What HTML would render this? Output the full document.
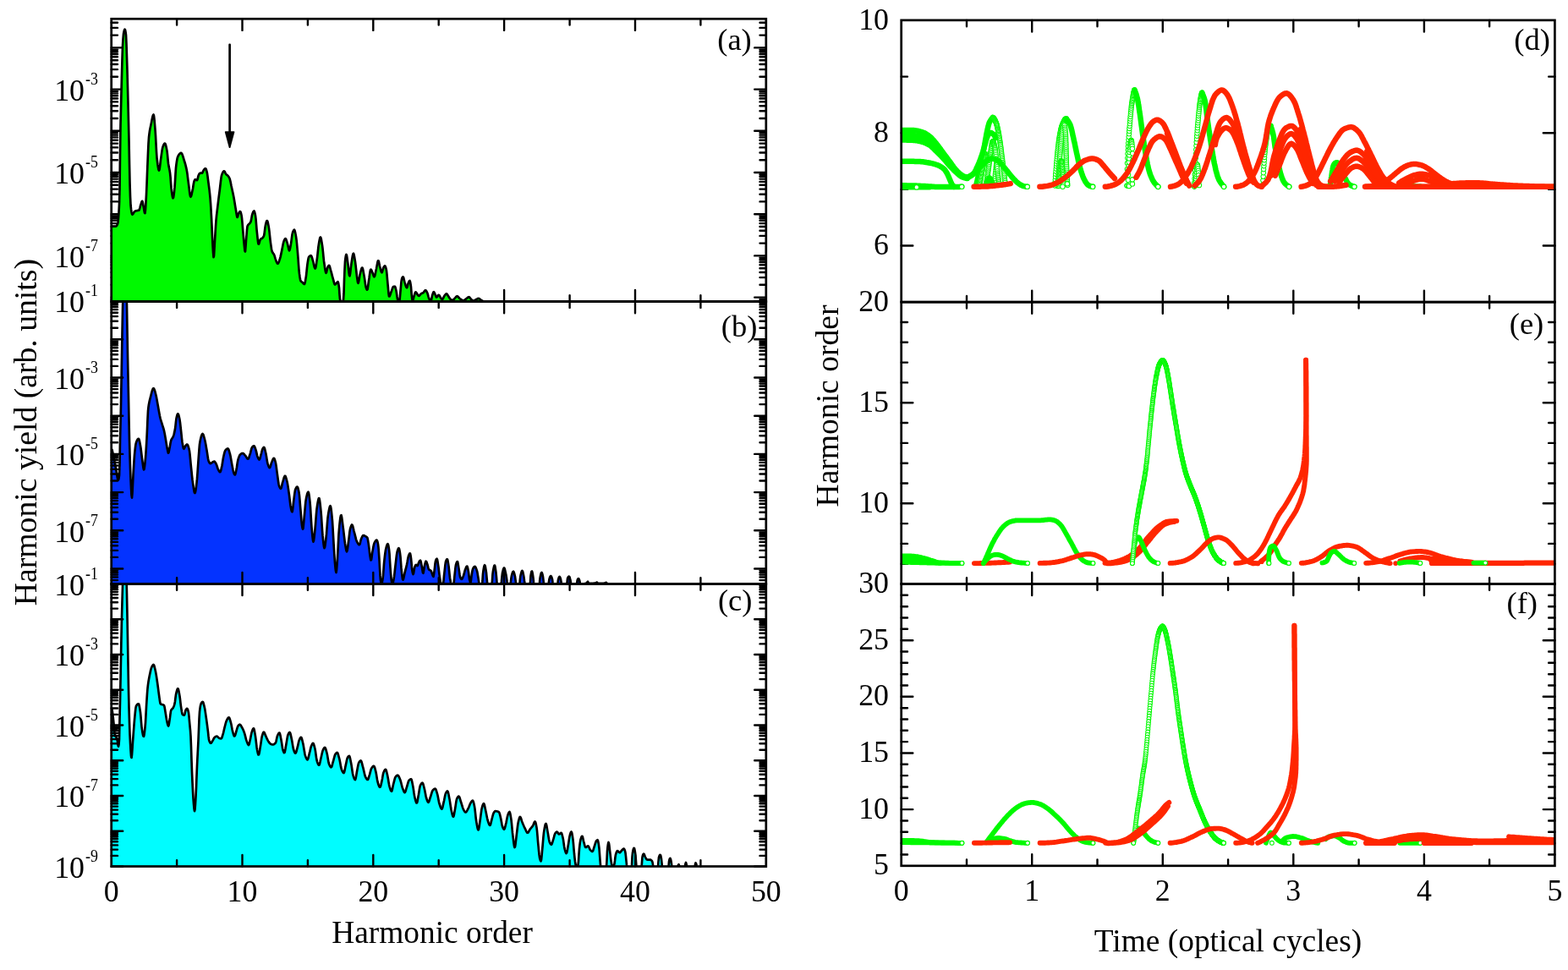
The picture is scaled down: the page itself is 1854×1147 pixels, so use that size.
<!DOCTYPE html>
<html><head><meta charset="utf-8"><title>Harmonic spectra and time-frequency analysis</title>
<style>
html,body{margin:0;padding:0;background:#fff;}
body{width:1854px;height:1147px;overflow:hidden;}
svg{display:block;}
svg text{font-family:"Liberation Serif",serif;fill:#000;}
</style></head>
<body>
<svg width="1854" height="1147" viewBox="0 0 1854 1147">
<rect width="1854" height="1147" fill="#fff"/>
<defs>
<clipPath id="cl0"><rect x="131.7" y="22.3" width="774.1" height="334.2"/></clipPath>
<clipPath id="cr0"><rect x="1065.7" y="23.9" width="772.7" height="333.2"/></clipPath>
<clipPath id="cl1"><rect x="131.7" y="356.6" width="774.1" height="333.9"/></clipPath>
<clipPath id="cr1"><rect x="1065.7" y="357.2" width="772.7" height="333.3"/></clipPath>
<clipPath id="cl2"><rect x="131.7" y="690.5" width="774.1" height="334"/></clipPath>
<clipPath id="cr2"><rect x="1065.7" y="690.5" width="772.7" height="333.3"/></clipPath>
</defs>
<path d="M286.5,22.3V35.9M441.3,22.3V35.9M596.1,22.3V35.9M751,22.3V35.9M209.1,22.3V29.6M363.9,22.3V29.6M518.7,22.3V29.6M673.6,22.3V29.6M828.4,22.3V29.6" stroke="#000" stroke-width="2.4" fill="none" stroke-linecap="round"/>
<path d="M286.5,342.9V356.6M441.3,342.9V356.6M596.1,342.9V356.6M751,342.9V356.6M209.1,349.2V356.6M363.9,349.2V356.6M518.7,349.2V356.6M673.6,349.2V356.6M828.4,349.2V356.6" stroke="#000" stroke-width="2.4" fill="none" stroke-linecap="round"/>
<path d="M131.7,351.6H145.2M131.7,302.4H145.2M131.7,253.2H145.2M131.7,204H145.2M131.7,154.8H145.2M131.7,105.6H145.2M131.7,56.4H145.2" stroke="#000" stroke-width="2.4" fill="none" stroke-linecap="round"/>
<path d="M131.7,353.9H139M131.7,336.8H139M131.7,328.1H139M131.7,322H139M131.7,317.2H139M131.7,313.3H139M131.7,310H139M131.7,307.2H139M131.7,304.7H139M131.7,287.6H139M131.7,278.9H139M131.7,272.8H139M131.7,268H139M131.7,264.1H139M131.7,260.8H139M131.7,258H139M131.7,255.5H139M131.7,238.4H139M131.7,229.7H139M131.7,223.6H139M131.7,218.8H139M131.7,214.9H139M131.7,211.6H139M131.7,208.8H139M131.7,206.3H139M131.7,189.2H139M131.7,180.5H139M131.7,174.4H139M131.7,169.6H139M131.7,165.7H139M131.7,162.4H139M131.7,159.6H139M131.7,157.1H139M131.7,140H139M131.7,131.3H139M131.7,125.2H139M131.7,120.4H139M131.7,116.5H139M131.7,113.2H139M131.7,110.4H139M131.7,107.9H139M131.7,90.8H139M131.7,82.1H139M131.7,76H139M131.7,71.2H139M131.7,67.3H139M131.7,64H139M131.7,61.2H139M131.7,58.7H139M131.7,41.6H139M131.7,32.9H139M131.7,26.8H139" stroke="#000" stroke-width="2.4" fill="none" stroke-linecap="round"/>
<path d="M892.2,351.6H905.8M892.2,302.4H905.8M892.2,253.2H905.8M892.2,204H905.8M892.2,154.8H905.8M892.2,105.6H905.8M892.2,56.4H905.8" stroke="#000" stroke-width="2.4" fill="none" stroke-linecap="round"/>
<path d="M898.5,353.9H905.8M898.5,336.8H905.8M898.5,328.1H905.8M898.5,322H905.8M898.5,317.2H905.8M898.5,313.3H905.8M898.5,310H905.8M898.5,307.2H905.8M898.5,304.7H905.8M898.5,287.6H905.8M898.5,278.9H905.8M898.5,272.8H905.8M898.5,268H905.8M898.5,264.1H905.8M898.5,260.8H905.8M898.5,258H905.8M898.5,255.5H905.8M898.5,238.4H905.8M898.5,229.7H905.8M898.5,223.6H905.8M898.5,218.8H905.8M898.5,214.9H905.8M898.5,211.6H905.8M898.5,208.8H905.8M898.5,206.3H905.8M898.5,189.2H905.8M898.5,180.5H905.8M898.5,174.4H905.8M898.5,169.6H905.8M898.5,165.7H905.8M898.5,162.4H905.8M898.5,159.6H905.8M898.5,157.1H905.8M898.5,140H905.8M898.5,131.3H905.8M898.5,125.2H905.8M898.5,120.4H905.8M898.5,116.5H905.8M898.5,113.2H905.8M898.5,110.4H905.8M898.5,107.9H905.8M898.5,90.8H905.8M898.5,82.1H905.8M898.5,76H905.8M898.5,71.2H905.8M898.5,67.3H905.8M898.5,64H905.8M898.5,61.2H905.8M898.5,58.7H905.8M898.5,41.6H905.8M898.5,32.9H905.8M898.5,26.8H905.8" stroke="#000" stroke-width="2.4" fill="none" stroke-linecap="round"/>
<g clip-path="url(#cl0)">
<path d="M131.7,359.6L131.7,267.4L132.5,267.4 133,267.5 133.5,267.6 134,267.6 134.5,267.7 135,267.7 135.5,267.7 136,267.7 136.5,267.7 137,267.7 137.5,267.4 138,266.8 138.5,266 139,265 139.5,263 140,257.9 140.5,250.8 141,241.3 141.5,224 142,182.4 142.5,147.9 143,128.5 143.5,108.7 144,88.8 144.5,69.9 145,54.6 145.5,46.1 146,40.3 146.5,37.5 147,35.6 147.5,34.7 148,35.4 148.5,37.7 149,41.4 149.5,52.3 150,67.9 150.5,84.4 151,103.7 151.5,123.9 152,144.5 152.5,166.6 153,193 153.5,216.1 154,232 154.5,242.5 155,247.2 155.5,250.7 156,253 156.5,253.6 157,253.3 157.5,252.6 158,251.7 158.5,250.9 159,250.2 159.5,249.9 160,249.6 160.5,249.5 161,249.3 161.5,249.2 162,249.1 162.5,249 163,248.9 163.5,248.8 164,248.7 164.5,248.5 165,247.3 165.5,245.5 166,243.5 166.5,241.9 167,240.3 167.5,238.7 168,237.8 168.5,238.3 169,240.6 169.5,243.5 170,246.2 170.5,249.3 171,251.8 171.5,252.1 172,247.5 172.5,239.4 173,230.3 173.5,219.1 174,205.5 174.5,193.2 175,181.1 175.5,170.1 176,162.5 176.5,158.2 177,154.8 177.5,152 178,149.7 178.5,147.4 179,144.9 179.5,142.2 180,139.7 180.5,137.6 181,136.1 181.5,135.5 182,137 182.5,141.2 183,147.1 183.5,153.3 184,160.7 184.5,170.3 185,179.8 185.5,186.8 186,191.1 186.5,195 187,198.3 187.5,200.6 188,201.6 188.5,200.6 189,197.5 189.5,193.3 190,189.1 190.5,185.7 191,182.1 191.5,178.6 192,175.7 192.5,173.8 193,172.4 193.5,171.2 194,170.3 194.5,169.7 195,169.5 195.5,170.1 196,171.6 196.5,173.6 197,176 197.5,178.7 198,183.2 198.5,188.5 199,193.2 199.5,196.4 200,198.8 200.5,201.2 201,204.2 201.5,208.9 202,215.8 202.5,222.4 203,226.6 203.5,230.1 204,232.9 204.5,234.3 205,233.7 205.5,230.8 206,226.5 206.5,221.7 207,214.7 207.5,205.8 208,198.3 208.5,194.1 209,190.7 209.5,187.9 210,185.9 210.5,184.7 211,183.8 211.5,183 212,182.3 212.5,181.7 213,181.3 213.5,181 214,180.8 214.5,181 215,181.6 215.5,182.6 216,184 216.5,185.5 217,187.2 217.5,188.9 218,190.5 218.5,192 219,193.7 219.5,195.6 220,197.6 220.5,199.9 221,202.4 221.5,205.8 222,209.8 222.5,213.9 223,217.6 223.5,221.6 224,225.8 224.5,229.5 225,232 225.5,232.7 226,231.8 226.5,230.1 227,227.8 227.5,225.5 228,223 228.5,219.8 229,216.8 229.5,214.5 230,213.3 230.5,212.4 231,212.3 231.5,212.5 232,212.8 232.5,213.1 233,213.1 233.5,212.1 234,210.1 234.5,208 235,206.7 235.5,205.8 236,205.1 236.5,204.7 237,204.6 237.5,204.7 238,204.7 238.5,204.8 239,204.7 239.5,204 240,202.9 240.5,201.7 241,200.9 241.5,200.3 242,199.8 242.5,199.4 243,199.3 243.5,199.8 244,201.1 244.5,202.9 245,205.1 245.5,208.6 246,212.6 246.5,216.5 247,220.2 247.5,224.1 248,228.5 248.5,233.6 249,240.1 249.5,248.1 250,257.1 250.5,267.6 251,280 251.5,289.8 252,298.5 252.5,304.2 253,302.5 253.5,293.7 254,284.8 254.5,276.3 255,267.8 255.5,260.7 256,255.4 256.5,251.1 257,247 257.5,242.8 258,238.7 258.5,234.6 259,230.7 259.5,226.8 260,222.9 260.5,218.5 261,214.2 261.5,210.3 262,207.6 262.5,206.1 263,204.9 263.5,203.8 264,203 264.5,202.5 265,202.3 265.5,202.6 266,203.5 266.5,204.6 267,205.6 267.5,206.2 268,206.6 268.5,207 269,207.4 269.5,207.9 270,208.5 270.5,209.2 271,210.1 271.5,211.1 272,212.7 272.5,214.8 273,217.2 273.5,219.8 274,222.1 274.5,224.3 275,226.6 275.5,228.9 276,231.3 276.5,233.8 277,236.7 277.5,239.7 278,242.9 278.5,246 279,248.8 279.5,252 280,255.1 280.5,256.9 281,256.5 281.5,254.7 282,252.8 282.5,251.7 283,250.8 283.5,250.2 284,250 284.5,250.6 285,252.3 285.5,254.5 286,257.8 286.5,263.3 287,269.7 287.5,275.6 288,281.6 288.5,287.1 289,292.1 289.5,296.8 290,297.5 290.5,291.4 291,283.9 291.5,277.9 292,271.9 292.5,267.7 293,266.5 293.5,265.8 294,265.4 294.5,264.9 295,264.4 295.5,263.7 296,263.1 296.5,262.1 297,260.2 297.5,257.2 298,254.4 298.5,252.8 299,251.5 299.5,250.4 300,249.7 300.5,249.5 301,250.5 301.5,252.5 302,255 302.5,258.9 303,265.1 303.5,271.3 304,276.2 304.5,281.2 305,285.7 305.5,288.4 306,288.6 306.5,287.3 307,285.5 307.5,283.8 308,282.9 308.5,282.5 309,282.3 309.5,282.1 310,281.7 310.5,281.3 311,280.7 311.5,280 312,279 312.5,276.9 313,272.8 313.5,268.7 314,266.1 314.5,263.9 315,262.1 315.5,261 316,261 316.5,262.2 317,264.4 317.5,267.1 318,269.9 318.5,273.9 319,278.6 319.5,283.3 320,287.3 320.5,290.9 321,294.2 321.5,296.7 322,298 322.5,298.9 323,299.6 323.5,300.2 324,301 324.5,302.2 325,303.8 325.5,305.6 326,307.2 326.5,308.4 327,309.7 327.5,310.8 328,311.6 328.5,311.7 329,311.2 329.5,310.2 330,308.9 330.5,307.4 331,305.9 331.5,304.1 332,301.9 332.5,299.6 333,297.2 333.5,294.9 334,292.3 334.5,289.7 335,287.3 335.5,285.6 336,284.3 336.5,283.3 337,282.5 337.5,282.1 338,282.5 338.5,283.6 339,285.1 339.5,286.9 340,288.6 340.5,290.6 341,293 341.5,295.2 342,296.3 342.5,295.7 343,293.7 343.5,291 344,288.3 344.5,284.9 345,280.9 345.5,277.3 346,275.2 346.5,273.8 347,272.7 347.5,272 348,271.7 348.5,272.6 349,274.5 349.5,277 350,279.8 350.5,283.2 351,287.9 351.5,293.5 352,299.2 352.5,305.6 353,312.9 353.5,319.5 354,323.9 354.5,327.5 355,330.3 355.5,332.1 356,332.8 356.5,333.2 357,333.5 357.5,333.9 358,334.4 358.5,335 359,335.5 359.5,335.9 360,335.9 360.5,334.6 361,332.2 361.5,329.2 362,326.1 362.5,321.5 363,316.4 363.5,312.2 364,308.9 364.5,306.1 365,304.2 365.5,303.5 366,303 366.5,302.6 367,302.3 367.5,302.2 368,302.4 368.5,303.5 369,305 369.5,306.7 370,308.2 370.5,310.3 371,312.6 371.5,314.8 372,316.5 372.5,317.5 373,317.2 373.5,315.2 374,312.1 374.5,308.6 375,305.1 375.5,300.6 376,295.8 376.5,291.4 377,288.2 377.5,285.3 378,282.7 378.5,280.9 379,280.5 379.5,281.6 380,283.9 380.5,286.9 381,290 381.5,293.8 382,298.7 382.5,304 383,308.7 383.5,312.3 384,315.9 384.5,319.1 385,321.6 385.5,322.8 386,322 386.5,319.6 387,317.2 387.5,315.9 388,315 388.5,314.3 389,313.9 389.5,314.3 390,315.7 390.5,317.5 391,319.4 391.5,321.1 392,322.9 392.5,324.9 393,326.8 393.5,328.6 394,330.3 394.5,332.3 395,334.2 395.5,335.7 396,336.5 396.5,336.4 397,335.8 397.5,335.2 398,334.6 398.5,334 399,333.4 399.5,333.2 400,334.3 400.5,336.9 401,340.7 401.5,348.6 402,354.1 402.5,355.5 403,356.6 403.5,357.2 404,357.4 404.5,357.3 405,356.8 405.5,355.9 406,354.6 406.5,347.7 407,331 407.5,318.9 408,309.2 408.5,304.9 409,302 409.5,300.9 410,302.1 410.5,305.4 411,309.2 411.5,312.8 412,317.5 412.5,322.2 413,325.6 413.5,326.3 414,324 414.5,319.7 415,315.1 415.5,311.5 416,308.3 416.5,305 417,302.1 417.5,300.2 418,299.7 418.5,300.9 419,303.4 419.5,306.4 420,309.5 420.5,313.4 421,318 421.5,322.7 422,326.8 422.5,330.4 423,333.7 423.5,334.8 424,333.5 424.5,331 425,327.9 425.5,325.1 426,323 426.5,321 427,319.1 427.5,317.5 428,316.6 428.5,316.6 429,318 429.5,320.4 430,323.2 430.5,325.9 431,328.9 431.5,332.5 432,336 432.5,339 433,340.8 433.5,341.9 434,342.6 434.5,342.2 435,339.6 435.5,335.8 436,331.9 436.5,328.8 437,325.1 437.5,321.7 438,319.3 438.5,318.6 439,319.2 439.5,320.2 440,321.4 440.5,322.5 441,323.9 441.5,325.4 442,326.7 442.5,327.3 443,326.7 443.5,324.9 444,322.5 444.5,320 445,317.8 445.5,315 446,312.2 446.5,309.8 447,308.3 447.5,308.3 448,309.8 448.5,312.2 449,314.6 449.5,316.5 450,318.5 450.5,320.4 451,321.8 451.5,322.3 452,321.3 452.5,319.5 453,317.6 453.5,316.3 454,315.5 454.5,314.8 455,314.4 455.5,314.7 456,315.9 456.5,317.7 457,320.1 457.5,324.7 458,330.6 458.5,336 459,341.6 459.5,347.2 460,350.5 460.5,350.5 461,349.6 461.5,348.2 462,346.7 462.5,345.2 463,344 463.5,342.5 464,341.1 464.5,339.8 465,339.1 465.5,338.9 466,338.8 466.5,338.7 467,338.8 467.5,339.9 468,341.8 468.5,344 469,347 469.5,350.7 470,353.6 470.5,354.6 471,355.3 471.5,355.8 472,356.1 472.5,355 473,350.1 473.5,344.3 474,338.8 474.5,333.1 475,330.2 475.5,328.7 476,327.7 476.5,327.3 477,327.9 477.5,329.7 478,331.9 478.5,333.8 479,335.4 479.5,337.1 480,338.7 480.5,339.8 481,340.3 481.5,339.6 482,337.6 482.5,335.5 483,334.2 483.5,333.1 484,332.2 484.5,332 485,333.3 485.5,335.9 486,339.5 486.5,346.1 487,351.3 487.5,354.8 488,356.1 488.5,354.8 489,352.5 489.5,350.5 490,348.8 490.5,347.1 491,345.8 491.5,345.4 492,345.7 492.5,346.4 493,347.3 493.5,348.1 494,348.7 494.5,349.4 495,349.8 495.5,349.9 496,349.5 496.5,348.9 497,348.2 497.5,347.6 498,347.3 498.5,347 499,346.8 499.5,346.6 500,346.4 500.5,346.1 501,345.5 501.5,344.8 502,344.1 502.5,343.5 503,343.2 503.5,343.3 504,343.9 504.5,344.8 505,345.8 505.5,347 506,348.6 506.5,350.6 507,352.4 507.5,353.5 508,354.3 508.5,355.1 509,355.6 509.5,355.8 510,354.7 510.5,352.2 511,349.7 511.5,348.1 512,346.6 512.5,345.5 513,345.2 513.5,345.9 514,347 514.5,348.1 515,349.3 515.5,350.6 516,351.5 516.5,351.5 517,350.9 517.5,350.1 518,349.3 518.5,348.8 519,348.8 519.5,349.4 520,350.2 520.5,351.2 521,352.1 521.5,352.7 522,353.4 522.5,353.9 523,354.1 523.5,353.6 524,352.7 524.5,351.6 525,350.6 525.5,349.8 526,349.1 526.5,348.5 527,347.9 527.5,347.5 528,347.4 528.5,347.7 529,348.3 529.5,349.2 530,350.1 530.5,350.8 531,351.6 531.5,352.4 532,353.1 532.5,353.7 533,354.1 533.5,354.4 534,354.6 534.5,354.8 535,354.9 535.5,354.9 536,354.7 536.5,354.2 537,353.6 537.5,352.9 538,352.4 538.5,351.9 539,351.3 539.5,350.8 540,350.4 540.5,350.2 541,350.4 541.5,350.8 542,351.3 542.5,351.9 543,352.5 543.5,353 544,353.4 544.5,353.7 545,354 545.5,354.3 546,354.6 546.5,354.9 547,355.1 547.5,355.2 548,355.3 548.5,355.2 549,355 549.5,354.7 550,354.3 550.5,353.9 551,353.5 551.5,353.2 552,352.8 552.5,352.3 553,351.9 553.5,351.5 554,351.3 554.5,351.2 555,351.5 555.5,352 556,352.6 556.5,353.3 557,353.9 557.5,354.3 558,354.8 558.5,355.2 559,355.5 559.5,355.7 560,355.7 560.5,355.6 561,355.4 561.5,355 562,354.7 562.5,354.4 563,354.1 563.5,353.9 564,353.6 564.5,353.3 565,353.1 565.5,353 566,352.9 566.5,353.1 567,353.4 567.5,353.8 568,354.2 568.5,354.6 569,355 569.5,355.2 570,355.5 570.5,355.7 571,355.9L571,359.6Z" fill="#00F900" stroke="none"/>
<path d="M131.7,267.4L132.5,267.4 133,267.5 133.5,267.6 134,267.6 134.5,267.7 135,267.7 135.5,267.7 136,267.7 136.5,267.7 137,267.7 137.5,267.4 138,266.8 138.5,266 139,265 139.5,263 140,257.9 140.5,250.8 141,241.3 141.5,224 142,182.4 142.5,147.9 143,128.5 143.5,108.7 144,88.8 144.5,69.9 145,54.6 145.5,46.1 146,40.3 146.5,37.5 147,35.6 147.5,34.7 148,35.4 148.5,37.7 149,41.4 149.5,52.3 150,67.9 150.5,84.4 151,103.7 151.5,123.9 152,144.5 152.5,166.6 153,193 153.5,216.1 154,232 154.5,242.5 155,247.2 155.5,250.7 156,253 156.5,253.6 157,253.3 157.5,252.6 158,251.7 158.5,250.9 159,250.2 159.5,249.9 160,249.6 160.5,249.5 161,249.3 161.5,249.2 162,249.1 162.5,249 163,248.9 163.5,248.8 164,248.7 164.5,248.5 165,247.3 165.5,245.5 166,243.5 166.5,241.9 167,240.3 167.5,238.7 168,237.8 168.5,238.3 169,240.6 169.5,243.5 170,246.2 170.5,249.3 171,251.8 171.5,252.1 172,247.5 172.5,239.4 173,230.3 173.5,219.1 174,205.5 174.5,193.2 175,181.1 175.5,170.1 176,162.5 176.5,158.2 177,154.8 177.5,152 178,149.7 178.5,147.4 179,144.9 179.5,142.2 180,139.7 180.5,137.6 181,136.1 181.5,135.5 182,137 182.5,141.2 183,147.1 183.5,153.3 184,160.7 184.5,170.3 185,179.8 185.5,186.8 186,191.1 186.5,195 187,198.3 187.5,200.6 188,201.6 188.5,200.6 189,197.5 189.5,193.3 190,189.1 190.5,185.7 191,182.1 191.5,178.6 192,175.7 192.5,173.8 193,172.4 193.5,171.2 194,170.3 194.5,169.7 195,169.5 195.5,170.1 196,171.6 196.5,173.6 197,176 197.5,178.7 198,183.2 198.5,188.5 199,193.2 199.5,196.4 200,198.8 200.5,201.2 201,204.2 201.5,208.9 202,215.8 202.5,222.4 203,226.6 203.5,230.1 204,232.9 204.5,234.3 205,233.7 205.5,230.8 206,226.5 206.5,221.7 207,214.7 207.5,205.8 208,198.3 208.5,194.1 209,190.7 209.5,187.9 210,185.9 210.5,184.7 211,183.8 211.5,183 212,182.3 212.5,181.7 213,181.3 213.5,181 214,180.8 214.5,181 215,181.6 215.5,182.6 216,184 216.5,185.5 217,187.2 217.5,188.9 218,190.5 218.5,192 219,193.7 219.5,195.6 220,197.6 220.5,199.9 221,202.4 221.5,205.8 222,209.8 222.5,213.9 223,217.6 223.5,221.6 224,225.8 224.5,229.5 225,232 225.5,232.7 226,231.8 226.5,230.1 227,227.8 227.5,225.5 228,223 228.5,219.8 229,216.8 229.5,214.5 230,213.3 230.5,212.4 231,212.3 231.5,212.5 232,212.8 232.5,213.1 233,213.1 233.5,212.1 234,210.1 234.5,208 235,206.7 235.5,205.8 236,205.1 236.5,204.7 237,204.6 237.5,204.7 238,204.7 238.5,204.8 239,204.7 239.5,204 240,202.9 240.5,201.7 241,200.9 241.5,200.3 242,199.8 242.5,199.4 243,199.3 243.5,199.8 244,201.1 244.5,202.9 245,205.1 245.5,208.6 246,212.6 246.5,216.5 247,220.2 247.5,224.1 248,228.5 248.5,233.6 249,240.1 249.5,248.1 250,257.1 250.5,267.6 251,280 251.5,289.8 252,298.5 252.5,304.2 253,302.5 253.5,293.7 254,284.8 254.5,276.3 255,267.8 255.5,260.7 256,255.4 256.5,251.1 257,247 257.5,242.8 258,238.7 258.5,234.6 259,230.7 259.5,226.8 260,222.9 260.5,218.5 261,214.2 261.5,210.3 262,207.6 262.5,206.1 263,204.9 263.5,203.8 264,203 264.5,202.5 265,202.3 265.5,202.6 266,203.5 266.5,204.6 267,205.6 267.5,206.2 268,206.6 268.5,207 269,207.4 269.5,207.9 270,208.5 270.5,209.2 271,210.1 271.5,211.1 272,212.7 272.5,214.8 273,217.2 273.5,219.8 274,222.1 274.5,224.3 275,226.6 275.5,228.9 276,231.3 276.5,233.8 277,236.7 277.5,239.7 278,242.9 278.5,246 279,248.8 279.5,252 280,255.1 280.5,256.9 281,256.5 281.5,254.7 282,252.8 282.5,251.7 283,250.8 283.5,250.2 284,250 284.5,250.6 285,252.3 285.5,254.5 286,257.8 286.5,263.3 287,269.7 287.5,275.6 288,281.6 288.5,287.1 289,292.1 289.5,296.8 290,297.5 290.5,291.4 291,283.9 291.5,277.9 292,271.9 292.5,267.7 293,266.5 293.5,265.8 294,265.4 294.5,264.9 295,264.4 295.5,263.7 296,263.1 296.5,262.1 297,260.2 297.5,257.2 298,254.4 298.5,252.8 299,251.5 299.5,250.4 300,249.7 300.5,249.5 301,250.5 301.5,252.5 302,255 302.5,258.9 303,265.1 303.5,271.3 304,276.2 304.5,281.2 305,285.7 305.5,288.4 306,288.6 306.5,287.3 307,285.5 307.5,283.8 308,282.9 308.5,282.5 309,282.3 309.5,282.1 310,281.7 310.5,281.3 311,280.7 311.5,280 312,279 312.5,276.9 313,272.8 313.5,268.7 314,266.1 314.5,263.9 315,262.1 315.5,261 316,261 316.5,262.2 317,264.4 317.5,267.1 318,269.9 318.5,273.9 319,278.6 319.5,283.3 320,287.3 320.5,290.9 321,294.2 321.5,296.7 322,298 322.5,298.9 323,299.6 323.5,300.2 324,301 324.5,302.2 325,303.8 325.5,305.6 326,307.2 326.5,308.4 327,309.7 327.5,310.8 328,311.6 328.5,311.7 329,311.2 329.5,310.2 330,308.9 330.5,307.4 331,305.9 331.5,304.1 332,301.9 332.5,299.6 333,297.2 333.5,294.9 334,292.3 334.5,289.7 335,287.3 335.5,285.6 336,284.3 336.5,283.3 337,282.5 337.5,282.1 338,282.5 338.5,283.6 339,285.1 339.5,286.9 340,288.6 340.5,290.6 341,293 341.5,295.2 342,296.3 342.5,295.7 343,293.7 343.5,291 344,288.3 344.5,284.9 345,280.9 345.5,277.3 346,275.2 346.5,273.8 347,272.7 347.5,272 348,271.7 348.5,272.6 349,274.5 349.5,277 350,279.8 350.5,283.2 351,287.9 351.5,293.5 352,299.2 352.5,305.6 353,312.9 353.5,319.5 354,323.9 354.5,327.5 355,330.3 355.5,332.1 356,332.8 356.5,333.2 357,333.5 357.5,333.9 358,334.4 358.5,335 359,335.5 359.5,335.9 360,335.9 360.5,334.6 361,332.2 361.5,329.2 362,326.1 362.5,321.5 363,316.4 363.5,312.2 364,308.9 364.5,306.1 365,304.2 365.5,303.5 366,303 366.5,302.6 367,302.3 367.5,302.2 368,302.4 368.5,303.5 369,305 369.5,306.7 370,308.2 370.5,310.3 371,312.6 371.5,314.8 372,316.5 372.5,317.5 373,317.2 373.5,315.2 374,312.1 374.5,308.6 375,305.1 375.5,300.6 376,295.8 376.5,291.4 377,288.2 377.5,285.3 378,282.7 378.5,280.9 379,280.5 379.5,281.6 380,283.9 380.5,286.9 381,290 381.5,293.8 382,298.7 382.5,304 383,308.7 383.5,312.3 384,315.9 384.5,319.1 385,321.6 385.5,322.8 386,322 386.5,319.6 387,317.2 387.5,315.9 388,315 388.5,314.3 389,313.9 389.5,314.3 390,315.7 390.5,317.5 391,319.4 391.5,321.1 392,322.9 392.5,324.9 393,326.8 393.5,328.6 394,330.3 394.5,332.3 395,334.2 395.5,335.7 396,336.5 396.5,336.4 397,335.8 397.5,335.2 398,334.6 398.5,334 399,333.4 399.5,333.2 400,334.3 400.5,336.9 401,340.7 401.5,348.6 402,354.1 402.5,355.5 403,356.6 403.5,357.2 404,357.4 404.5,357.3 405,356.8 405.5,355.9 406,354.6 406.5,347.7 407,331 407.5,318.9 408,309.2 408.5,304.9 409,302 409.5,300.9 410,302.1 410.5,305.4 411,309.2 411.5,312.8 412,317.5 412.5,322.2 413,325.6 413.5,326.3 414,324 414.5,319.7 415,315.1 415.5,311.5 416,308.3 416.5,305 417,302.1 417.5,300.2 418,299.7 418.5,300.9 419,303.4 419.5,306.4 420,309.5 420.5,313.4 421,318 421.5,322.7 422,326.8 422.5,330.4 423,333.7 423.5,334.8 424,333.5 424.5,331 425,327.9 425.5,325.1 426,323 426.5,321 427,319.1 427.5,317.5 428,316.6 428.5,316.6 429,318 429.5,320.4 430,323.2 430.5,325.9 431,328.9 431.5,332.5 432,336 432.5,339 433,340.8 433.5,341.9 434,342.6 434.5,342.2 435,339.6 435.5,335.8 436,331.9 436.5,328.8 437,325.1 437.5,321.7 438,319.3 438.5,318.6 439,319.2 439.5,320.2 440,321.4 440.5,322.5 441,323.9 441.5,325.4 442,326.7 442.5,327.3 443,326.7 443.5,324.9 444,322.5 444.5,320 445,317.8 445.5,315 446,312.2 446.5,309.8 447,308.3 447.5,308.3 448,309.8 448.5,312.2 449,314.6 449.5,316.5 450,318.5 450.5,320.4 451,321.8 451.5,322.3 452,321.3 452.5,319.5 453,317.6 453.5,316.3 454,315.5 454.5,314.8 455,314.4 455.5,314.7 456,315.9 456.5,317.7 457,320.1 457.5,324.7 458,330.6 458.5,336 459,341.6 459.5,347.2 460,350.5 460.5,350.5 461,349.6 461.5,348.2 462,346.7 462.5,345.2 463,344 463.5,342.5 464,341.1 464.5,339.8 465,339.1 465.5,338.9 466,338.8 466.5,338.7 467,338.8 467.5,339.9 468,341.8 468.5,344 469,347 469.5,350.7 470,353.6 470.5,354.6 471,355.3 471.5,355.8 472,356.1 472.5,355 473,350.1 473.5,344.3 474,338.8 474.5,333.1 475,330.2 475.5,328.7 476,327.7 476.5,327.3 477,327.9 477.5,329.7 478,331.9 478.5,333.8 479,335.4 479.5,337.1 480,338.7 480.5,339.8 481,340.3 481.5,339.6 482,337.6 482.5,335.5 483,334.2 483.5,333.1 484,332.2 484.5,332 485,333.3 485.5,335.9 486,339.5 486.5,346.1 487,351.3 487.5,354.8 488,356.1 488.5,354.8 489,352.5 489.5,350.5 490,348.8 490.5,347.1 491,345.8 491.5,345.4 492,345.7 492.5,346.4 493,347.3 493.5,348.1 494,348.7 494.5,349.4 495,349.8 495.5,349.9 496,349.5 496.5,348.9 497,348.2 497.5,347.6 498,347.3 498.5,347 499,346.8 499.5,346.6 500,346.4 500.5,346.1 501,345.5 501.5,344.8 502,344.1 502.5,343.5 503,343.2 503.5,343.3 504,343.9 504.5,344.8 505,345.8 505.5,347 506,348.6 506.5,350.6 507,352.4 507.5,353.5 508,354.3 508.5,355.1 509,355.6 509.5,355.8 510,354.7 510.5,352.2 511,349.7 511.5,348.1 512,346.6 512.5,345.5 513,345.2 513.5,345.9 514,347 514.5,348.1 515,349.3 515.5,350.6 516,351.5 516.5,351.5 517,350.9 517.5,350.1 518,349.3 518.5,348.8 519,348.8 519.5,349.4 520,350.2 520.5,351.2 521,352.1 521.5,352.7 522,353.4 522.5,353.9 523,354.1 523.5,353.6 524,352.7 524.5,351.6 525,350.6 525.5,349.8 526,349.1 526.5,348.5 527,347.9 527.5,347.5 528,347.4 528.5,347.7 529,348.3 529.5,349.2 530,350.1 530.5,350.8 531,351.6 531.5,352.4 532,353.1 532.5,353.7 533,354.1 533.5,354.4 534,354.6 534.5,354.8 535,354.9 535.5,354.9 536,354.7 536.5,354.2 537,353.6 537.5,352.9 538,352.4 538.5,351.9 539,351.3 539.5,350.8 540,350.4 540.5,350.2 541,350.4 541.5,350.8 542,351.3 542.5,351.9 543,352.5 543.5,353 544,353.4 544.5,353.7 545,354 545.5,354.3 546,354.6 546.5,354.9 547,355.1 547.5,355.2 548,355.3 548.5,355.2 549,355 549.5,354.7 550,354.3 550.5,353.9 551,353.5 551.5,353.2 552,352.8 552.5,352.3 553,351.9 553.5,351.5 554,351.3 554.5,351.2 555,351.5 555.5,352 556,352.6 556.5,353.3 557,353.9 557.5,354.3 558,354.8 558.5,355.2 559,355.5 559.5,355.7 560,355.7 560.5,355.6 561,355.4 561.5,355 562,354.7 562.5,354.4 563,354.1 563.5,353.9 564,353.6 564.5,353.3 565,353.1 565.5,353 566,352.9 566.5,353.1 567,353.4 567.5,353.8 568,354.2 568.5,354.6 569,355 569.5,355.2 570,355.5 570.5,355.7 571,355.9" fill="none" stroke="#000" stroke-width="2.7" stroke-linejoin="round" stroke-linecap="round"/>
</g>
<g clip-path="url(#cl1)">
<path d="M131.7,693.5L131.7,531.8L132.5,531.8 133,534 133.5,536.2 134,538.6 134.5,541 135,543.4 135.5,546 136,548.7 136.5,551.4 137,554.1 137.5,556.8 138,559.7 138.5,563 139,565.9 139.5,567.6 140,567.5 140.5,565.6 141,562.1 141.5,548.8 142,521.2 142.5,501.3 143,478.7 143.5,453 144,423.3 144.5,393.9 145,367.8 145.5,344.6 146,326 146.5,318.7 147,313.7 147.5,311.5 148,312.8 148.5,317.2 149,323.8 149.5,338.4 150,362.1 150.5,392 151,421.6 151.5,446.8 152,471.4 152.5,497.7 153,520.5 153.5,537.6 154,553.4 154.5,566.6 155,576.9 155.5,585.6 156,588.6 156.5,583.1 157,572.7 157.5,562.1 158,553.7 158.5,545.4 159,538.2 159.5,533.1 160,528.7 160.5,525.3 161,523.3 161.5,521.9 162,520.8 162.5,519.8 163,519.2 163.5,518.8 164,518.8 164.5,519.9 165,521.9 165.5,524.3 166,526.9 166.5,530 167,534.1 167.5,538.4 168,542.4 168.5,546 169,550 169.5,553.4 170,555.4 170.5,554.8 171,551.5 171.5,546.8 172,541.8 172.5,535.2 173,527.2 173.5,518.5 174,507.9 174.5,495.7 175,486 175.5,481.3 176,478 176.5,475.4 177,473.2 177.5,471.3 178,469.3 178.5,467.3 179,465.3 179.5,463.4 180,461.7 180.5,460.4 181,459.5 181.5,459.1 182,459.5 182.5,460.5 183,461.9 183.5,463.7 184,465.7 184.5,467.6 185,469.9 185.5,472.5 186,475.4 186.5,478.3 187,481.1 187.5,483.9 188,486.8 188.5,489.5 189,492.1 189.5,494.3 190,496.2 190.5,497.8 191,499.4 191.5,501 192,502.6 192.5,504.2 193,505.7 193.5,507.4 194,509.3 194.5,511.7 195,514.3 195.5,517.2 196,520.1 196.5,523.1 197,526.3 197.5,529.4 198,531.8 198.5,534.3 199,535.7 199.5,535.1 200,532.6 200.5,529.7 201,527.2 201.5,524.3 202,521.8 202.5,520.2 203,519.2 203.5,518.4 204,517.6 204.5,516.8 205,515.7 205.5,514.1 206,512.2 206.5,509.9 207,507.3 207.5,503.4 208,498.7 208.5,494.8 209,492.6 209.5,490.7 210,489.5 210.5,489.3 211,490.2 211.5,491.9 212,494 212.5,496.4 213,500 213.5,504.4 214,508.9 214.5,513.6 215,518.6 215.5,522.9 216,525.8 216.5,528.5 217,530.3 217.5,530.7 218,530 218.5,528.9 219,527.8 219.5,527 220,526.4 220.5,525.8 221,525.5 221.5,525.5 222,526.2 222.5,527.4 223,529 223.5,530.9 224,533.2 224.5,537.2 225,542.4 225.5,547.8 226,552.8 226.5,557.7 227,562.6 227.5,567.2 228,570.9 228.5,574.4 229,577.8 229.5,580.6 230,582.6 230.5,583.1 231,581.8 231.5,579 232,575.2 232.5,571.1 233,566.2 233.5,559.5 234,552 234.5,544.8 235,538.1 235.5,531.1 236,525.4 236.5,522.2 237,519.8 237.5,517.7 238,515.8 238.5,514.4 239,513.5 239.5,513 240,513.3 240.5,514.2 241,515.8 241.5,517.6 242,519.5 242.5,521.5 243,524 243.5,526.7 244,529.7 244.5,532.6 245,535.6 245.5,539.1 246,542.3 246.5,544.7 247,545.9 247.5,546.9 248,547.6 248.5,548.1 249,548.1 249.5,547.9 250,547.6 250.5,547.1 251,546.7 251.5,546.4 252,546.1 252.5,545.9 253,545.7 253.5,545.7 254,546 254.5,546.7 255,547.5 255.5,548.4 256,549.5 256.5,550.9 257,552.5 257.5,554 258,555.1 258.5,556.1 259,557 259.5,557.7 260,558.2 260.5,558 261,556.8 261.5,554.9 262,552.8 262.5,550.5 263,547.6 263.5,544.3 264,541.3 264.5,539 265,536.8 265.5,534.9 266,533.4 266.5,532.5 267,531.9 267.5,531.4 268,531 268.5,530.7 269,530.5 269.5,530.4 270,530.9 270.5,532 271,533.5 271.5,535.3 272,537 272.5,539.2 273,541.9 273.5,544.9 274,547.8 274.5,550.5 275,553.1 275.5,555.7 276,557.9 276.5,559.5 277,560.6 277.5,561.4 278,561.4 278.5,559.9 279,557.5 279.5,555 280,552.2 280.5,548.8 281,545.7 281.5,543.4 282,541.8 282.5,540.4 283,539.2 283.5,538.2 284,537.6 284.5,537.1 285,536.7 285.5,536.4 286,536.1 286.5,536 287,536 287.5,536.1 288,536.5 288.5,537 289,537.5 289.5,538.1 290,538.6 290.5,539.3 291,540.1 291.5,540.9 292,541.7 292.5,542.3 293,542.6 293.5,542.5 294,541.7 294.5,540.4 295,538.9 295.5,537.4 296,535.8 296.5,533.8 297,531.8 297.5,530.1 298,529.1 298.5,528.4 299,527.9 299.5,527.5 300,527.3 300.5,527.4 301,528.1 301.5,529.3 302,530.6 302.5,532.1 303,533.9 303.5,536.1 304,538.3 304.5,539.9 305,541.1 305.5,542.2 306,543.1 306.5,543.5 307,543 307.5,541.7 308,539.8 308.5,537.9 309,536.1 309.5,534 310,532.1 310.5,530.8 311,529.9 311.5,529.3 312,528.9 312.5,529.3 313,530.6 313.5,532.6 314,534.7 314.5,536.9 315,539.8 315.5,542.9 316,545.8 316.5,548.1 317,549.6 317.5,551.1 318,552.3 318.5,553.1 319,553.1 319.5,552.2 320,550.6 320.5,548.8 321,547.2 321.5,546 322,544.7 322.5,543.5 323,542.5 323.5,541.9 324,541.9 324.5,542.6 325,543.9 325.5,545.6 326,547.5 326.5,550.5 327,554.2 327.5,558.2 328,561.8 328.5,565.4 329,569.1 329.5,572.3 330,574.4 330.5,575.7 331,576.7 331.5,577.5 332,577.8 332.5,577.1 333,575.3 333.5,573.1 334,570.9 334.5,569.3 335,567.6 335.5,565.8 336,564.3 336.5,563.2 337,562.7 337.5,563.1 338,564.3 338.5,565.9 339,567.8 339.5,569.7 340,572.3 340.5,575.3 341,578.6 341.5,582.1 342,585.6 342.5,589.8 343,594.2 343.5,598 344,600.8 344.5,603.1 345,604.9 345.5,605.4 346,603.1 346.5,598.8 347,594.1 347.5,590.2 348,586.2 348.5,582.4 349,579.5 349.5,578.1 350,577.1 350.5,576.3 351,575.8 351.5,575.6 352,576.3 352.5,577.8 353,579.8 353.5,582.2 354,586.2 354.5,591.9 355,598.3 355.5,604.2 356,610.3 356.5,616.6 357,621.3 357.5,624 358,625.7 358.5,624.6 359,619.8 359.5,613.8 360,608.5 360.5,602.9 361,597.2 361.5,592.4 362,589.4 362.5,587 363,584.9 363.5,583.2 364,582.1 364.5,581.6 365,582.7 365.5,585.5 366,589.4 366.5,593.6 367,599.7 367.5,608 368,616.7 368.5,623.7 369,629.3 369.5,634.7 370,638.8 370.5,640.6 371,639.1 371.5,635.4 372,630.6 372.5,625.9 373,620.2 373.5,613.6 374,607.2 374.5,602 375,598.5 375.5,595.3 376,592.5 376.5,590.3 377,589.1 377.5,589.4 378,591.7 378.5,595.5 379,600 379.5,604.8 380,611.2 380.5,619 381,626.8 381.5,633.2 382,638 382.5,642.7 383,646.3 383.5,648.1 384,647.2 384.5,644.4 385,640.5 385.5,636.3 386,631.4 386.5,624.9 387,618.2 387.5,612.5 388,608.9 388.5,605.8 389,603 389.5,600.7 390,599 390.5,598.2 391,599 391.5,601.7 392,605.9 392.5,610.9 393,616.2 393.5,624 394,633.2 394.5,642.4 395,650.4 395.5,658.4 396,665.6 396.5,671 397,675.1 397.5,677 398,674.1 398.5,667.6 399,660.4 399.5,651.6 400,641.1 400.5,631.5 401,625.3 401.5,620.1 402,615.5 402.5,611.8 403,609.6 403.5,609.2 404,611 404.5,614.4 405,618.5 405.5,622.5 406,626.3 406.5,630.5 407,634.9 407.5,639.1 408,642.8 408.5,645.8 409,648.8 409.5,651.2 410,652.3 410.5,651.2 411,648.3 411.5,644.5 412,640.8 412.5,637 413,632.6 413.5,628.5 414,625.7 414.5,623.9 415,622.4 415.5,621.2 416,620.5 416.5,620.7 417,621.8 417.5,623.7 418,625.9 418.5,628 419,629.8 419.5,631.7 420,633.7 420.5,635.7 421,637.6 421.5,639.2 422,640.4 422.5,641.4 423,642.3 423.5,643.1 424,643.7 424.5,644.1 425,644.2 425.5,643.3 426,641.4 426.5,639.2 427,637.5 427.5,636.3 428,635.2 428.5,634.2 429,633.4 429.5,633 430,633.1 430.5,633.2 431,633.5 431.5,633.8 432,634.1 432.5,634.4 433,634.7 433.5,635 434,635.3 434.5,636.2 435,638.5 435.5,641.6 436,644.8 436.5,648.8 437,653.3 437.5,657 438,660.1 438.5,662.4 439,662.1 439.5,659 440,654.9 440.5,651.7 441,648.9 441.5,646.3 442,644 442.5,642.4 443,641.4 443.5,640.4 444,639.6 444.5,639 445,638.7 445.5,638.6 446,639.4 446.5,641.1 447,643.5 447.5,647.5 448,654.3 448.5,661.8 449,671.5 449.5,680.9 450,686.1 450.5,689.6 451,690.8 451.5,689.8 452,687.6 452.5,684.7 453,680.6 453.5,673.9 454,667.1 454.5,662 455,657.5 455.5,653.5 456,650.3 456.5,648.1 457,646.2 457.5,644.6 458,643.5 458.5,643.1 459,644.1 459.5,646.4 460,649.6 460.5,654.6 461,663.1 461.5,671 462,677.6 462.5,683.6 463,687.5 463.5,689.8 464,690.8 464.5,689.9 465,687.7 465.5,685 466,682 466.5,677.9 467,673.3 467.5,668.8 468,664.6 468.5,660.2 469,656.1 469.5,653 470,651.2 470.5,649.7 471,648.5 471.5,648.1 472,648.9 472.5,651.2 473,654.3 473.5,658.4 474,665.1 474.5,671.9 475,676.8 475.5,681.4 476,684.8 476.5,685.7 477,684.6 477.5,682.5 478,679.9 478.5,677.6 479,675.7 479.5,673.7 480,671.8 480.5,669.8 481,667.6 481.5,665.1 482,662.2 482.5,659.5 483,657.5 483.5,656.2 484,655.1 484.5,654.4 485,654.6 485.5,656.8 486,660.1 486.5,665.1 487,671.8 487.5,675.4 488,677.8 488.5,679 489,678 489.5,674.9 490,671.8 490.5,670.1 491,669 491.5,668.1 492,667.8 492.5,668.1 493,668.7 493.5,669 494,668.6 494.5,667.1 495,665.5 495.5,664.5 496,663.6 496.5,662.9 497,662.7 497.5,663.7 498,665.9 498.5,668.4 499,671.1 499.5,674.5 500,677.3 500.5,677.7 501,675.3 501.5,671.8 502,669 502.5,666.8 503,664.9 503.5,663.7 504,663.9 504.5,664.9 505,666.4 505.5,667.8 506,669.8 506.5,671.9 507,673.2 507.5,673.7 508,673.9 508.5,674.2 509,674.4 509.5,674.9 510,675.7 510.5,677.1 511,678.6 511.5,680 512,681.4 512.5,681.8 513,679.4 513.5,675.6 514,671.5 514.5,666.4 515,663.6 515.5,662.1 516,661.1 516.5,660.7 517,661.6 517.5,664.2 518,667.6 518.5,671 519,675.2 519.5,679.6 520,683 520.5,686.1 521,688.9 521.5,690.5 522,690.8 522.5,690.8 523,690.8 523.5,690.8 524,690.2 524.5,686.6 525,681.4 525.5,676.7 526,672.1 526.5,667.5 527,664.3 527.5,662.9 528,661.9 528.5,661.2 529,661.4 529.5,663.2 530,666.2 530.5,669.4 531,673.8 531.5,679 532,683.4 532.5,686.2 533,688.8 533.5,690.5 534,690.8 534.5,690.8 535,690.8 535.5,690.8 536,690.8 536.5,690.3 537,686 537.5,680.3 538,675.9 538.5,671.3 539,667.9 539.5,666.3 540,665 540.5,664.2 541,664.2 541.5,666.1 542,669.3 542.5,672.4 543,675.6 543.5,679.2 544,681.9 544.5,683.2 545,684.2 545.5,684.8 546,684.9 546.5,684.3 547,683.3 547.5,682.1 548,680.8 548.5,679.3 549,677.4 549.5,675.4 550,673.7 550.5,672.4 551,671.2 551.5,670.2 552,669.6 552.5,669.8 553,671.4 553.5,673.8 554,676.4 554.5,680.5 555,684.6 555.5,686.9 556,688.6 556.5,688.9 557,685.5 557.5,681.1 558,678 558.5,675.1 559,673 559.5,671.9 560,671 560.5,670.4 561,670 561.5,669.9 562,670.2 562.5,671.1 563,672.2 563.5,673.6 564,675.1 564.5,677.4 565,680.5 565.5,683.5 566,686.9 566.5,690.2 567,690.8 567.5,690.8 568,690.8 568.5,690.8 569,690.8 569.5,690.8 570,690.8 570.5,687 571,678.6 571.5,674.7 572,671.6 572.5,669.3 573,668.2 573.5,668.8 574,670.9 574.5,673.9 575,677.2 575.5,682.8 576,688.4 576.5,690.8 577,690.8 577.5,690.8 578,690.8 578.5,690.8 579,690.8 579.5,690.8 580,690.8 580.5,690.8 581,690.8 581.5,690.8 582,686.3 582.5,678.9 583,675.3 583.5,672.5 584,670.2 584.5,668.8 585,668.6 585.5,670.4 586,673.6 586.5,677.3 587,682.7 587.5,688.9 588,690.8 588.5,690.8 589,690.8 589.5,690.8 590,690.8 590.5,690.8 591,690.8 591.5,690.8 592,690.8 592.5,690.6 593,687.2 593.5,681.8 594,677.6 594.5,675.5 595,673.5 595.5,672.1 596,671.5 596.5,672 597,673.6 597.5,675.7 598,678 598.5,680.4 599,683.7 599.5,687.3 600,689.9 600.5,690.8 601,690.8 601.5,690.8 602,690.8 602.5,690.8 603,690.8 603.5,690.3 604,687.2 604.5,683.2 605,680.5 605.5,678.7 606,677.1 606.5,676.1 607,675.7 607.5,676.4 608,677.8 608.5,679.7 609,681.8 609.5,685.6 610,689.3 610.5,690.8 611,690.8 611.5,690.8 612,690.8 612.5,690.8 613,690.8 613.5,690.8 614,690.8 614.5,689.3 615,684.5 615.5,680.6 616,678.5 616.5,676.7 617,675.3 617.5,674.9 618,675.7 618.5,677.7 619,680 619.5,682.8 620,686.7 620.5,690 621,690.8 621.5,690.8 622,690.8 622.5,690.8 623,690.8 623.5,690.8 624,690.8 624.5,690.8 625,690.8 625.5,690.8 626,690.8 626.5,690.8 627,688.1 627.5,680.9 628,678 628.5,675.9 629,675.5 629.5,677.1 630,680 630.5,683.4 631,688.7 631.5,690.8 632,690.8 632.5,690.8 633,690.8 633.5,690.8 634,690.8 634.5,690.8 635,690.8 635.5,690.8 636,690.8 636.5,690.8 637,690.8 637.5,690.8 638,688.7 638.5,684 639,681.2 639.5,679 640,677.4 640.5,676.9 641,677.8 641.5,679.6 642,682 642.5,686.2 643,690.6 643.5,690.8 644,690.8 644.5,690.8 645,690.8 645.5,690.8 646,690.8 646.5,690.8 647,690.8 647.5,690.8 648,690.8 648.5,690.7 649,688.1 649.5,684.6 650,683.1 650.5,681.9 651,681.2 651.5,681.2 652,682 652.5,683.3 653,685 653.5,688.5 654,690.8 654.5,690.8 655,690.8 655.5,690.8 656,690.8 656.5,690.8 657,690.8 657.5,690.8 658,690.8 658.5,690.8 659,690.8 659.5,688.8 660,685.6 660.5,683.9 661,682.5 661.5,681.9 662,682.3 662.5,683.4 663,684.9 663.5,688.1 664,690.8 664.5,690.8 665,690.8 665.5,690.8 666,690.8 666.5,690.8 667,690.8 667.5,690.8 668,690.8 668.5,690.8 669,690.8 669.5,690.8 670,690.8 670.5,689.1 671,684.3 671.5,683 672,682.1 672.5,681.6 673,681.7 673.5,682.7 674,684.3 674.5,686.3 675,690 675.5,690.8 676,690.8 676.5,690.8 677,690.8 677.5,690.8 678,690.8 678.5,690.8 679,690.8 679.5,690.8 680,690.8 680.5,690.8 681,690.8 681.5,690.8 682,690.7 682.5,687.2 683,685.2 683.5,684.4 684,684.1 684.5,684.7 685,685.8 685.5,687.7 686,690.6 686.5,690.8 687,690.8 687.5,690.7 688,690.7 688.5,690.7 689,690.6 689.5,690.5 690,690.4 690.5,690.3 691,690.2 691.5,690.1 692,690 692.5,689.8 693,689.7 693.5,689.5 694,689.1 694.5,688.2 695,687.8 695.5,688.7 696,689.8 696.5,689.9 697,689.9 697.5,689.9 698,689.9 698.5,689.9 699,689.9 699.5,689.9 700,689.9 700.5,689.8 701,689.8 701.5,689.8 702,689.7 702.5,689.7 703,689.6 703.5,689.6 704,689.5 704.5,689.4 705,689.1 705.5,688.5 706,688.7 706.5,689.6 707,689.9 707.5,689.9 708,689.9 708.5,689.9 709,689.9 709.5,689.9 710,689.9 710.5,689.9 711,689.9 711.5,689.9 712,689.8 712.5,689.8 713,689.8 713.5,689.8 714,689.7 714.5,689.7 715,689.6 715.5,689.6 716,689.2 716.5,688.8 717,689 717.5,689.6L717.5,693.5Z" fill="#0433FF" stroke="none"/>
<path d="M131.7,531.8L132.5,531.8 133,534 133.5,536.2 134,538.6 134.5,541 135,543.4 135.5,546 136,548.7 136.5,551.4 137,554.1 137.5,556.8 138,559.7 138.5,563 139,565.9 139.5,567.6 140,567.5 140.5,565.6 141,562.1 141.5,548.8 142,521.2 142.5,501.3 143,478.7 143.5,453 144,423.3 144.5,393.9 145,367.8 145.5,344.6 146,326 146.5,318.7 147,313.7 147.5,311.5 148,312.8 148.5,317.2 149,323.8 149.5,338.4 150,362.1 150.5,392 151,421.6 151.5,446.8 152,471.4 152.5,497.7 153,520.5 153.5,537.6 154,553.4 154.5,566.6 155,576.9 155.5,585.6 156,588.6 156.5,583.1 157,572.7 157.5,562.1 158,553.7 158.5,545.4 159,538.2 159.5,533.1 160,528.7 160.5,525.3 161,523.3 161.5,521.9 162,520.8 162.5,519.8 163,519.2 163.5,518.8 164,518.8 164.5,519.9 165,521.9 165.5,524.3 166,526.9 166.5,530 167,534.1 167.5,538.4 168,542.4 168.5,546 169,550 169.5,553.4 170,555.4 170.5,554.8 171,551.5 171.5,546.8 172,541.8 172.5,535.2 173,527.2 173.5,518.5 174,507.9 174.5,495.7 175,486 175.5,481.3 176,478 176.5,475.4 177,473.2 177.5,471.3 178,469.3 178.5,467.3 179,465.3 179.5,463.4 180,461.7 180.5,460.4 181,459.5 181.5,459.1 182,459.5 182.5,460.5 183,461.9 183.5,463.7 184,465.7 184.5,467.6 185,469.9 185.5,472.5 186,475.4 186.5,478.3 187,481.1 187.5,483.9 188,486.8 188.5,489.5 189,492.1 189.5,494.3 190,496.2 190.5,497.8 191,499.4 191.5,501 192,502.6 192.5,504.2 193,505.7 193.5,507.4 194,509.3 194.5,511.7 195,514.3 195.5,517.2 196,520.1 196.5,523.1 197,526.3 197.5,529.4 198,531.8 198.5,534.3 199,535.7 199.5,535.1 200,532.6 200.5,529.7 201,527.2 201.5,524.3 202,521.8 202.5,520.2 203,519.2 203.5,518.4 204,517.6 204.5,516.8 205,515.7 205.5,514.1 206,512.2 206.5,509.9 207,507.3 207.5,503.4 208,498.7 208.5,494.8 209,492.6 209.5,490.7 210,489.5 210.5,489.3 211,490.2 211.5,491.9 212,494 212.5,496.4 213,500 213.5,504.4 214,508.9 214.5,513.6 215,518.6 215.5,522.9 216,525.8 216.5,528.5 217,530.3 217.5,530.7 218,530 218.5,528.9 219,527.8 219.5,527 220,526.4 220.5,525.8 221,525.5 221.5,525.5 222,526.2 222.5,527.4 223,529 223.5,530.9 224,533.2 224.5,537.2 225,542.4 225.5,547.8 226,552.8 226.5,557.7 227,562.6 227.5,567.2 228,570.9 228.5,574.4 229,577.8 229.5,580.6 230,582.6 230.5,583.1 231,581.8 231.5,579 232,575.2 232.5,571.1 233,566.2 233.5,559.5 234,552 234.5,544.8 235,538.1 235.5,531.1 236,525.4 236.5,522.2 237,519.8 237.5,517.7 238,515.8 238.5,514.4 239,513.5 239.5,513 240,513.3 240.5,514.2 241,515.8 241.5,517.6 242,519.5 242.5,521.5 243,524 243.5,526.7 244,529.7 244.5,532.6 245,535.6 245.5,539.1 246,542.3 246.5,544.7 247,545.9 247.5,546.9 248,547.6 248.5,548.1 249,548.1 249.5,547.9 250,547.6 250.5,547.1 251,546.7 251.5,546.4 252,546.1 252.5,545.9 253,545.7 253.5,545.7 254,546 254.5,546.7 255,547.5 255.5,548.4 256,549.5 256.5,550.9 257,552.5 257.5,554 258,555.1 258.5,556.1 259,557 259.5,557.7 260,558.2 260.5,558 261,556.8 261.5,554.9 262,552.8 262.5,550.5 263,547.6 263.5,544.3 264,541.3 264.5,539 265,536.8 265.5,534.9 266,533.4 266.5,532.5 267,531.9 267.5,531.4 268,531 268.5,530.7 269,530.5 269.5,530.4 270,530.9 270.5,532 271,533.5 271.5,535.3 272,537 272.5,539.2 273,541.9 273.5,544.9 274,547.8 274.5,550.5 275,553.1 275.5,555.7 276,557.9 276.5,559.5 277,560.6 277.5,561.4 278,561.4 278.5,559.9 279,557.5 279.5,555 280,552.2 280.5,548.8 281,545.7 281.5,543.4 282,541.8 282.5,540.4 283,539.2 283.5,538.2 284,537.6 284.5,537.1 285,536.7 285.5,536.4 286,536.1 286.5,536 287,536 287.5,536.1 288,536.5 288.5,537 289,537.5 289.5,538.1 290,538.6 290.5,539.3 291,540.1 291.5,540.9 292,541.7 292.5,542.3 293,542.6 293.5,542.5 294,541.7 294.5,540.4 295,538.9 295.5,537.4 296,535.8 296.5,533.8 297,531.8 297.5,530.1 298,529.1 298.5,528.4 299,527.9 299.5,527.5 300,527.3 300.5,527.4 301,528.1 301.5,529.3 302,530.6 302.5,532.1 303,533.9 303.5,536.1 304,538.3 304.5,539.9 305,541.1 305.5,542.2 306,543.1 306.5,543.5 307,543 307.5,541.7 308,539.8 308.5,537.9 309,536.1 309.5,534 310,532.1 310.5,530.8 311,529.9 311.5,529.3 312,528.9 312.5,529.3 313,530.6 313.5,532.6 314,534.7 314.5,536.9 315,539.8 315.5,542.9 316,545.8 316.5,548.1 317,549.6 317.5,551.1 318,552.3 318.5,553.1 319,553.1 319.5,552.2 320,550.6 320.5,548.8 321,547.2 321.5,546 322,544.7 322.5,543.5 323,542.5 323.5,541.9 324,541.9 324.5,542.6 325,543.9 325.5,545.6 326,547.5 326.5,550.5 327,554.2 327.5,558.2 328,561.8 328.5,565.4 329,569.1 329.5,572.3 330,574.4 330.5,575.7 331,576.7 331.5,577.5 332,577.8 332.5,577.1 333,575.3 333.5,573.1 334,570.9 334.5,569.3 335,567.6 335.5,565.8 336,564.3 336.5,563.2 337,562.7 337.5,563.1 338,564.3 338.5,565.9 339,567.8 339.5,569.7 340,572.3 340.5,575.3 341,578.6 341.5,582.1 342,585.6 342.5,589.8 343,594.2 343.5,598 344,600.8 344.5,603.1 345,604.9 345.5,605.4 346,603.1 346.5,598.8 347,594.1 347.5,590.2 348,586.2 348.5,582.4 349,579.5 349.5,578.1 350,577.1 350.5,576.3 351,575.8 351.5,575.6 352,576.3 352.5,577.8 353,579.8 353.5,582.2 354,586.2 354.5,591.9 355,598.3 355.5,604.2 356,610.3 356.5,616.6 357,621.3 357.5,624 358,625.7 358.5,624.6 359,619.8 359.5,613.8 360,608.5 360.5,602.9 361,597.2 361.5,592.4 362,589.4 362.5,587 363,584.9 363.5,583.2 364,582.1 364.5,581.6 365,582.7 365.5,585.5 366,589.4 366.5,593.6 367,599.7 367.5,608 368,616.7 368.5,623.7 369,629.3 369.5,634.7 370,638.8 370.5,640.6 371,639.1 371.5,635.4 372,630.6 372.5,625.9 373,620.2 373.5,613.6 374,607.2 374.5,602 375,598.5 375.5,595.3 376,592.5 376.5,590.3 377,589.1 377.5,589.4 378,591.7 378.5,595.5 379,600 379.5,604.8 380,611.2 380.5,619 381,626.8 381.5,633.2 382,638 382.5,642.7 383,646.3 383.5,648.1 384,647.2 384.5,644.4 385,640.5 385.5,636.3 386,631.4 386.5,624.9 387,618.2 387.5,612.5 388,608.9 388.5,605.8 389,603 389.5,600.7 390,599 390.5,598.2 391,599 391.5,601.7 392,605.9 392.5,610.9 393,616.2 393.5,624 394,633.2 394.5,642.4 395,650.4 395.5,658.4 396,665.6 396.5,671 397,675.1 397.5,677 398,674.1 398.5,667.6 399,660.4 399.5,651.6 400,641.1 400.5,631.5 401,625.3 401.5,620.1 402,615.5 402.5,611.8 403,609.6 403.5,609.2 404,611 404.5,614.4 405,618.5 405.5,622.5 406,626.3 406.5,630.5 407,634.9 407.5,639.1 408,642.8 408.5,645.8 409,648.8 409.5,651.2 410,652.3 410.5,651.2 411,648.3 411.5,644.5 412,640.8 412.5,637 413,632.6 413.5,628.5 414,625.7 414.5,623.9 415,622.4 415.5,621.2 416,620.5 416.5,620.7 417,621.8 417.5,623.7 418,625.9 418.5,628 419,629.8 419.5,631.7 420,633.7 420.5,635.7 421,637.6 421.5,639.2 422,640.4 422.5,641.4 423,642.3 423.5,643.1 424,643.7 424.5,644.1 425,644.2 425.5,643.3 426,641.4 426.5,639.2 427,637.5 427.5,636.3 428,635.2 428.5,634.2 429,633.4 429.5,633 430,633.1 430.5,633.2 431,633.5 431.5,633.8 432,634.1 432.5,634.4 433,634.7 433.5,635 434,635.3 434.5,636.2 435,638.5 435.5,641.6 436,644.8 436.5,648.8 437,653.3 437.5,657 438,660.1 438.5,662.4 439,662.1 439.5,659 440,654.9 440.5,651.7 441,648.9 441.5,646.3 442,644 442.5,642.4 443,641.4 443.5,640.4 444,639.6 444.5,639 445,638.7 445.5,638.6 446,639.4 446.5,641.1 447,643.5 447.5,647.5 448,654.3 448.5,661.8 449,671.5 449.5,680.9 450,686.1 450.5,689.6 451,690.8 451.5,689.8 452,687.6 452.5,684.7 453,680.6 453.5,673.9 454,667.1 454.5,662 455,657.5 455.5,653.5 456,650.3 456.5,648.1 457,646.2 457.5,644.6 458,643.5 458.5,643.1 459,644.1 459.5,646.4 460,649.6 460.5,654.6 461,663.1 461.5,671 462,677.6 462.5,683.6 463,687.5 463.5,689.8 464,690.8 464.5,689.9 465,687.7 465.5,685 466,682 466.5,677.9 467,673.3 467.5,668.8 468,664.6 468.5,660.2 469,656.1 469.5,653 470,651.2 470.5,649.7 471,648.5 471.5,648.1 472,648.9 472.5,651.2 473,654.3 473.5,658.4 474,665.1 474.5,671.9 475,676.8 475.5,681.4 476,684.8 476.5,685.7 477,684.6 477.5,682.5 478,679.9 478.5,677.6 479,675.7 479.5,673.7 480,671.8 480.5,669.8 481,667.6 481.5,665.1 482,662.2 482.5,659.5 483,657.5 483.5,656.2 484,655.1 484.5,654.4 485,654.6 485.5,656.8 486,660.1 486.5,665.1 487,671.8 487.5,675.4 488,677.8 488.5,679 489,678 489.5,674.9 490,671.8 490.5,670.1 491,669 491.5,668.1 492,667.8 492.5,668.1 493,668.7 493.5,669 494,668.6 494.5,667.1 495,665.5 495.5,664.5 496,663.6 496.5,662.9 497,662.7 497.5,663.7 498,665.9 498.5,668.4 499,671.1 499.5,674.5 500,677.3 500.5,677.7 501,675.3 501.5,671.8 502,669 502.5,666.8 503,664.9 503.5,663.7 504,663.9 504.5,664.9 505,666.4 505.5,667.8 506,669.8 506.5,671.9 507,673.2 507.5,673.7 508,673.9 508.5,674.2 509,674.4 509.5,674.9 510,675.7 510.5,677.1 511,678.6 511.5,680 512,681.4 512.5,681.8 513,679.4 513.5,675.6 514,671.5 514.5,666.4 515,663.6 515.5,662.1 516,661.1 516.5,660.7 517,661.6 517.5,664.2 518,667.6 518.5,671 519,675.2 519.5,679.6 520,683 520.5,686.1 521,688.9 521.5,690.5 522,690.8 522.5,690.8 523,690.8 523.5,690.8 524,690.2 524.5,686.6 525,681.4 525.5,676.7 526,672.1 526.5,667.5 527,664.3 527.5,662.9 528,661.9 528.5,661.2 529,661.4 529.5,663.2 530,666.2 530.5,669.4 531,673.8 531.5,679 532,683.4 532.5,686.2 533,688.8 533.5,690.5 534,690.8 534.5,690.8 535,690.8 535.5,690.8 536,690.8 536.5,690.3 537,686 537.5,680.3 538,675.9 538.5,671.3 539,667.9 539.5,666.3 540,665 540.5,664.2 541,664.2 541.5,666.1 542,669.3 542.5,672.4 543,675.6 543.5,679.2 544,681.9 544.5,683.2 545,684.2 545.5,684.8 546,684.9 546.5,684.3 547,683.3 547.5,682.1 548,680.8 548.5,679.3 549,677.4 549.5,675.4 550,673.7 550.5,672.4 551,671.2 551.5,670.2 552,669.6 552.5,669.8 553,671.4 553.5,673.8 554,676.4 554.5,680.5 555,684.6 555.5,686.9 556,688.6 556.5,688.9 557,685.5 557.5,681.1 558,678 558.5,675.1 559,673 559.5,671.9 560,671 560.5,670.4 561,670 561.5,669.9 562,670.2 562.5,671.1 563,672.2 563.5,673.6 564,675.1 564.5,677.4 565,680.5 565.5,683.5 566,686.9 566.5,690.2 567,690.8 567.5,690.8 568,690.8 568.5,690.8 569,690.8 569.5,690.8 570,690.8 570.5,687 571,678.6 571.5,674.7 572,671.6 572.5,669.3 573,668.2 573.5,668.8 574,670.9 574.5,673.9 575,677.2 575.5,682.8 576,688.4 576.5,690.8 577,690.8 577.5,690.8 578,690.8 578.5,690.8 579,690.8 579.5,690.8 580,690.8 580.5,690.8 581,690.8 581.5,690.8 582,686.3 582.5,678.9 583,675.3 583.5,672.5 584,670.2 584.5,668.8 585,668.6 585.5,670.4 586,673.6 586.5,677.3 587,682.7 587.5,688.9 588,690.8 588.5,690.8 589,690.8 589.5,690.8 590,690.8 590.5,690.8 591,690.8 591.5,690.8 592,690.8 592.5,690.6 593,687.2 593.5,681.8 594,677.6 594.5,675.5 595,673.5 595.5,672.1 596,671.5 596.5,672 597,673.6 597.5,675.7 598,678 598.5,680.4 599,683.7 599.5,687.3 600,689.9 600.5,690.8 601,690.8 601.5,690.8 602,690.8 602.5,690.8 603,690.8 603.5,690.3 604,687.2 604.5,683.2 605,680.5 605.5,678.7 606,677.1 606.5,676.1 607,675.7 607.5,676.4 608,677.8 608.5,679.7 609,681.8 609.5,685.6 610,689.3 610.5,690.8 611,690.8 611.5,690.8 612,690.8 612.5,690.8 613,690.8 613.5,690.8 614,690.8 614.5,689.3 615,684.5 615.5,680.6 616,678.5 616.5,676.7 617,675.3 617.5,674.9 618,675.7 618.5,677.7 619,680 619.5,682.8 620,686.7 620.5,690 621,690.8 621.5,690.8 622,690.8 622.5,690.8 623,690.8 623.5,690.8 624,690.8 624.5,690.8 625,690.8 625.5,690.8 626,690.8 626.5,690.8 627,688.1 627.5,680.9 628,678 628.5,675.9 629,675.5 629.5,677.1 630,680 630.5,683.4 631,688.7 631.5,690.8 632,690.8 632.5,690.8 633,690.8 633.5,690.8 634,690.8 634.5,690.8 635,690.8 635.5,690.8 636,690.8 636.5,690.8 637,690.8 637.5,690.8 638,688.7 638.5,684 639,681.2 639.5,679 640,677.4 640.5,676.9 641,677.8 641.5,679.6 642,682 642.5,686.2 643,690.6 643.5,690.8 644,690.8 644.5,690.8 645,690.8 645.5,690.8 646,690.8 646.5,690.8 647,690.8 647.5,690.8 648,690.8 648.5,690.7 649,688.1 649.5,684.6 650,683.1 650.5,681.9 651,681.2 651.5,681.2 652,682 652.5,683.3 653,685 653.5,688.5 654,690.8 654.5,690.8 655,690.8 655.5,690.8 656,690.8 656.5,690.8 657,690.8 657.5,690.8 658,690.8 658.5,690.8 659,690.8 659.5,688.8 660,685.6 660.5,683.9 661,682.5 661.5,681.9 662,682.3 662.5,683.4 663,684.9 663.5,688.1 664,690.8 664.5,690.8 665,690.8 665.5,690.8 666,690.8 666.5,690.8 667,690.8 667.5,690.8 668,690.8 668.5,690.8 669,690.8 669.5,690.8 670,690.8 670.5,689.1 671,684.3 671.5,683 672,682.1 672.5,681.6 673,681.7 673.5,682.7 674,684.3 674.5,686.3 675,690 675.5,690.8 676,690.8 676.5,690.8 677,690.8 677.5,690.8 678,690.8 678.5,690.8 679,690.8 679.5,690.8 680,690.8 680.5,690.8 681,690.8 681.5,690.8 682,690.7 682.5,687.2 683,685.2 683.5,684.4 684,684.1 684.5,684.7 685,685.8 685.5,687.7 686,690.6 686.5,690.8 687,690.8 687.5,690.7 688,690.7 688.5,690.7 689,690.6 689.5,690.5 690,690.4 690.5,690.3 691,690.2 691.5,690.1 692,690 692.5,689.8 693,689.7 693.5,689.5 694,689.1 694.5,688.2 695,687.8 695.5,688.7 696,689.8 696.5,689.9 697,689.9 697.5,689.9 698,689.9 698.5,689.9 699,689.9 699.5,689.9 700,689.9 700.5,689.8 701,689.8 701.5,689.8 702,689.7 702.5,689.7 703,689.6 703.5,689.6 704,689.5 704.5,689.4 705,689.1 705.5,688.5 706,688.7 706.5,689.6 707,689.9 707.5,689.9 708,689.9 708.5,689.9 709,689.9 709.5,689.9 710,689.9 710.5,689.9 711,689.9 711.5,689.9 712,689.8 712.5,689.8 713,689.8 713.5,689.8 714,689.7 714.5,689.7 715,689.6 715.5,689.6 716,689.2 716.5,688.8 717,689 717.5,689.6" fill="none" stroke="#000" stroke-width="2.7" stroke-linejoin="round" stroke-linecap="round"/>
</g>
<g clip-path="url(#cl2)">
<path d="M131.7,1027.5L131.7,839L132.5,839 133,842.7 133.5,846.6 134,850.9 134.5,855.8 135,861.8 135.5,867.1 136,869.6 136.5,870.6 137,871.3 137.5,871.9 138,872.7 138.5,874 139,877.2 139.5,880.8 140,882.7 140.5,880.5 141,874.1 141.5,850.3 142,829.1 142.5,804.8 143,779.2 143.5,753.3 144,730.3 144.5,711 145,693.5 145.5,675.5 146,660.9 146.5,653.4 147,648 147.5,646.6 148,649.9 148.5,656.3 149,665.6 149.5,682.3 150,702.9 150.5,729.1 151,756.8 151.5,786.5 152,814.8 152.5,836.9 153,853.8 153.5,867.9 154,878.1 154.5,887.2 155,893.9 155.5,896 156,892.5 156.5,885.3 157,877.3 157.5,870.6 158,864 158.5,857.4 159,851.3 159.5,846.2 160,841 160.5,836.8 161,834.7 161.5,834 162,833.3 162.5,832.8 163,832.5 163.5,832.3 164,832.4 164.5,833.7 165,836.1 165.5,839.2 166,842.5 166.5,847.5 167,854 167.5,859.6 168,863.1 168.5,866.3 169,869 169.5,870.6 170,870.8 170.5,868.8 171,865.1 171.5,860.3 172,854.6 172.5,845.4 173,835.8 173.5,827.8 174,820.2 174.5,814 175,809.6 175.5,806.1 176,803.2 176.5,800.6 177,798.1 177.5,795.7 178,793.4 178.5,791.3 179,789.7 179.5,788.5 180,787.6 180.5,786.8 181,786.2 181.5,785.9 182,786.4 182.5,787.8 183,789.8 183.5,792 184,794.3 184.5,796.9 185,800 185.5,803.3 186,806.8 186.5,810.3 187,814.2 187.5,818.1 188,821.8 188.5,825.4 189,829.1 189.5,831.8 190,832.5 190.5,832.7 191,832.9 191.5,833 192,833.2 192.5,833.3 193,833.5 193.5,833.7 194,834.1 194.5,835.7 195,838.6 195.5,841.8 196,844.7 196.5,848 197,851 197.5,853.4 198,855.6 198.5,857.5 199,858.5 199.5,857.7 200,854.9 200.5,851.5 201,848.2 201.5,844.2 202,840.9 202.5,839.5 203,838.8 203.5,838.4 204,837.9 204.5,837.3 205,836.4 205.5,835.3 206,833.9 206.5,832.2 207,829.2 207.5,825 208,821.4 208.5,819.1 209,817.1 209.5,815.5 210,814.4 210.5,814.3 211,815.5 211.5,817.7 212,820.4 212.5,823.2 213,827.2 213.5,831.7 214,835.5 214.5,838.8 215,841.8 215.5,844.1 216,845 216.5,845.3 217,845.5 217.5,845.7 218,845.6 218.5,844.1 219,841.7 219.5,839.9 220,839 220.5,838.3 221,837.9 221.5,838 222,839 222.5,840.7 223,842.9 223.5,847.3 224,853.2 224.5,858.5 225,863.7 225.5,870.9 226,883.5 226.5,899.2 227,913.6 227.5,924.8 228,935.2 228.5,943.8 229,950.3 229.5,956 230,959.1 230.5,957.1 231,950.5 231.5,942 232,931.7 232.5,918 233,905.5 233.5,895.2 234,885.7 234.5,875.7 235,863.5 235.5,850.2 236,841.8 236.5,837.6 237,834.5 237.5,832.6 238,831.5 238.5,830.7 239,830.1 239.5,829.8 240,830.1 240.5,831.3 241,833.1 241.5,835.1 242,837.3 242.5,840.1 243,843.4 243.5,846.9 244,850.3 244.5,853.9 245,857.7 245.5,861.6 246,865.6 246.5,870.5 247,874.5 247.5,876.2 248,877.4 248.5,878.3 249,878.8 249.5,878.7 250,878.2 250.5,877.4 251,876.5 251.5,875.7 252,874.9 252.5,873.9 253,872.9 253.5,872.2 254,871.7 254.5,871.4 255,871 255.5,870.8 256,870.7 256.5,870.6 257,870.9 257.5,871.4 258,871.9 258.5,872.4 259,872.7 259.5,872.9 260,873.2 260.5,873.3 261,873.4 261.5,873.5 262,872.9 262.5,871.7 263,870.2 263.5,868.6 264,866.9 264.5,864.8 265,862.5 265.5,860.4 266,858.5 266.5,856.5 267,854.7 267.5,853.1 268,851.9 268.5,850.9 269,850 269.5,849.2 270,848.6 270.5,848.4 271,848.6 271.5,849.6 272,851.1 272.5,852.9 273,854.7 273.5,856.8 274,859.5 274.5,862.3 275,864.7 275.5,866.5 276,868.2 276.5,869.6 277,870.5 277.5,870.5 278,869.5 278.5,867.9 279,866.1 279.5,864.5 280,862.7 280.5,860.9 281,859.4 281.5,858.4 282,857.8 282.5,857.2 283,856.9 283.5,856.7 284,856.9 284.5,857.4 285,858.2 285.5,859.1 286,860 286.5,860.9 287,861.9 287.5,862.9 288,864.1 288.5,865.4 289,866.8 289.5,868.4 290,870.4 290.5,872.4 291,874.4 291.5,875.9 292,877.3 292.5,878.6 293,879.8 293.5,880.7 294,881 294.5,880.3 295,878.3 295.5,876 296,873.9 296.5,871.3 297,868.7 297.5,866.4 298,864.8 298.5,863.4 299,862.3 299.5,861.5 300,861.3 300.5,862.5 301,864.9 301.5,867.8 302,870.8 302.5,874.5 303,878.9 303.5,883.2 304,886.5 304.5,888.9 305,891.1 305.5,892.5 306,892.5 306.5,890.7 307,888 307.5,884.9 308,882.1 308.5,878.7 309,875.2 309.5,872 310,869.9 310.5,868.3 311,866.9 311.5,865.9 312,865.6 312.5,866.1 313,867.2 313.5,868.6 314,869.9 314.5,870.9 315,872 315.5,873.1 316,874.2 316.5,875.2 317,876.1 317.5,876.9 318,877.6 318.5,878.3 319,878.9 319.5,879.3 320,879.7 320.5,879.9 321,880.2 321.5,880.3 322,880.5 322.5,880.5 323,880.5 323.5,880.3 324,880.1 324.5,879.7 325,879.3 325.5,878.8 326,878.2 326.5,876.6 327,874.2 327.5,871.9 328,870.1 328.5,869 329,868 329.5,867.1 330,866.6 330.5,866.5 331,867.7 331.5,869.8 332,872.4 332.5,875 333,877.9 333.5,881.3 334,884.5 334.5,886.8 335,888.2 335.5,889.4 336,890.1 336.5,889.9 337,888.1 337.5,885.4 338,882.3 338.5,879.6 339,876.6 339.5,873.4 340,870.7 340.5,869 341,867.9 341.5,866.9 342,866.2 342.5,865.9 343,866.4 343.5,867.9 344,870.1 344.5,872.4 345,874.7 345.5,877.5 346,880.6 346.5,883.6 347,886 347.5,887.5 348,888.9 348.5,890 349,890.6 349.5,890.6 350,889.8 350.5,888.3 351,886.4 351.5,884.5 352,882.7 352.5,880.4 353,878 353.5,876 354,874.7 354.5,873.6 355,872.6 355.5,872 356,871.8 356.5,872.4 357,873.9 357.5,875.9 358,878 358.5,880.1 359,882.9 359.5,886 360,889.1 360.5,891.8 361,893.6 361.5,895 362,896.2 362.5,897.3 363,898 363.5,898.3 364,897.7 364.5,896.3 365,894.3 365.5,892.2 366,890.2 366.5,888.3 367,886.1 367.5,884 368,882.3 368.5,881.2 369,880.1 369.5,879.3 370,878.9 370.5,879 371,880.1 371.5,881.8 372,883.7 372.5,885.8 373,888.6 373.5,892.2 374,895.7 374.5,898.7 375,900.6 375.5,902 376,903.3 376.5,904.2 377,904.7 377.5,904.5 378,903.1 378.5,901 379,898.6 379.5,896.5 380,894.3 380.5,892 381,889.8 381.5,887.9 382,886.7 382.5,885.7 383,884.8 383.5,884.2 384,883.9 384.5,884.2 385,885.3 385.5,886.8 386,888.7 386.5,890.5 387,892.8 387.5,895.7 388,898.7 388.5,901.4 389,903.3 389.5,904.5 390,905.5 390.5,906.4 391,907 391.5,907.3 392,906.9 392.5,905.7 393,903.9 393.5,901.9 394,900.1 394.5,898.3 395,896.4 395.5,894.5 396,892.9 396.5,891.8 397,891.2 397.5,890.6 398,890.1 398.5,889.9 399,890.1 399.5,891.1 400,892.6 400.5,894.5 401,896.4 401.5,898.3 402,900.8 402.5,903.6 403,906.4 403.5,908.7 404,910.3 404.5,911.4 405,912.4 405.5,913.2 406,913.8 406.5,914 407,913.2 407.5,911.2 408,908.7 408.5,906.1 409,903.9 409.5,901.4 410,899 410.5,897 411,895.8 411.5,895 412,894.4 412.5,894 413,893.9 413.5,894.9 414,896.9 414.5,899.3 415,901.7 415.5,904.4 416,907.7 416.5,911.3 417,914.5 417.5,916.8 418,918.4 418.5,919.8 419,921 419.5,921.8 420,922 420.5,920.7 421,918.2 421.5,915.2 422,912.4 422.5,909.8 423,907.1 423.5,904.5 424,902.5 424.5,901.5 425,900.7 425.5,900.1 426,899.6 426.5,899.4 427,899.8 427.5,900.9 428,902.7 428.5,904.7 429,906.6 429.5,908.4 430,910.6 430.5,912.8 431,915 431.5,917 432,918.4 432.5,919.4 433,920.3 433.5,921.1 434,921.7 434.5,922 435,921.8 435.5,920.8 436,919.3 436.5,917.6 437,916.1 437.5,914.2 438,912.3 438.5,910.4 439,909 439.5,908.2 440,907.5 440.5,906.8 441,906.3 441.5,905.9 442,905.8 442.5,906.2 443,907.4 443.5,909.1 444,911.1 444.5,913.1 445,915.8 445.5,918.9 446,921.9 446.5,924.4 447,926.2 447.5,927.7 448,929.1 448.5,930.2 449,930.8 449.5,930.7 450,929.6 450.5,927.8 451,925.6 451.5,923.4 452,920.9 452.5,917.9 453,915.2 453.5,913.5 454,912.4 454.5,911.3 455,910.5 455.5,910 456,909.8 456.5,910.5 457,912.1 457.5,914.2 458,916.4 458.5,918.7 459,921.6 459.5,924.7 460,927.6 460.5,929.9 461,931.5 461.5,933.1 462,934.5 462.5,935.4 463,935.7 463.5,934.9 464,932.8 464.5,930.1 465,927.7 465.5,925.8 466,923.8 466.5,921.8 467,920.1 467.5,918.9 468,918.3 468.5,917.7 469,917.2 469.5,916.9 470,916.7 470.5,916.8 471,917.2 471.5,918.1 472,919.1 472.5,920.3 473,921.5 473.5,922.8 474,924.5 474.5,926.5 475,928.5 475.5,930.4 476,932 476.5,933.3 477,934.6 477.5,935.8 478,936.7 478.5,937.1 479,936.7 479.5,935.6 480,934 480.5,932.2 481,930.6 481.5,929 482,927.2 482.5,925.5 483,923.9 483.5,922.9 484,922.4 484.5,921.9 485,921.6 485.5,921.3 486,921.2 486.5,921.7 487,923.4 487.5,925.8 488,928.3 488.5,930.9 489,934.3 489.5,937.8 490,940.8 490.5,943.1 491,945.1 491.5,947.1 492,948.6 492.5,949.5 493,949.4 493.5,947.8 494,945 494.5,942 495,939.3 495.5,936.2 496,933 496.5,930.3 497,928.6 497.5,927.7 498,926.9 498.5,926.3 499,925.8 499.5,925.7 500,926.3 500.5,927.7 501,929.5 501.5,931.5 502,933.5 502.5,935.9 503,938.6 503.5,941.2 504,943.3 504.5,944.8 505,946.3 505.5,947.5 506,948.4 506.5,948.8 507,948.3 507.5,947.1 508,945.5 508.5,943.7 509,942.2 509.5,940.7 510,939 510.5,937.3 511,935.9 511.5,934.8 512,934.2 512.5,933.7 513,933.3 513.5,932.9 514,932.7 514.5,932.6 515,932.9 515.5,933.9 516,935.3 516.5,936.9 517,938.6 517.5,940.5 518,943 518.5,945.7 519,948.3 519.5,950.3 520,951.8 520.5,953.3 521,954.7 521.5,955.8 522,956.5 522.5,956.6 523,955.7 523.5,953.8 524,951.4 524.5,949.1 525,947 525.5,944.5 526,941.9 526.5,939.7 527,938.1 527.5,937.2 528,936.3 528.5,935.7 529,935.4 529.5,935.9 530,937.5 530.5,939.8 531,942.4 531.5,944.9 532,947.9 532.5,951.2 533,954.6 533.5,957.5 534,959.7 534.5,961.9 535,963.9 535.5,965.4 536,965.9 536.5,964.9 537,962.6 537.5,959.8 538,957 538.5,954 539,950.6 539.5,947.3 540,945 540.5,943.9 541,943 541.5,942.3 542,941.8 542.5,941.6 543,942.1 543.5,943.2 544,944.8 544.5,946.6 545,948.3 545.5,949.8 546,951.4 546.5,953 547,954.6 547.5,956 548,957.1 548.5,958.1 549,959 549.5,959.7 550,960.3 550.5,960.5 551,960.4 551.5,959.9 552,959.1 552.5,958.2 553,957.2 553.5,956.2 554,955.3 554.5,954.1 555,952.8 555.5,951.5 556,950.4 556.5,949.5 557,948.6 557.5,947.8 558,947.2 558.5,946.7 559,946.6 559.5,947.4 560,949 560.5,951.1 561,953.5 561.5,956.6 562,961.2 562.5,966 563,970.1 563.5,973 564,976 564.5,978.6 565,980.5 565.5,981.4 566,980.7 566.5,978.2 567,974.7 567.5,971.2 568,967.8 568.5,963.9 569,960 569.5,956.8 570,954.7 570.5,953 571,951.5 571.5,950.5 572,950.1 572.5,950.9 573,952.7 573.5,955.1 574,957.5 574.5,959.7 575,962.2 575.5,964.8 576,967.3 576.5,969.5 577,971.1 577.5,972.6 578,974 578.5,975.1 579,975.8 579.5,975.8 580,974.8 580.5,972.9 581,970.8 581.5,968.9 582,967 582.5,965 583,963.1 583.5,961.7 584,960.8 584.5,960.1 585,959.5 585.5,959.2 586,959.2 586.5,959.2 587,959.3 587.5,959.4 588,959.5 588.5,959.6 589,959.8 589.5,960 590,960.3 590.5,961.3 591,962.9 591.5,965 592,967.1 592.5,969.4 593,972.3 593.5,975.1 594,977.1 594.5,978.4 595,979.5 595.5,980.3 596,980.6 596.5,980.2 597,978.8 597.5,976.9 598,974.8 598.5,972.8 599,970.3 599.5,967.7 600,965.3 600.5,963.6 601,962.3 601.5,961.1 602,960.3 602.5,960 603,961.1 603.5,963.3 604,966.2 604.5,969.4 605,973.8 605.5,979.5 606,984.9 606.5,989.2 607,993.4 607.5,997.4 608,1000.5 608.5,1002 609,1001.2 609.5,998.2 610,994 610.5,989.6 611,985.7 611.5,981.5 612,977.3 612.5,973.8 613,971.4 613.5,969.3 614,967.5 614.5,966.3 615,965.9 615.5,966.4 616,967.6 616.5,969.2 617,970.9 617.5,972.3 618,973.5 618.5,974.7 619,975.8 619.5,977 620,978.1 620.5,979.1 621,980.1 621.5,981.2 622,982.3 622.5,983.3 623,984.2 623.5,984.7 624,984.8 624.5,984.4 625,983.7 625.5,982.7 626,981.8 626.5,980.9 627,980.2 627.5,979.6 628,979 628.5,978.4 629,977.8 629.5,977.2 630,976.5 630.5,975.5 631,974.2 631.5,972.9 632,971.9 632.5,971.4 633,971.9 633.5,973.5 634,975.9 634.5,978.6 635,982.5 635.5,988.3 636,994.6 636.5,1000 637,1005.3 637.5,1010.2 638,1013.8 638.5,1015.8 639,1017.5 639.5,1018.3 640,1016.8 640.5,1012.3 641,1006.7 641.5,1001.5 642,995.4 642.5,989.3 643,984.6 643.5,981.4 644,978.5 644.5,976 645,974.4 645.5,973.9 646,975 646.5,977.4 647,980.4 647.5,983.4 648,986.1 648.5,989.3 649,992.3 649.5,994.8 650,996.2 650.5,997.2 651,998.1 651.5,998.6 652,998.6 652.5,997.9 653,996.6 653.5,995 654,993.3 654.5,991.7 655,989.9 655.5,987.9 656,986.3 656.5,985.4 657,984.7 657.5,984.1 658,983.8 658.5,983.6 659,983.9 659.5,984.6 660,985.5 660.5,986.2 661,986.5 661.5,986.3 662,985.9 662.5,985.4 663,985 663.5,984.8 664,985.3 664.5,986.7 665,988.5 665.5,990.6 666,993.1 666.5,996.6 667,1000.2 667.5,1003.2 668,1005.1 668.5,1006.8 669,1008.2 669.5,1009 670,1008.7 670.5,1007 671,1004.3 671.5,1001.2 672,998.4 672.5,995.3 673,991.9 673.5,989 674,987 674.5,985.3 675,984.1 675.5,983.5 676,984.2 676.5,986.4 677,989.5 677.5,993 678,998 678.5,1004.2 679,1010 679.5,1014.6 680,1018.9 680.5,1022.1 681,1023.9 681.5,1025.3 682,1025.8 682.5,1025.4 683,1024.3 683.5,1022.8 684,1018.6 684.5,1010.2 685,1003.5 685.5,999.1 686,995.4 686.5,992.7 687,991.1 687.5,989.7 688,988.8 688.5,988.8 689,990.1 689.5,992.3 690,994.6 690.5,996.4 691,998.3 691.5,1000.1 692,1001.5 692.5,1002 693,1001.9 693.5,1001.5 694,1001.1 694.5,1000.7 695,1000.4 695.5,1000.4 696,1001 696.5,1002.1 697,1003.3 697.5,1004.4 698,1005.1 698.5,1005.6 699,1006.1 699.5,1006.6 700,1006.8 700.5,1006.8 701,1006.2 701.5,1004.9 702,1003.3 702.5,1001.7 703,1000.3 703.5,998.7 704,997 704.5,995.5 705,994.6 705.5,993.9 706,993.4 706.5,993.2 707,994 707.5,996.2 708,999.3 708.5,1003.4 709,1010.1 709.5,1016.9 710,1023.2 710.5,1025.8 711,1025.8 711.5,1025.8 712,1025.8 712.5,1025.8 713,1025.8 713.5,1025.8 714,1025.8 714.5,1025.8 715,1025.8 715.5,1025.8 716,1025.8 716.5,1025.8 717,1025.8 717.5,1017.7 718,1006.5 718.5,1001.5 719,997.8 719.5,996 720,997.2 720.5,1000.8 721,1005.3 721.5,1009.3 722,1013.8 722.5,1018.1 723,1021.1 723.5,1023.2 724,1024.7 724.5,1024.9 725,1024.6 725.5,1023.9 726,1023 726.5,1021.6 727,1018 727.5,1013.5 728,1010.6 728.5,1009 729,1007.5 729.5,1006.5 730,1006.1 730.5,1006.2 731,1006.7 731.5,1007.3 732,1007.9 732.5,1008.2 733,1008.1 733.5,1007.7 734,1007.1 734.5,1006.4 735,1005.8 735.5,1005.3 736,1004.8 736.5,1004.2 737,1003.8 737.5,1003.5 738,1003.8 738.5,1004.8 739,1006.3 739.5,1008.4 740,1012.7 740.5,1017.8 741,1022.7 741.5,1025.8 742,1025.8 742.5,1025.8 743,1025.8 743.5,1025.8 744,1025.8 744.5,1025.8 745,1025.8 745.5,1025.8 746,1025.8 746.5,1025.8 747,1024.5 747.5,1013.2 748,1008.5 748.5,1005.7 749,1003.8 749.5,1002.8 750,1003.1 750.5,1005.2 751,1008.3 751.5,1012 752,1019 752.5,1025.1 753,1025.8 753.5,1025.8 754,1025.8 754.5,1025.8 755,1025.8 755.5,1025.8 756,1025.8 756.5,1025.8 757,1025.8 757.5,1025.8 758,1025.8 758.5,1025.8 759,1019.9 759.5,1013.6 760,1011.5 760.5,1010.1 761,1009.6 761.5,1009.9 762,1011 762.5,1012.4 763,1013.6 763.5,1014.5 764,1015.3 764.5,1016.1 765,1016.5 765.5,1016.6 766,1016.6 766.5,1016.6 767,1016.6 767.5,1016.6 768,1016.6 768.5,1016.6 769,1016.6 769.5,1016.8 770,1017.2 770.5,1017.6 771,1018.1 771.5,1019.6 772,1022.6 772.5,1025.3 773,1025.8 773.5,1025.8 774,1025.8 774.5,1025.8 775,1025.8 775.5,1025.8 776,1025.8 776.5,1025.8 777,1025.8 777.5,1025.8 778,1025 778.5,1018.9 779,1014 779.5,1012.4 780,1011.3 780.5,1010.8 781,1011.2 781.5,1013.2 782,1015.8 782.5,1020.7 783,1025.4 783.5,1025.8 784,1025.8 784.5,1025.8 785,1025.8 785.5,1025.8 786,1025.8 786.5,1025.8 787,1025.8 787.5,1025.8 788,1025.8 788.5,1025.8 789,1025.8 789.5,1025.8 790,1025.8 790.5,1025.2 791,1019 791.5,1016.4 792,1015.2 792.5,1015 793,1016.1 793.5,1018.2 794,1021.6 794.5,1025.8 795,1025.8 795.5,1025.8 796,1025.8 796.5,1025.7 797,1025.7 797.5,1025.7 798,1025.6 798.5,1025.6 799,1025.5 799.5,1025.4 800,1025.3 800.5,1025.2 801,1025 801.5,1024.5 802,1022.9 802.5,1022.2 803,1023.3 803.5,1024.7 804,1025 804.5,1025 805,1025 805.5,1025 806,1025 806.5,1025 807,1025 807.5,1025 808,1025 808.5,1025 809,1025 809.5,1025 810,1023.9 810.5,1021.2 811,1020 811.5,1021.5 812,1023.9 812.5,1025 813,1025 813.5,1025 814,1025 814.5,1025 815,1025 815.5,1025 816,1025 816.5,1025 817,1025 817.5,1025 818,1025 818.5,1025 819,1025 819.5,1025 820,1025 820.5,1025 821,1025 821.5,1024.7 822,1022.2 822.5,1020.4 823,1021 823.5,1022.9L823.5,1027.5Z" fill="#00FDFF" stroke="none"/>
<path d="M131.7,839L132.5,839 133,842.7 133.5,846.6 134,850.9 134.5,855.8 135,861.8 135.5,867.1 136,869.6 136.5,870.6 137,871.3 137.5,871.9 138,872.7 138.5,874 139,877.2 139.5,880.8 140,882.7 140.5,880.5 141,874.1 141.5,850.3 142,829.1 142.5,804.8 143,779.2 143.5,753.3 144,730.3 144.5,711 145,693.5 145.5,675.5 146,660.9 146.5,653.4 147,648 147.5,646.6 148,649.9 148.5,656.3 149,665.6 149.5,682.3 150,702.9 150.5,729.1 151,756.8 151.5,786.5 152,814.8 152.5,836.9 153,853.8 153.5,867.9 154,878.1 154.5,887.2 155,893.9 155.5,896 156,892.5 156.5,885.3 157,877.3 157.5,870.6 158,864 158.5,857.4 159,851.3 159.5,846.2 160,841 160.5,836.8 161,834.7 161.5,834 162,833.3 162.5,832.8 163,832.5 163.5,832.3 164,832.4 164.5,833.7 165,836.1 165.5,839.2 166,842.5 166.5,847.5 167,854 167.5,859.6 168,863.1 168.5,866.3 169,869 169.5,870.6 170,870.8 170.5,868.8 171,865.1 171.5,860.3 172,854.6 172.5,845.4 173,835.8 173.5,827.8 174,820.2 174.5,814 175,809.6 175.5,806.1 176,803.2 176.5,800.6 177,798.1 177.5,795.7 178,793.4 178.5,791.3 179,789.7 179.5,788.5 180,787.6 180.5,786.8 181,786.2 181.5,785.9 182,786.4 182.5,787.8 183,789.8 183.5,792 184,794.3 184.5,796.9 185,800 185.5,803.3 186,806.8 186.5,810.3 187,814.2 187.5,818.1 188,821.8 188.5,825.4 189,829.1 189.5,831.8 190,832.5 190.5,832.7 191,832.9 191.5,833 192,833.2 192.5,833.3 193,833.5 193.5,833.7 194,834.1 194.5,835.7 195,838.6 195.5,841.8 196,844.7 196.5,848 197,851 197.5,853.4 198,855.6 198.5,857.5 199,858.5 199.5,857.7 200,854.9 200.5,851.5 201,848.2 201.5,844.2 202,840.9 202.5,839.5 203,838.8 203.5,838.4 204,837.9 204.5,837.3 205,836.4 205.5,835.3 206,833.9 206.5,832.2 207,829.2 207.5,825 208,821.4 208.5,819.1 209,817.1 209.5,815.5 210,814.4 210.5,814.3 211,815.5 211.5,817.7 212,820.4 212.5,823.2 213,827.2 213.5,831.7 214,835.5 214.5,838.8 215,841.8 215.5,844.1 216,845 216.5,845.3 217,845.5 217.5,845.7 218,845.6 218.5,844.1 219,841.7 219.5,839.9 220,839 220.5,838.3 221,837.9 221.5,838 222,839 222.5,840.7 223,842.9 223.5,847.3 224,853.2 224.5,858.5 225,863.7 225.5,870.9 226,883.5 226.5,899.2 227,913.6 227.5,924.8 228,935.2 228.5,943.8 229,950.3 229.5,956 230,959.1 230.5,957.1 231,950.5 231.5,942 232,931.7 232.5,918 233,905.5 233.5,895.2 234,885.7 234.5,875.7 235,863.5 235.5,850.2 236,841.8 236.5,837.6 237,834.5 237.5,832.6 238,831.5 238.5,830.7 239,830.1 239.5,829.8 240,830.1 240.5,831.3 241,833.1 241.5,835.1 242,837.3 242.5,840.1 243,843.4 243.5,846.9 244,850.3 244.5,853.9 245,857.7 245.5,861.6 246,865.6 246.5,870.5 247,874.5 247.5,876.2 248,877.4 248.5,878.3 249,878.8 249.5,878.7 250,878.2 250.5,877.4 251,876.5 251.5,875.7 252,874.9 252.5,873.9 253,872.9 253.5,872.2 254,871.7 254.5,871.4 255,871 255.5,870.8 256,870.7 256.5,870.6 257,870.9 257.5,871.4 258,871.9 258.5,872.4 259,872.7 259.5,872.9 260,873.2 260.5,873.3 261,873.4 261.5,873.5 262,872.9 262.5,871.7 263,870.2 263.5,868.6 264,866.9 264.5,864.8 265,862.5 265.5,860.4 266,858.5 266.5,856.5 267,854.7 267.5,853.1 268,851.9 268.5,850.9 269,850 269.5,849.2 270,848.6 270.5,848.4 271,848.6 271.5,849.6 272,851.1 272.5,852.9 273,854.7 273.5,856.8 274,859.5 274.5,862.3 275,864.7 275.5,866.5 276,868.2 276.5,869.6 277,870.5 277.5,870.5 278,869.5 278.5,867.9 279,866.1 279.5,864.5 280,862.7 280.5,860.9 281,859.4 281.5,858.4 282,857.8 282.5,857.2 283,856.9 283.5,856.7 284,856.9 284.5,857.4 285,858.2 285.5,859.1 286,860 286.5,860.9 287,861.9 287.5,862.9 288,864.1 288.5,865.4 289,866.8 289.5,868.4 290,870.4 290.5,872.4 291,874.4 291.5,875.9 292,877.3 292.5,878.6 293,879.8 293.5,880.7 294,881 294.5,880.3 295,878.3 295.5,876 296,873.9 296.5,871.3 297,868.7 297.5,866.4 298,864.8 298.5,863.4 299,862.3 299.5,861.5 300,861.3 300.5,862.5 301,864.9 301.5,867.8 302,870.8 302.5,874.5 303,878.9 303.5,883.2 304,886.5 304.5,888.9 305,891.1 305.5,892.5 306,892.5 306.5,890.7 307,888 307.5,884.9 308,882.1 308.5,878.7 309,875.2 309.5,872 310,869.9 310.5,868.3 311,866.9 311.5,865.9 312,865.6 312.5,866.1 313,867.2 313.5,868.6 314,869.9 314.5,870.9 315,872 315.5,873.1 316,874.2 316.5,875.2 317,876.1 317.5,876.9 318,877.6 318.5,878.3 319,878.9 319.5,879.3 320,879.7 320.5,879.9 321,880.2 321.5,880.3 322,880.5 322.5,880.5 323,880.5 323.5,880.3 324,880.1 324.5,879.7 325,879.3 325.5,878.8 326,878.2 326.5,876.6 327,874.2 327.5,871.9 328,870.1 328.5,869 329,868 329.5,867.1 330,866.6 330.5,866.5 331,867.7 331.5,869.8 332,872.4 332.5,875 333,877.9 333.5,881.3 334,884.5 334.5,886.8 335,888.2 335.5,889.4 336,890.1 336.5,889.9 337,888.1 337.5,885.4 338,882.3 338.5,879.6 339,876.6 339.5,873.4 340,870.7 340.5,869 341,867.9 341.5,866.9 342,866.2 342.5,865.9 343,866.4 343.5,867.9 344,870.1 344.5,872.4 345,874.7 345.5,877.5 346,880.6 346.5,883.6 347,886 347.5,887.5 348,888.9 348.5,890 349,890.6 349.5,890.6 350,889.8 350.5,888.3 351,886.4 351.5,884.5 352,882.7 352.5,880.4 353,878 353.5,876 354,874.7 354.5,873.6 355,872.6 355.5,872 356,871.8 356.5,872.4 357,873.9 357.5,875.9 358,878 358.5,880.1 359,882.9 359.5,886 360,889.1 360.5,891.8 361,893.6 361.5,895 362,896.2 362.5,897.3 363,898 363.5,898.3 364,897.7 364.5,896.3 365,894.3 365.5,892.2 366,890.2 366.5,888.3 367,886.1 367.5,884 368,882.3 368.5,881.2 369,880.1 369.5,879.3 370,878.9 370.5,879 371,880.1 371.5,881.8 372,883.7 372.5,885.8 373,888.6 373.5,892.2 374,895.7 374.5,898.7 375,900.6 375.5,902 376,903.3 376.5,904.2 377,904.7 377.5,904.5 378,903.1 378.5,901 379,898.6 379.5,896.5 380,894.3 380.5,892 381,889.8 381.5,887.9 382,886.7 382.5,885.7 383,884.8 383.5,884.2 384,883.9 384.5,884.2 385,885.3 385.5,886.8 386,888.7 386.5,890.5 387,892.8 387.5,895.7 388,898.7 388.5,901.4 389,903.3 389.5,904.5 390,905.5 390.5,906.4 391,907 391.5,907.3 392,906.9 392.5,905.7 393,903.9 393.5,901.9 394,900.1 394.5,898.3 395,896.4 395.5,894.5 396,892.9 396.5,891.8 397,891.2 397.5,890.6 398,890.1 398.5,889.9 399,890.1 399.5,891.1 400,892.6 400.5,894.5 401,896.4 401.5,898.3 402,900.8 402.5,903.6 403,906.4 403.5,908.7 404,910.3 404.5,911.4 405,912.4 405.5,913.2 406,913.8 406.5,914 407,913.2 407.5,911.2 408,908.7 408.5,906.1 409,903.9 409.5,901.4 410,899 410.5,897 411,895.8 411.5,895 412,894.4 412.5,894 413,893.9 413.5,894.9 414,896.9 414.5,899.3 415,901.7 415.5,904.4 416,907.7 416.5,911.3 417,914.5 417.5,916.8 418,918.4 418.5,919.8 419,921 419.5,921.8 420,922 420.5,920.7 421,918.2 421.5,915.2 422,912.4 422.5,909.8 423,907.1 423.5,904.5 424,902.5 424.5,901.5 425,900.7 425.5,900.1 426,899.6 426.5,899.4 427,899.8 427.5,900.9 428,902.7 428.5,904.7 429,906.6 429.5,908.4 430,910.6 430.5,912.8 431,915 431.5,917 432,918.4 432.5,919.4 433,920.3 433.5,921.1 434,921.7 434.5,922 435,921.8 435.5,920.8 436,919.3 436.5,917.6 437,916.1 437.5,914.2 438,912.3 438.5,910.4 439,909 439.5,908.2 440,907.5 440.5,906.8 441,906.3 441.5,905.9 442,905.8 442.5,906.2 443,907.4 443.5,909.1 444,911.1 444.5,913.1 445,915.8 445.5,918.9 446,921.9 446.5,924.4 447,926.2 447.5,927.7 448,929.1 448.5,930.2 449,930.8 449.5,930.7 450,929.6 450.5,927.8 451,925.6 451.5,923.4 452,920.9 452.5,917.9 453,915.2 453.5,913.5 454,912.4 454.5,911.3 455,910.5 455.5,910 456,909.8 456.5,910.5 457,912.1 457.5,914.2 458,916.4 458.5,918.7 459,921.6 459.5,924.7 460,927.6 460.5,929.9 461,931.5 461.5,933.1 462,934.5 462.5,935.4 463,935.7 463.5,934.9 464,932.8 464.5,930.1 465,927.7 465.5,925.8 466,923.8 466.5,921.8 467,920.1 467.5,918.9 468,918.3 468.5,917.7 469,917.2 469.5,916.9 470,916.7 470.5,916.8 471,917.2 471.5,918.1 472,919.1 472.5,920.3 473,921.5 473.5,922.8 474,924.5 474.5,926.5 475,928.5 475.5,930.4 476,932 476.5,933.3 477,934.6 477.5,935.8 478,936.7 478.5,937.1 479,936.7 479.5,935.6 480,934 480.5,932.2 481,930.6 481.5,929 482,927.2 482.5,925.5 483,923.9 483.5,922.9 484,922.4 484.5,921.9 485,921.6 485.5,921.3 486,921.2 486.5,921.7 487,923.4 487.5,925.8 488,928.3 488.5,930.9 489,934.3 489.5,937.8 490,940.8 490.5,943.1 491,945.1 491.5,947.1 492,948.6 492.5,949.5 493,949.4 493.5,947.8 494,945 494.5,942 495,939.3 495.5,936.2 496,933 496.5,930.3 497,928.6 497.5,927.7 498,926.9 498.5,926.3 499,925.8 499.5,925.7 500,926.3 500.5,927.7 501,929.5 501.5,931.5 502,933.5 502.5,935.9 503,938.6 503.5,941.2 504,943.3 504.5,944.8 505,946.3 505.5,947.5 506,948.4 506.5,948.8 507,948.3 507.5,947.1 508,945.5 508.5,943.7 509,942.2 509.5,940.7 510,939 510.5,937.3 511,935.9 511.5,934.8 512,934.2 512.5,933.7 513,933.3 513.5,932.9 514,932.7 514.5,932.6 515,932.9 515.5,933.9 516,935.3 516.5,936.9 517,938.6 517.5,940.5 518,943 518.5,945.7 519,948.3 519.5,950.3 520,951.8 520.5,953.3 521,954.7 521.5,955.8 522,956.5 522.5,956.6 523,955.7 523.5,953.8 524,951.4 524.5,949.1 525,947 525.5,944.5 526,941.9 526.5,939.7 527,938.1 527.5,937.2 528,936.3 528.5,935.7 529,935.4 529.5,935.9 530,937.5 530.5,939.8 531,942.4 531.5,944.9 532,947.9 532.5,951.2 533,954.6 533.5,957.5 534,959.7 534.5,961.9 535,963.9 535.5,965.4 536,965.9 536.5,964.9 537,962.6 537.5,959.8 538,957 538.5,954 539,950.6 539.5,947.3 540,945 540.5,943.9 541,943 541.5,942.3 542,941.8 542.5,941.6 543,942.1 543.5,943.2 544,944.8 544.5,946.6 545,948.3 545.5,949.8 546,951.4 546.5,953 547,954.6 547.5,956 548,957.1 548.5,958.1 549,959 549.5,959.7 550,960.3 550.5,960.5 551,960.4 551.5,959.9 552,959.1 552.5,958.2 553,957.2 553.5,956.2 554,955.3 554.5,954.1 555,952.8 555.5,951.5 556,950.4 556.5,949.5 557,948.6 557.5,947.8 558,947.2 558.5,946.7 559,946.6 559.5,947.4 560,949 560.5,951.1 561,953.5 561.5,956.6 562,961.2 562.5,966 563,970.1 563.5,973 564,976 564.5,978.6 565,980.5 565.5,981.4 566,980.7 566.5,978.2 567,974.7 567.5,971.2 568,967.8 568.5,963.9 569,960 569.5,956.8 570,954.7 570.5,953 571,951.5 571.5,950.5 572,950.1 572.5,950.9 573,952.7 573.5,955.1 574,957.5 574.5,959.7 575,962.2 575.5,964.8 576,967.3 576.5,969.5 577,971.1 577.5,972.6 578,974 578.5,975.1 579,975.8 579.5,975.8 580,974.8 580.5,972.9 581,970.8 581.5,968.9 582,967 582.5,965 583,963.1 583.5,961.7 584,960.8 584.5,960.1 585,959.5 585.5,959.2 586,959.2 586.5,959.2 587,959.3 587.5,959.4 588,959.5 588.5,959.6 589,959.8 589.5,960 590,960.3 590.5,961.3 591,962.9 591.5,965 592,967.1 592.5,969.4 593,972.3 593.5,975.1 594,977.1 594.5,978.4 595,979.5 595.5,980.3 596,980.6 596.5,980.2 597,978.8 597.5,976.9 598,974.8 598.5,972.8 599,970.3 599.5,967.7 600,965.3 600.5,963.6 601,962.3 601.5,961.1 602,960.3 602.5,960 603,961.1 603.5,963.3 604,966.2 604.5,969.4 605,973.8 605.5,979.5 606,984.9 606.5,989.2 607,993.4 607.5,997.4 608,1000.5 608.5,1002 609,1001.2 609.5,998.2 610,994 610.5,989.6 611,985.7 611.5,981.5 612,977.3 612.5,973.8 613,971.4 613.5,969.3 614,967.5 614.5,966.3 615,965.9 615.5,966.4 616,967.6 616.5,969.2 617,970.9 617.5,972.3 618,973.5 618.5,974.7 619,975.8 619.5,977 620,978.1 620.5,979.1 621,980.1 621.5,981.2 622,982.3 622.5,983.3 623,984.2 623.5,984.7 624,984.8 624.5,984.4 625,983.7 625.5,982.7 626,981.8 626.5,980.9 627,980.2 627.5,979.6 628,979 628.5,978.4 629,977.8 629.5,977.2 630,976.5 630.5,975.5 631,974.2 631.5,972.9 632,971.9 632.5,971.4 633,971.9 633.5,973.5 634,975.9 634.5,978.6 635,982.5 635.5,988.3 636,994.6 636.5,1000 637,1005.3 637.5,1010.2 638,1013.8 638.5,1015.8 639,1017.5 639.5,1018.3 640,1016.8 640.5,1012.3 641,1006.7 641.5,1001.5 642,995.4 642.5,989.3 643,984.6 643.5,981.4 644,978.5 644.5,976 645,974.4 645.5,973.9 646,975 646.5,977.4 647,980.4 647.5,983.4 648,986.1 648.5,989.3 649,992.3 649.5,994.8 650,996.2 650.5,997.2 651,998.1 651.5,998.6 652,998.6 652.5,997.9 653,996.6 653.5,995 654,993.3 654.5,991.7 655,989.9 655.5,987.9 656,986.3 656.5,985.4 657,984.7 657.5,984.1 658,983.8 658.5,983.6 659,983.9 659.5,984.6 660,985.5 660.5,986.2 661,986.5 661.5,986.3 662,985.9 662.5,985.4 663,985 663.5,984.8 664,985.3 664.5,986.7 665,988.5 665.5,990.6 666,993.1 666.5,996.6 667,1000.2 667.5,1003.2 668,1005.1 668.5,1006.8 669,1008.2 669.5,1009 670,1008.7 670.5,1007 671,1004.3 671.5,1001.2 672,998.4 672.5,995.3 673,991.9 673.5,989 674,987 674.5,985.3 675,984.1 675.5,983.5 676,984.2 676.5,986.4 677,989.5 677.5,993 678,998 678.5,1004.2 679,1010 679.5,1014.6 680,1018.9 680.5,1022.1 681,1023.9 681.5,1025.3 682,1025.8 682.5,1025.4 683,1024.3 683.5,1022.8 684,1018.6 684.5,1010.2 685,1003.5 685.5,999.1 686,995.4 686.5,992.7 687,991.1 687.5,989.7 688,988.8 688.5,988.8 689,990.1 689.5,992.3 690,994.6 690.5,996.4 691,998.3 691.5,1000.1 692,1001.5 692.5,1002 693,1001.9 693.5,1001.5 694,1001.1 694.5,1000.7 695,1000.4 695.5,1000.4 696,1001 696.5,1002.1 697,1003.3 697.5,1004.4 698,1005.1 698.5,1005.6 699,1006.1 699.5,1006.6 700,1006.8 700.5,1006.8 701,1006.2 701.5,1004.9 702,1003.3 702.5,1001.7 703,1000.3 703.5,998.7 704,997 704.5,995.5 705,994.6 705.5,993.9 706,993.4 706.5,993.2 707,994 707.5,996.2 708,999.3 708.5,1003.4 709,1010.1 709.5,1016.9 710,1023.2 710.5,1025.8 711,1025.8 711.5,1025.8 712,1025.8 712.5,1025.8 713,1025.8 713.5,1025.8 714,1025.8 714.5,1025.8 715,1025.8 715.5,1025.8 716,1025.8 716.5,1025.8 717,1025.8 717.5,1017.7 718,1006.5 718.5,1001.5 719,997.8 719.5,996 720,997.2 720.5,1000.8 721,1005.3 721.5,1009.3 722,1013.8 722.5,1018.1 723,1021.1 723.5,1023.2 724,1024.7 724.5,1024.9 725,1024.6 725.5,1023.9 726,1023 726.5,1021.6 727,1018 727.5,1013.5 728,1010.6 728.5,1009 729,1007.5 729.5,1006.5 730,1006.1 730.5,1006.2 731,1006.7 731.5,1007.3 732,1007.9 732.5,1008.2 733,1008.1 733.5,1007.7 734,1007.1 734.5,1006.4 735,1005.8 735.5,1005.3 736,1004.8 736.5,1004.2 737,1003.8 737.5,1003.5 738,1003.8 738.5,1004.8 739,1006.3 739.5,1008.4 740,1012.7 740.5,1017.8 741,1022.7 741.5,1025.8 742,1025.8 742.5,1025.8 743,1025.8 743.5,1025.8 744,1025.8 744.5,1025.8 745,1025.8 745.5,1025.8 746,1025.8 746.5,1025.8 747,1024.5 747.5,1013.2 748,1008.5 748.5,1005.7 749,1003.8 749.5,1002.8 750,1003.1 750.5,1005.2 751,1008.3 751.5,1012 752,1019 752.5,1025.1 753,1025.8 753.5,1025.8 754,1025.8 754.5,1025.8 755,1025.8 755.5,1025.8 756,1025.8 756.5,1025.8 757,1025.8 757.5,1025.8 758,1025.8 758.5,1025.8 759,1019.9 759.5,1013.6 760,1011.5 760.5,1010.1 761,1009.6 761.5,1009.9 762,1011 762.5,1012.4 763,1013.6 763.5,1014.5 764,1015.3 764.5,1016.1 765,1016.5 765.5,1016.6 766,1016.6 766.5,1016.6 767,1016.6 767.5,1016.6 768,1016.6 768.5,1016.6 769,1016.6 769.5,1016.8 770,1017.2 770.5,1017.6 771,1018.1 771.5,1019.6 772,1022.6 772.5,1025.3 773,1025.8 773.5,1025.8 774,1025.8 774.5,1025.8 775,1025.8 775.5,1025.8 776,1025.8 776.5,1025.8 777,1025.8 777.5,1025.8 778,1025 778.5,1018.9 779,1014 779.5,1012.4 780,1011.3 780.5,1010.8 781,1011.2 781.5,1013.2 782,1015.8 782.5,1020.7 783,1025.4 783.5,1025.8 784,1025.8 784.5,1025.8 785,1025.8 785.5,1025.8 786,1025.8 786.5,1025.8 787,1025.8 787.5,1025.8 788,1025.8 788.5,1025.8 789,1025.8 789.5,1025.8 790,1025.8 790.5,1025.2 791,1019 791.5,1016.4 792,1015.2 792.5,1015 793,1016.1 793.5,1018.2 794,1021.6 794.5,1025.8 795,1025.8 795.5,1025.8 796,1025.8 796.5,1025.7 797,1025.7 797.5,1025.7 798,1025.6 798.5,1025.6 799,1025.5 799.5,1025.4 800,1025.3 800.5,1025.2 801,1025 801.5,1024.5 802,1022.9 802.5,1022.2 803,1023.3 803.5,1024.7 804,1025 804.5,1025 805,1025 805.5,1025 806,1025 806.5,1025 807,1025 807.5,1025 808,1025 808.5,1025 809,1025 809.5,1025 810,1023.9 810.5,1021.2 811,1020 811.5,1021.5 812,1023.9 812.5,1025 813,1025 813.5,1025 814,1025 814.5,1025 815,1025 815.5,1025 816,1025 816.5,1025 817,1025 817.5,1025 818,1025 818.5,1025 819,1025 819.5,1025 820,1025 820.5,1025 821,1025 821.5,1024.7 822,1022.2 822.5,1020.4 823,1021 823.5,1022.9" fill="none" stroke="#000" stroke-width="2.7" stroke-linejoin="round" stroke-linecap="round"/>
</g>
<path d="M286.5,356.6V370.2M441.3,356.6V370.2M596.1,356.6V370.2M751,356.6V370.2M209.1,356.6V363.9M363.9,356.6V363.9M518.7,356.6V363.9M673.6,356.6V363.9M828.4,356.6V363.9" stroke="#000" stroke-width="2.4" fill="none" stroke-linecap="round"/>
<path d="M286.5,676.9V690.5M441.3,676.9V690.5M596.1,676.9V690.5M751,676.9V690.5M209.1,683.2V690.5M363.9,683.2V690.5M518.7,683.2V690.5M673.6,683.2V690.5M828.4,683.2V690.5" stroke="#000" stroke-width="2.4" fill="none" stroke-linecap="round"/>
<path d="M131.7,672.5H145.2M131.7,627.3H145.2M131.7,582.1H145.2M131.7,536.9H145.2M131.7,491.7H145.2M131.7,446.5H145.2M131.7,401.3H145.2M131.7,356.1H145.2" stroke="#000" stroke-width="2.4" fill="none" stroke-linecap="round"/>
<path d="M131.7,686.1H139M131.7,682.5H139M131.7,679.5H139M131.7,676.9H139M131.7,674.6H139M131.7,658.9H139M131.7,650.9H139M131.7,645.3H139M131.7,640.9H139M131.7,637.3H139M131.7,634.3H139M131.7,631.7H139M131.7,629.4H139M131.7,613.7H139M131.7,605.7H139M131.7,600.1H139M131.7,595.7H139M131.7,592.1H139M131.7,589.1H139M131.7,586.5H139M131.7,584.2H139M131.7,568.5H139M131.7,560.5H139M131.7,554.9H139M131.7,550.5H139M131.7,546.9H139M131.7,543.9H139M131.7,541.3H139M131.7,539H139M131.7,523.3H139M131.7,515.3H139M131.7,509.7H139M131.7,505.3H139M131.7,501.7H139M131.7,498.7H139M131.7,496.1H139M131.7,493.8H139M131.7,478.1H139M131.7,470.1H139M131.7,464.5H139M131.7,460.1H139M131.7,456.5H139M131.7,453.5H139M131.7,450.9H139M131.7,448.6H139M131.7,432.9H139M131.7,424.9H139M131.7,419.3H139M131.7,414.9H139M131.7,411.3H139M131.7,408.3H139M131.7,405.7H139M131.7,403.4H139M131.7,387.7H139M131.7,379.7H139M131.7,374.1H139M131.7,369.7H139M131.7,366.1H139M131.7,363.1H139M131.7,360.5H139M131.7,358.2H139" stroke="#000" stroke-width="2.4" fill="none" stroke-linecap="round"/>
<path d="M892.2,672.5H905.8M892.2,627.3H905.8M892.2,582.1H905.8M892.2,536.9H905.8M892.2,491.7H905.8M892.2,446.5H905.8M892.2,401.3H905.8M892.2,356.1H905.8" stroke="#000" stroke-width="2.4" fill="none" stroke-linecap="round"/>
<path d="M898.5,686.1H905.8M898.5,682.5H905.8M898.5,679.5H905.8M898.5,676.9H905.8M898.5,674.6H905.8M898.5,658.9H905.8M898.5,650.9H905.8M898.5,645.3H905.8M898.5,640.9H905.8M898.5,637.3H905.8M898.5,634.3H905.8M898.5,631.7H905.8M898.5,629.4H905.8M898.5,613.7H905.8M898.5,605.7H905.8M898.5,600.1H905.8M898.5,595.7H905.8M898.5,592.1H905.8M898.5,589.1H905.8M898.5,586.5H905.8M898.5,584.2H905.8M898.5,568.5H905.8M898.5,560.5H905.8M898.5,554.9H905.8M898.5,550.5H905.8M898.5,546.9H905.8M898.5,543.9H905.8M898.5,541.3H905.8M898.5,539H905.8M898.5,523.3H905.8M898.5,515.3H905.8M898.5,509.7H905.8M898.5,505.3H905.8M898.5,501.7H905.8M898.5,498.7H905.8M898.5,496.1H905.8M898.5,493.8H905.8M898.5,478.1H905.8M898.5,470.1H905.8M898.5,464.5H905.8M898.5,460.1H905.8M898.5,456.5H905.8M898.5,453.5H905.8M898.5,450.9H905.8M898.5,448.6H905.8M898.5,432.9H905.8M898.5,424.9H905.8M898.5,419.3H905.8M898.5,414.9H905.8M898.5,411.3H905.8M898.5,408.3H905.8M898.5,405.7H905.8M898.5,403.4H905.8M898.5,387.7H905.8M898.5,379.7H905.8M898.5,374.1H905.8M898.5,369.7H905.8M898.5,366.1H905.8M898.5,363.1H905.8M898.5,360.5H905.8M898.5,358.2H905.8" stroke="#000" stroke-width="2.4" fill="none" stroke-linecap="round"/>
<path d="M286.5,690.5V704.1M441.3,690.5V704.1M596.1,690.5V704.1M751,690.5V704.1M209.1,690.5V697.8M363.9,690.5V697.8M518.7,690.5V697.8M673.6,690.5V697.8M828.4,690.5V697.8" stroke="#000" stroke-width="2.4" fill="none" stroke-linecap="round"/>
<path d="M286.5,1010.9V1024.5M441.3,1010.9V1024.5M596.1,1010.9V1024.5M751,1010.9V1024.5M209.1,1017.2V1024.5M363.9,1017.2V1024.5M518.7,1017.2V1024.5M673.6,1017.2V1024.5M828.4,1017.2V1024.5" stroke="#000" stroke-width="2.4" fill="none" stroke-linecap="round"/>
<path d="M131.7,1024.5H145.2M131.7,982.8H145.2M131.7,941H145.2M131.7,899.2H145.2M131.7,857.5H145.2M131.7,815.7H145.2M131.7,774H145.2M131.7,732.2H145.2M131.7,690.4H145.2" stroke="#000" stroke-width="2.4" fill="none" stroke-linecap="round"/>
<path d="M131.7,1011.9H139M131.7,1004.6H139M131.7,999.4H139M131.7,995.3H139M131.7,992H139M131.7,989.2H139M131.7,986.8H139M131.7,984.7H139M131.7,970.2H139M131.7,962.8H139M131.7,957.6H139M131.7,953.6H139M131.7,950.3H139M131.7,947.5H139M131.7,945H139M131.7,942.9H139M131.7,928.4H139M131.7,921.1H139M131.7,915.8H139M131.7,911.8H139M131.7,908.5H139M131.7,905.7H139M131.7,903.3H139M131.7,901.1H139M131.7,886.7H139M131.7,879.3H139M131.7,874.1H139M131.7,870H139M131.7,866.7H139M131.7,863.9H139M131.7,861.5H139M131.7,859.4H139M131.7,844.9H139M131.7,837.5H139M131.7,832.3H139M131.7,828.3H139M131.7,825H139M131.7,822.2H139M131.7,819.8H139M131.7,817.6H139M131.7,803.1H139M131.7,795.8H139M131.7,790.6H139M131.7,786.5H139M131.7,783.2H139M131.7,780.4H139M131.7,778H139M131.7,775.9H139M131.7,761.4H139M131.7,754H139M131.7,748.8H139M131.7,744.8H139M131.7,741.5H139M131.7,738.7H139M131.7,736.2H139M131.7,734.1H139M131.7,719.6H139M131.7,712.3H139M131.7,707H139M131.7,703H139M131.7,699.7H139M131.7,696.9H139M131.7,694.5H139M131.7,692.3H139" stroke="#000" stroke-width="2.4" fill="none" stroke-linecap="round"/>
<path d="M892.2,1024.5H905.8M892.2,982.8H905.8M892.2,941H905.8M892.2,899.2H905.8M892.2,857.5H905.8M892.2,815.7H905.8M892.2,774H905.8M892.2,732.2H905.8M892.2,690.4H905.8" stroke="#000" stroke-width="2.4" fill="none" stroke-linecap="round"/>
<path d="M898.5,1011.9H905.8M898.5,1004.6H905.8M898.5,999.4H905.8M898.5,995.3H905.8M898.5,992H905.8M898.5,989.2H905.8M898.5,986.8H905.8M898.5,984.7H905.8M898.5,970.2H905.8M898.5,962.8H905.8M898.5,957.6H905.8M898.5,953.6H905.8M898.5,950.3H905.8M898.5,947.5H905.8M898.5,945H905.8M898.5,942.9H905.8M898.5,928.4H905.8M898.5,921.1H905.8M898.5,915.8H905.8M898.5,911.8H905.8M898.5,908.5H905.8M898.5,905.7H905.8M898.5,903.3H905.8M898.5,901.1H905.8M898.5,886.7H905.8M898.5,879.3H905.8M898.5,874.1H905.8M898.5,870H905.8M898.5,866.7H905.8M898.5,863.9H905.8M898.5,861.5H905.8M898.5,859.4H905.8M898.5,844.9H905.8M898.5,837.5H905.8M898.5,832.3H905.8M898.5,828.3H905.8M898.5,825H905.8M898.5,822.2H905.8M898.5,819.8H905.8M898.5,817.6H905.8M898.5,803.1H905.8M898.5,795.8H905.8M898.5,790.6H905.8M898.5,786.5H905.8M898.5,783.2H905.8M898.5,780.4H905.8M898.5,778H905.8M898.5,775.9H905.8M898.5,761.4H905.8M898.5,754H905.8M898.5,748.8H905.8M898.5,744.8H905.8M898.5,741.5H905.8M898.5,738.7H905.8M898.5,736.2H905.8M898.5,734.1H905.8M898.5,719.6H905.8M898.5,712.3H905.8M898.5,707H905.8M898.5,703H905.8M898.5,699.7H905.8M898.5,696.9H905.8M898.5,694.5H905.8M898.5,692.3H905.8" stroke="#000" stroke-width="2.4" fill="none" stroke-linecap="round"/>
<rect x="131.7" y="22.3" width="774.1" height="334.2" fill="none" stroke="#000" stroke-width="2.7"/>
<rect x="131.7" y="356.6" width="774.1" height="333.9" fill="none" stroke="#000" stroke-width="2.7"/>
<rect x="131.7" y="690.5" width="774.1" height="334" fill="none" stroke="#000" stroke-width="2.7"/>
<line x1="271.6" y1="52.8" x2="271.6" y2="158" stroke="#000" stroke-width="2.7" stroke-linecap="round"/>
<path d="M266.7,156.1L276.5,156.1L271.6,174.2Z" fill="#000" stroke="#000" stroke-width="1.8" stroke-linejoin="round"/>
<text x="100" y="118.8" font-size="35.8" text-anchor="end">10</text>
<text x="115.9" y="99.8" font-size="20.9" text-anchor="end" textLength="14.9" lengthAdjust="spacingAndGlyphs">-3</text>
<text x="100" y="217.2" font-size="35.8" text-anchor="end">10</text>
<text x="115.9" y="198.2" font-size="20.9" text-anchor="end" textLength="14.9" lengthAdjust="spacingAndGlyphs">-5</text>
<text x="100" y="315.6" font-size="35.8" text-anchor="end">10</text>
<text x="115.9" y="296.6" font-size="20.9" text-anchor="end" textLength="14.9" lengthAdjust="spacingAndGlyphs">-7</text>
<text x="100" y="369.3" font-size="35.8" text-anchor="end">10</text>
<text x="115.9" y="350.3" font-size="20.9" text-anchor="end" textLength="14.9" lengthAdjust="spacingAndGlyphs">-1</text>
<text x="100" y="459.7" font-size="35.8" text-anchor="end">10</text>
<text x="115.9" y="440.7" font-size="20.9" text-anchor="end" textLength="14.9" lengthAdjust="spacingAndGlyphs">-3</text>
<text x="100" y="550.1" font-size="35.8" text-anchor="end">10</text>
<text x="115.9" y="531.1" font-size="20.9" text-anchor="end" textLength="14.9" lengthAdjust="spacingAndGlyphs">-5</text>
<text x="100" y="640.5" font-size="35.8" text-anchor="end">10</text>
<text x="115.9" y="621.5" font-size="20.9" text-anchor="end" textLength="14.9" lengthAdjust="spacingAndGlyphs">-7</text>
<text x="100" y="703.6" font-size="35.8" text-anchor="end">10</text>
<text x="115.9" y="684.6" font-size="20.9" text-anchor="end" textLength="14.9" lengthAdjust="spacingAndGlyphs">-1</text>
<text x="100" y="787.2" font-size="35.8" text-anchor="end">10</text>
<text x="115.9" y="768.2" font-size="20.9" text-anchor="end" textLength="14.9" lengthAdjust="spacingAndGlyphs">-3</text>
<text x="100" y="870.7" font-size="35.8" text-anchor="end">10</text>
<text x="115.9" y="851.7" font-size="20.9" text-anchor="end" textLength="14.9" lengthAdjust="spacingAndGlyphs">-5</text>
<text x="100" y="954.2" font-size="35.8" text-anchor="end">10</text>
<text x="115.9" y="935.2" font-size="20.9" text-anchor="end" textLength="14.9" lengthAdjust="spacingAndGlyphs">-7</text>
<text x="100" y="1037.7" font-size="35.8" text-anchor="end">10</text>
<text x="115.9" y="1018.7" font-size="20.9" text-anchor="end" textLength="14.9" lengthAdjust="spacingAndGlyphs">-9</text>
<text x="131.7" y="1066" font-size="35.8" text-anchor="middle">0</text>
<text x="286.5" y="1066" font-size="35.8" text-anchor="middle">10</text>
<text x="441.3" y="1066" font-size="35.8" text-anchor="middle">20</text>
<text x="596.1" y="1066" font-size="35.8" text-anchor="middle">30</text>
<text x="751" y="1066" font-size="35.8" text-anchor="middle">40</text>
<text x="905.8" y="1066" font-size="35.8" text-anchor="middle">50</text>
<text x="511" y="1115.4" font-size="37.4" text-anchor="middle">Harmonic order</text>
<text x="43" y="511.1" font-size="37.7" text-anchor="middle" transform="rotate(-90 43 511.1)">Harmonic yield (arb. units)</text>
<text x="868.5" y="58.8" font-size="36.5" text-anchor="middle">(a)</text>
<text x="874.1" y="397.6" font-size="36.5" text-anchor="middle">(b)</text>
<text x="869.2" y="721.9" font-size="36.5" text-anchor="middle">(c)</text>
<path d="M1220.2,23.9V37.5M1374.8,23.9V37.5M1529.3,23.9V37.5M1683.9,23.9V37.5M1143,23.9V31.2M1297.5,23.9V31.2M1452.1,23.9V31.2M1606.6,23.9V31.2M1761.1,23.9V31.2" stroke="#000" stroke-width="2.4" fill="none" stroke-linecap="round"/>
<path d="M1220.2,343.6V357.2M1374.8,343.6V357.2M1529.3,343.6V357.2M1683.9,343.6V357.2M1143,349.9V357.2M1297.5,349.9V357.2M1452.1,349.9V357.2M1606.6,349.9V357.2M1761.1,349.9V357.2" stroke="#000" stroke-width="2.4" fill="none" stroke-linecap="round"/>
<path d="M1065.7,290.5H1079.3M1065.7,157.2H1079.3" stroke="#000" stroke-width="2.4" fill="none" stroke-linecap="round"/>
<path d="M1065.7,223.9H1073M1065.7,90.6H1073" stroke="#000" stroke-width="2.4" fill="none" stroke-linecap="round"/>
<path d="M1824.8,290.5H1838.4M1824.8,157.2H1838.4" stroke="#000" stroke-width="2.4" fill="none" stroke-linecap="round"/>
<path d="M1831.1,223.9H1838.4M1831.1,90.6H1838.4" stroke="#000" stroke-width="2.4" fill="none" stroke-linecap="round"/>
<path d="M1220.2,357.2V370.8M1374.8,357.2V370.8M1529.3,357.2V370.8M1683.9,357.2V370.8M1143,357.2V364.5M1297.5,357.2V364.5M1452.1,357.2V364.5M1606.6,357.2V364.5M1761.1,357.2V364.5" stroke="#000" stroke-width="2.4" fill="none" stroke-linecap="round"/>
<path d="M1220.2,676.9V690.5M1374.8,676.9V690.5M1529.3,676.9V690.5M1683.9,676.9V690.5M1143,683.2V690.5M1297.5,683.2V690.5M1452.1,683.2V690.5M1606.6,683.2V690.5M1761.1,683.2V690.5" stroke="#000" stroke-width="2.4" fill="none" stroke-linecap="round"/>
<path d="M1065.7,595.3H1079.3M1065.7,476.2H1079.3" stroke="#000" stroke-width="2.4" fill="none" stroke-linecap="round"/>
<path d="M1065.7,666.7H1073M1065.7,642.9H1073M1065.7,619.1H1073M1065.7,571.5H1073M1065.7,547.7H1073M1065.7,523.9H1073M1065.7,500H1073M1065.7,452.4H1073M1065.7,428.6H1073M1065.7,404.8H1073M1065.7,381H1073" stroke="#000" stroke-width="2.4" fill="none" stroke-linecap="round"/>
<path d="M1824.8,595.3H1838.4M1824.8,476.2H1838.4" stroke="#000" stroke-width="2.4" fill="none" stroke-linecap="round"/>
<path d="M1831.1,666.7H1838.4M1831.1,642.9H1838.4M1831.1,619.1H1838.4M1831.1,571.5H1838.4M1831.1,547.7H1838.4M1831.1,523.9H1838.4M1831.1,500H1838.4M1831.1,452.4H1838.4M1831.1,428.6H1838.4M1831.1,404.8H1838.4M1831.1,381H1838.4" stroke="#000" stroke-width="2.4" fill="none" stroke-linecap="round"/>
<path d="M1220.2,690.5V704.1M1374.8,690.5V704.1M1529.3,690.5V704.1M1683.9,690.5V704.1M1143,690.5V697.8M1297.5,690.5V697.8M1452.1,690.5V697.8M1606.6,690.5V697.8M1761.1,690.5V697.8" stroke="#000" stroke-width="2.4" fill="none" stroke-linecap="round"/>
<path d="M1220.2,1010.2V1023.8M1374.8,1010.2V1023.8M1529.3,1010.2V1023.8M1683.9,1010.2V1023.8M1143,1016.5V1023.8M1297.5,1016.5V1023.8M1452.1,1016.5V1023.8M1606.6,1016.5V1023.8M1761.1,1016.5V1023.8" stroke="#000" stroke-width="2.4" fill="none" stroke-linecap="round"/>
<path d="M1065.7,957.1H1079.3M1065.7,890.5H1079.3M1065.7,823.8H1079.3M1065.7,757.2H1079.3" stroke="#000" stroke-width="2.4" fill="none" stroke-linecap="round"/>
<path d="M1065.7,1010.5H1073M1065.7,997.1H1073M1065.7,983.8H1073M1065.7,970.5H1073M1065.7,943.8H1073M1065.7,930.5H1073M1065.7,917.1H1073M1065.7,903.8H1073M1065.7,877.1H1073M1065.7,863.8H1073M1065.7,850.5H1073M1065.7,837.2H1073M1065.7,810.5H1073M1065.7,797.2H1073M1065.7,783.8H1073M1065.7,770.5H1073M1065.7,743.8H1073M1065.7,730.5H1073M1065.7,717.2H1073M1065.7,703.8H1073" stroke="#000" stroke-width="2.4" fill="none" stroke-linecap="round"/>
<path d="M1824.8,957.1H1838.4M1824.8,890.5H1838.4M1824.8,823.8H1838.4M1824.8,757.2H1838.4" stroke="#000" stroke-width="2.4" fill="none" stroke-linecap="round"/>
<path d="M1831.1,1010.5H1838.4M1831.1,997.1H1838.4M1831.1,983.8H1838.4M1831.1,970.5H1838.4M1831.1,943.8H1838.4M1831.1,930.5H1838.4M1831.1,917.1H1838.4M1831.1,903.8H1838.4M1831.1,877.1H1838.4M1831.1,863.8H1838.4M1831.1,850.5H1838.4M1831.1,837.2H1838.4M1831.1,810.5H1838.4M1831.1,797.2H1838.4M1831.1,783.8H1838.4M1831.1,770.5H1838.4M1831.1,743.8H1838.4M1831.1,730.5H1838.4M1831.1,717.2H1838.4M1831.1,703.8H1838.4" stroke="#000" stroke-width="2.4" fill="none" stroke-linecap="round"/>
<defs><marker id="mk" markerWidth="8" markerHeight="8" refX="4" refY="4" markerUnits="userSpaceOnUse" overflow="visible"><circle cx="4" cy="4" r="2.7" fill="#fff" stroke="#00F900" stroke-width="1.05"/></marker><marker id="mk2" markerWidth="8" markerHeight="8" refX="4" refY="4" markerUnits="userSpaceOnUse" overflow="visible"><circle cx="4" cy="4" r="2.4" fill="#fff" stroke="#00F900" stroke-width="1.05"/></marker></defs>
<g clip-path="url(#cr0)">
<path d="M1065.2,160 1066.7,160 1068.2,160 1069.7,160 1071.2,160 1072.7,160 1074.2,160 1075.7,160 1077.2,160.1 1078.7,160.1 1080.2,160.1 1081.7,160.2 1083.2,160.4 1084.6,160.7 1086.1,161 1087.6,161.3 1089,161.6 1090.4,162 1091.9,162.5 1093.3,163.1 1094.6,163.7 1095.9,164.4 1097.2,165.2 1098.5,166 1099.7,166.8 1100.9,167.8 1102,168.8 1103,169.9 1104,170.9 1105,172.1 1106,173.2 1107,174.3 1108,175.4 1109,176.5 1110,177.6 1111,178.8 1111.9,179.9 1112.9,181.1 1113.9,182.2 1114.8,183.4 1115.8,184.5 1116.7,185.7 1117.6,186.9 1118.5,188 1119.5,189.2 1120.4,190.4 1121.3,191.5 1122.3,192.7 1123.2,193.9 1124.2,195 1125.1,196.2 1126,197.3 1127,198.5 1128,199.6 1129,200.8 1130,201.8 1131,202.9 1132.1,203.9 1133.2,205 1134.3,206 1135.5,206.9 1136.7,207.7 1138.1,208.4 1139.4,209 1140.8,209.5 1142.2,210 1143.7,210.3" fill="none" stroke="#00F900" stroke-width="6.5" stroke-linecap="round" stroke-linejoin="round"/>
<path d="M1065.2,165.6 1066.7,165.6 1068.2,165.6 1069.7,165.6 1071.2,165.6 1072.7,165.7 1074.2,165.7 1075.7,165.7 1077.1,165.8 1078.6,165.8 1080.1,165.9 1081.6,166 1083.1,166.2 1084.5,166.4 1086,166.7 1087.5,167 1088.9,167.4 1090.3,167.8 1091.8,168.2 1093.2,168.7 1094.5,169.3 1095.9,169.9 1097.2,170.6 1098.5,171.3 1099.8,172.1 1101,173 1102.1,174 1103.2,175 1104.2,176 1105.3,177.1 1106.3,178.2 1107.4,179.2 1108.4,180.2 1109.5,181.3 1110.6,182.3 1111.6,183.4 1112.7,184.4 1113.7,185.5 1114.7,186.6 1115.7,187.7 1116.7,188.8 1117.7,189.9 1118.6,191.1 1119.6,192.2 1120.5,193.4 1121.5,194.5 1122.5,195.6 1123.5,196.7 1124.5,197.8 1125.5,198.9 1126.6,199.9 1127.6,201 1128.7,202 1129.8,203 1130.9,204 1132,205.1 1133.1,206.1 1134.2,207.1 1135.4,208 1136.6,208.8 1138,209.4 1139.4,209.9 1140.8,210.4 1142.2,210.7 1143.7,211" fill="none" stroke="#00F900" stroke-width="6.5" stroke-linecap="round" stroke-linejoin="round"/>
<path d="M1065.2,190.7 1066.7,190.7 1068.3,190.7 1069.8,190.7 1071.3,190.7 1072.8,190.7 1074.3,190.8 1075.8,190.8 1077.3,190.8 1078.8,190.8 1080.3,190.8 1081.8,190.9 1083.4,190.9 1084.9,190.9 1086.4,191 1087.9,191 1089.4,191.2 1090.9,191.3 1092.4,191.5 1093.9,191.7 1095.4,192 1096.9,192.2 1098.3,192.5 1099.8,192.8 1101.3,193.1 1102.8,193.4 1104.2,193.8 1105.7,194.2 1107.1,194.7 1108.6,195.2 1110,195.8 1111.3,196.4 1112.6,197.2 1113.9,198 1115.1,198.9 1116.3,199.9 1117.3,201 1118.1,202.2 1118.9,203.5 1119.7,204.8 1120.4,206.2 1121,207.5 1121.6,208.9 1122.2,210.3 1122.8,211.7 1123.4,213.1 1124,214.5 1124.5,215.9 1125.2,217.2 1126,218.5 1127,219.7 1128,220.8" fill="none" stroke="#00F900" stroke-width="6.5" stroke-linecap="round" stroke-linejoin="round"/>
<path d="M1065.2,221.2 1066.8,221.2 1068.3,221.2 1069.9,221.2 1071.4,221.2 1073,221.2 1074.5,221.2 1076.1,221.2 1077.6,221.2 1079.1,221.2 1080.7,221.2 1082.2,221.2 1083.8,221.2 1085.3,221.2 1086.9,221.2 1088.4,221.2 1090,221.2 1091.5,221.2 1093.1,221.2 1094.6,221.2 1096.1,221.2 1097.7,221.2 1099.2,221.2" fill="none" stroke="#00F900" stroke-width="6.5" stroke-linecap="round" stroke-linejoin="round"/>
<path d="M1065.2,219.2 1066.7,219.2 1068.2,219.3 1069.7,219.3 1071.2,219.3 1072.7,219.4 1074.2,219.4 1075.7,219.4 1077.2,219.5 1078.7,219.5 1080.2,219.6 1081.7,219.6 1083.2,219.6 1084.7,219.7 1086.2,219.7 1087.7,219.8 1089.2,219.9 1090.7,219.9 1092.2,220 1093.7,220.1 1095.2,220.2 1096.7,220.3 1098.2,220.4 1099.7,220.5 1101.2,220.6 1102.7,220.7 1104.2,220.8 1105.7,220.9 1107.2,220.9 1108.7,221 1110.2,221 1111.7,221 1113.2,221 1114.7,221 1116.2,221 1117.7,221 1119.2,221 1120.7,221 1122.2,221 1123.7,221 1125.2,221 1126.7,221 1128.2,221 1129.7,221 1131.2,220.9 1132.7,220.9 1134.2,220.9 1135.7,220.8 1137.2,220.8" fill="none" stroke="#00F900" stroke-width="6.5" stroke-linecap="round" stroke-linejoin="round"/>
<circle cx="1137.2" cy="220.8" r="2.7" fill="#fff" stroke="#00F900" stroke-width="1.05"/>
<circle cx="1083.8" cy="221.4" r="2.7" fill="#fff" stroke="#00F900" stroke-width="1.05"/>
<path d="M1154.2,219.5 1154.5,218 1154.8,216.6 1155.1,215.1 1155.5,213.7 1155.8,212.2 1156.1,210.8 1156.4,209.3 1156.7,207.9 1157.1,206.4 1157.4,205 1157.7,203.5 1158.1,202.1 1158.4,200.6 1158.8,199.2 1159.1,197.7 1159.4,196.3 1159.7,194.8 1160,193.3 1160.3,191.9 1160.6,190.4 1160.9,189 1161.2,187.5 1161.5,186.1 1161.8,184.6 1162.1,183.1 1162.3,181.7 1162.6,180.2 1162.9,178.7 1163.1,177.3 1163.4,175.8 1163.7,174.3 1163.9,172.9 1164.2,171.4 1164.4,169.9 1164.7,168.5 1164.9,167 1165.2,165.5 1165.4,164.1 1165.7,162.6 1166,161.2 1166.2,159.7 1166.5,158.2 1166.8,156.8 1167.1,155.3 1167.4,153.9 1167.7,152.4 1168.1,151 1168.4,149.5 1168.8,148.1 1169.2,146.6 1169.7,145.2 1170.3,143.9 1171.1,142.6 1171.9,141.4 1172.8,140.2 1173.8,139" fill="none" stroke="#00F900" stroke-width="6.5" stroke-linecap="round" stroke-linejoin="round"/>
<polyline points="1173.8,139 1174,139.1 1174.3,139.2 1174.5,139.3 1174.7,139.5 1175,139.8 1175.2,140.1 1175.5,140.4 1175.7,140.8 1175.9,141.2 1176.2,141.7 1176.4,142.1 1176.7,142.6 1176.9,143.1 1177.1,143.7 1177.4,144.2 1177.6,144.7 1177.9,145.3 1178.1,146 1178.3,146.7 1178.6,147.6 1178.8,148.5 1179.1,149.5 1179.3,150.6 1179.5,151.7 1179.8,152.8 1180,154 1180.3,155.1 1180.5,156.3 1180.7,157.5 1181,158.8 1181.2,160.1 1181.5,161.5 1181.7,163 1181.9,164.5 1182.2,166 1182.4,167.6 1182.7,169.2 1182.9,170.8 1183.1,172.5 1183.4,174.4 1183.6,176.2 1183.9,178.2 1184.1,180.2 1184.3,182.2 1184.6,184.2 1184.8,186.2 1185.1,188.1 1185.3,190 1185.5,191.9 1185.8,193.8 1186,195.7 1186.3,197.6 1186.5,199.5 1186.7,201.5 1187,203.5 1187.2,205.5 1187.5,207.5 1187.7,209.6 1187.9,211.7 1188.2,213.8 1188.4,215.9 1188.7,218" fill="none" stroke="none" marker-start="url(#mk)" marker-mid="url(#mk)" marker-end="url(#mk)"/>
<polyline points="1165.9,219.5 1166.2,217.9 1166.4,216.2 1166.7,214.6 1166.9,212.9 1167.1,211.2 1167.4,209.6 1167.6,207.9 1167.9,206.2 1168.1,204.5 1168.3,202.7 1168.6,201 1168.8,199.2 1169.1,197.4 1169.3,195.5 1169.5,193.6 1169.8,191.7 1170,189.8 1170.3,188 1170.5,186.2 1170.7,184.5 1171,182.8 1171.2,181.2 1171.5,179.6 1171.7,177.9 1171.9,176.1 1172.2,174.4 1172.4,172.7 1172.7,171.1 1172.9,169.7 1173.1,168.6 1173.4,167.8 1173.6,167.3 1173.9,167.2 1174.1,167.3 1174.3,167.6 1174.6,168.1 1174.8,168.7 1175.1,169.5 1175.3,170.3 1175.5,171.2 1175.8,172.2 1176,173.3 1176.3,174.4 1176.5,175.5 1176.7,176.9 1177,178.6 1177.2,180.5 1177.5,182.7 1177.7,185 1177.9,187.5 1178.2,190 1178.4,192.6 1178.7,195.3 1178.9,198.3 1179.1,201.4 1179.4,204.8 1179.6,208.3 1179.9,211.9 1180.1,215.8" fill="none" stroke="none" marker-start="url(#mk)" marker-mid="url(#mk)" marker-end="url(#mk)"/>
<polyline points="1175.7,219.5 1176,216.5 1176.2,213.7 1176.5,211 1176.7,208.5 1176.9,206.1 1177.2,203.8 1177.4,201.3 1177.7,198.8 1177.9,196.6 1178.1,195.1 1178.4,194.6 1178.6,195.4 1178.9,197.2 1179.1,199.5 1179.3,202.1 1179.6,204.4 1179.8,206.3 1180.1,208.1 1180.3,209.9 1180.5,211.7 1180.8,213.5 1181,215.2 1181.3,216.9 1181.5,218.6" fill="none" stroke="none" marker-start="url(#mk)" marker-mid="url(#mk)" marker-end="url(#mk)"/>
<polyline points="1165.8,182.1 1165.5,183 1165.3,183.9 1165.1,184.8 1164.8,185.8 1164.6,186.7 1164.3,187.7 1164.1,188.7 1163.9,189.7 1163.6,190.7 1163.4,191.8 1163.1,192.9 1162.9,194 1162.7,195.1 1162.4,196.3 1162.2,197.5 1161.9,198.7 1161.7,200 1161.5,201.2 1161.2,202.4 1161,203.7 1160.7,205 1160.5,206.2 1160.3,207.5 1160,208.8 1159.8,210.1 1159.5,211.4 1159.3,212.7 1159.1,214 1158.8,215.4 1158.6,216.7 1158.3,218.1 1158.1,219.5" fill="none" stroke="none" marker-start="url(#mk)" marker-mid="url(#mk)" marker-end="url(#mk)"/>
<path d="M1165.3,219.5 1165.7,218 1166.1,216.6 1166.7,215.3 1167.4,213.9 1168.1,212.6 1168.8,211.3 1169.9,210.3 1170.9,211.3 1171.6,212.6 1172.4,213.9 1173,215.3 1173.6,216.6 1174.1,218 1174.4,219.5" fill="none" stroke="#00F900" stroke-width="6.5" stroke-linecap="round" stroke-linejoin="round"/>
<path d="M1065.2,154.1 1066.7,154.1 1068.2,154.1 1069.7,154.1 1071.2,154.1 1072.7,154.1 1074.2,154.1 1075.7,154.1 1077.2,154.1 1078.7,154.1 1080.2,154.1 1081.7,154.2 1083.2,154.4 1084.7,154.7 1086.2,155 1087.6,155.4 1089.1,155.8 1090.5,156.2 1091.9,156.7 1093.3,157.3 1094.6,158.1 1095.8,158.8 1097.1,159.7 1098.3,160.6 1099.5,161.5 1100.6,162.5 1101.7,163.5 1102.7,164.6 1103.7,165.7 1104.7,166.9 1105.6,168 1106.6,169.2 1107.5,170.3 1108.5,171.5 1109.4,172.7 1110.3,173.9 1111.2,175.1 1112.1,176.3 1112.9,177.5 1113.8,178.8 1114.7,180 1115.6,181.2 1116.5,182.4 1117.4,183.6 1118.3,184.8 1119.2,186 1120.1,187.2 1121,188.4 1121.9,189.6 1122.8,190.8 1123.7,192 1124.6,193.2 1125.4,194.4 1126.3,195.6 1127.2,196.9 1128.1,198.1 1129,199.3 1129.9,200.4 1131,201.5 1132,202.6 1133,203.7 1134.1,204.7 1135.2,205.7 1136.4,206.6 1137.7,207.4 1139,208.1 1140.4,208.8 1141.8,209.3 1143.2,209.6 1144.7,209.6 1146.1,209.1 1147.5,208.4 1148.7,207.6 1149.9,206.7 1151,205.6 1151.9,204.4 1152.7,203.1 1153.4,201.8 1154,200.5 1154.6,199.1 1155.2,197.7 1155.9,196.4 1156.5,195 1157.1,193.6 1157.7,192.2 1158.2,190.9 1158.8,189.5 1159.3,188.1 1159.8,186.6 1160.3,185.2 1160.8,183.8 1161.3,182.4 1161.7,181 1162.2,179.5 1162.6,178.1 1163,176.6 1163.4,175.2 1163.8,173.8 1164.3,172.3 1164.7,170.9 1165.1,169.4 1165.5,168 1165.9,166.5 1166.3,165.1 1166.7,163.7 1167.2,162.3 1167.8,160.9 1168.4,159.5 1169,158.1 1169.9,156.9 1171.4,156.9 1172.7,157.4 1174,158.2 1175.1,159.2 1175.9,160.5 1176.6,161.8 1177.1,163.2" fill="none" stroke="#00F900" stroke-width="6.5" stroke-linecap="round" stroke-linejoin="round"/>
<path d="M1143.7,209.7 1145.1,209 1146.4,208.4 1147.7,207.6 1149,206.9 1150.2,206 1151.4,205.2 1152.6,204.2 1153.7,203.2 1154.8,202.2 1155.8,201.1 1156.8,200 1157.8,198.9 1158.8,197.8 1159.9,196.7 1160.9,195.7 1161.9,194.5 1162.9,193.4 1163.9,192.4 1165.1,191.4 1166.3,190.5 1167.5,189.6 1168.7,188.8 1170,188.1 1171.4,187.6 1172.9,187.5 1174.4,187.7 1175.8,188.1 1177.2,188.6 1178.6,189.2 1179.9,189.9 1181.1,190.8 1182.1,191.9 1183.1,193 1184.1,194.2 1185,195.3 1186,196.4 1187,197.6 1188,198.7 1188.9,199.9 1189.8,201 1190.8,202.2 1191.7,203.3 1192.7,204.5 1193.6,205.7 1194.5,206.8 1195.5,208 1196.4,209.1 1197.4,210.3 1198.4,211.4 1199.4,212.5 1200.5,213.5 1201.5,214.6 1202.6,215.6 1203.8,216.5 1205,217.4 1206.3,218.2 1207.5,219 1208.9,219.6 1210.3,220.1 1211.8,220.4 1213.2,220.7 1214.7,220.8" fill="none" stroke="#00F900" stroke-width="6.5" stroke-linecap="round" stroke-linejoin="round"/>
<circle cx="1214.7" cy="220.8" r="2.7" fill="#fff" stroke="#00F900" stroke-width="1.05"/>
<polyline points="1247.3,219.5 1247.5,215.9 1247.8,212.4 1248,209 1248.2,205.7 1248.5,202.6 1248.7,199.5 1249,196.5 1249.2,193.6 1249.4,190.7 1249.7,187.9 1249.9,185.3 1250.2,182.8 1250.4,180.5 1250.6,178.2 1250.9,176 1251.1,173.8 1251.4,171.7 1251.6,169.7 1251.8,167.8 1252.1,166.1 1252.3,164.4 1252.6,163 1252.8,161.5 1253,160.2 1253.3,158.8 1253.5,157.5 1253.8,156.3 1254,155.1 1254.2,154 1254.5,152.9 1254.7,151.9 1255,151 1255.2,150.2 1255.4,149.4 1255.7,148.8 1255.9,148.2 1256.2,147.6 1256.4,147 1256.6,146.4 1256.9,145.8 1257.1,145.3 1257.4,144.7 1257.6,144.2 1257.8,143.7 1258.1,143.2 1258.3,142.8 1258.6,142.3 1258.8,142 1259,141.6 1259.3,141.3 1259.5,141 1259.8,140.8 1260,140.6 1260.2,140.5 1260.5,140.4 1260.7,140.4" fill="none" stroke="none" marker-start="url(#mk)" marker-mid="url(#mk)" marker-end="url(#mk)"/>
<path d="M1260.8,140.4 1261.7,141.5 1262.6,142.7 1263.4,143.9 1264.2,145.2 1264.9,146.5 1265.5,147.9 1266,149.3 1266.4,150.7 1266.8,152.2 1267.2,153.6 1267.5,155.1 1267.8,156.5 1268.1,158 1268.4,159.5 1268.7,160.9 1269.1,162.4 1269.4,163.8 1269.7,165.3 1270,166.8 1270.4,168.2 1270.7,169.7 1271,171.1 1271.3,172.6 1271.6,174.1 1271.9,175.5 1272.2,177 1272.5,178.4 1272.8,179.9 1273.1,181.4 1273.5,182.8 1273.8,184.3 1274.1,185.7 1274.4,187.2 1274.7,188.7 1275,190.1 1275.4,191.6 1275.7,193 1276,194.5 1276.4,195.9 1276.8,197.4 1277.2,198.8 1277.6,200.2 1278,201.7 1278.4,203.1 1278.9,204.5 1279.4,205.9 1279.9,207.3 1280.4,208.7 1281,210.1 1281.6,211.5 1282.3,212.8 1283,214.1 1283.7,215.4 1284.6,216.6 1285.5,217.8 1286.6,218.8 1287.8,219.6 1289.2,220.2 1290.7,220.6 1292.1,220.8" fill="none" stroke="#00F900" stroke-width="6.5" stroke-linecap="round" stroke-linejoin="round"/>
<circle cx="1292.1" cy="220.8" r="2.7" fill="#fff" stroke="#00F900" stroke-width="1.05"/>
<polyline points="1250.5,220 1250.7,217.8 1250.8,215.6 1251,213.4 1251.1,211.2 1251.3,209 1251.5,206.8 1251.6,204.6 1251.8,202.4 1252,200.2 1252.2,198 1252.3,195.8 1252.5,193.6 1252.7,191.4 1252.8,189.2 1253,187 1253.2,184.7 1253.4,182.5 1253.6,180.3 1253.8,178.1 1254,175.9 1254.1,173.7 1254.3,171.5 1254.5,169.3 1254.8,167.1 1255,164.9 1255.2,162.7 1255.5,160.6 1255.8,158.4 1256.2,156.2 1256.5,154 1256.9,151.8 1257.4,149.7 1257.9,147.5 1258.8,148.4 1259.2,150.6 1259.4,152.8 1259.6,155 1259.8,157.2 1260,159.4 1260.1,161.6 1260.2,163.8 1260.2,166 1260.3,168.2 1260.4,170.4 1260.4,172.6 1260.5,174.9 1260.5,177.1 1260.6,179.3 1260.6,181.5 1260.7,183.7 1260.8,185.9 1260.8,188.1 1260.9,190.3 1260.9,192.5 1261,194.7 1261.1,196.9 1261.2,199.1 1261.3,201.4 1261.4,203.6 1261.5,205.8 1261.6,208 1261.7,210.2 1261.9,212.4 1262,214.6 1262.1,216.8 1262.3,219" fill="none" stroke="none" marker-start="url(#mk)" marker-mid="url(#mk)" marker-end="url(#mk)"/>
<polyline points="1252,220 1252.1,218.3 1252.2,216.6 1252.4,215 1252.5,213.4 1252.6,211.8 1252.7,210.4 1252.8,208.9 1253,207.5 1253.1,206.2 1253.2,205 1253.3,203.8 1253.4,202.5 1253.6,201.2 1253.7,199.9 1253.8,198.6 1253.9,197.3 1254,196.1 1254.2,194.9 1254.3,193.9 1254.4,192.9 1254.5,192.1 1254.6,191.4 1254.8,190.9 1254.9,190.6 1255,190.5 1255.1,190.6 1255.2,191 1255.4,191.6 1255.5,192.5 1255.6,193.5 1255.7,194.6 1255.8,195.9 1256,197.2 1256.1,198.7 1256.2,200.1 1256.3,201.6 1256.4,203.1 1256.6,204.5 1256.7,206 1256.8,207.5 1256.9,209.1 1257,210.9 1257.2,212.7 1257.3,214.6 1257.4,216.6 1257.5,218.6" fill="none" stroke="none" marker-start="url(#mk)" marker-mid="url(#mk)" marker-end="url(#mk)"/>
<circle cx="1256.5" cy="220.7" r="2.7" fill="#fff" stroke="#00F900" stroke-width="1.05"/>
<circle cx="1261.9" cy="217.3" r="2.7" fill="#fff" stroke="#00F900" stroke-width="1.05"/>
<polyline points="1332.3,219.5 1332.6,209.2 1332.8,200 1333,192.9 1333.3,187 1333.5,181.9 1333.8,177.3 1334,173.1 1334.2,169.2 1334.5,165.3 1334.7,161.7 1335,158.3 1335.2,155 1335.4,151.9 1335.7,149 1335.9,146.1 1336.2,143.3 1336.4,140.5 1336.6,137.8 1336.9,135.1 1337.1,132.5 1337.4,130 1337.6,127.7 1337.8,125.5 1338.1,123.6 1338.3,121.9 1338.6,120.3 1338.8,118.7 1339,117.2 1339.3,115.7 1339.5,114.3 1339.8,112.9 1340,111.7 1340.2,110.5 1340.5,109.4 1340.7,108.5 1341,107.7 1341.2,107 1341.4,106.4" fill="none" stroke="none" marker-start="url(#mk)" marker-mid="url(#mk)" marker-end="url(#mk)"/>
<path d="M1341.5,106.3 1342,107.7 1342.6,109.1 1343.1,110.5 1343.5,111.9 1344,113.4 1344.4,114.8 1344.8,116.2 1345.1,117.7 1345.4,119.2 1345.6,120.6 1345.9,122.1 1346.1,123.6 1346.4,125 1346.6,126.5 1346.8,128 1347,129.5 1347.2,130.9 1347.4,132.4 1347.7,133.9 1347.9,135.4 1348.1,136.8 1348.3,138.3 1348.5,139.8 1348.7,141.3 1348.9,142.8 1349.1,144.2 1349.3,145.7 1349.5,147.2 1349.7,148.7 1349.9,150.1 1350.1,151.6 1350.3,153.1 1350.5,154.6 1350.7,156 1350.9,157.5 1351.1,159 1351.4,160.5 1351.6,162 1351.8,163.4 1352,164.9 1352.2,166.4 1352.4,167.9 1352.6,169.3 1352.8,170.8 1353.1,172.3 1353.3,173.8 1353.5,175.2 1353.7,176.7 1354,178.2 1354.2,179.6 1354.5,181.1 1354.7,182.6 1355,184.1 1355.2,185.5 1355.5,187 1355.7,188.5 1356,189.9 1356.3,191.4 1356.6,192.9 1356.8,194.3 1357.2,195.8 1357.5,197.2 1357.8,198.7 1358.2,200.1 1358.6,201.6 1359,203 1359.4,204.4 1359.9,205.8 1360.4,207.2 1361,208.6 1361.6,210 1362.2,211.4 1362.8,212.7 1363.6,214 1364.3,215.3 1365.2,216.5 1366.2,217.6 1367.2,218.7 1368.2,219.8 1369.3,220.8" fill="none" stroke="#00F900" stroke-width="6.5" stroke-linecap="round" stroke-linejoin="round"/>
<circle cx="1369.3" cy="220.8" r="2.7" fill="#fff" stroke="#00F900" stroke-width="1.05"/>
<polyline points="1333.6,219.5 1333.9,213 1334.1,206.9 1334.3,201.3 1334.6,196.3 1334.8,191.8 1335.1,187.5 1335.3,183.5 1335.5,179.9 1335.8,176.9 1336,174.6 1336.3,172.6 1336.5,170.6 1336.7,168.9 1337,167.4 1337.2,166.4 1337.5,165.9 1337.7,166 1337.9,166.8 1338.2,168.3 1338.4,170.3 1338.7,172.8 1338.9,175.7 1339.1,181.5 1339.4,189.9" fill="none" stroke="none" marker-start="url(#mk)" marker-mid="url(#mk)" marker-end="url(#mk)"/>
<circle cx="1334.9" cy="220.1" r="2.7" fill="#fff" stroke="#00F900" stroke-width="1.05"/>
<circle cx="1338.9" cy="217.5" r="2.7" fill="#fff" stroke="#00F900" stroke-width="1.05"/>
<circle cx="1338.9" cy="212.3" r="2.7" fill="#fff" stroke="#00F900" stroke-width="1.05"/>
<polyline points="1412.1,220.8 1412.3,216 1412.6,211.2 1412.8,206.4 1413.1,201.6 1413.3,196.8 1413.5,191.9 1413.8,186.9 1414,181.8 1414.3,176.9 1414.5,172.2 1414.7,168.1 1415,164.3 1415.2,160.8 1415.5,157.4 1415.7,154.2 1415.9,151.1 1416.2,148.1 1416.4,145.3 1416.7,142.5 1416.9,139.8 1417.1,137 1417.4,134.4 1417.6,131.8 1417.9,129.3 1418.1,127 1418.3,124.9 1418.6,123.1 1418.8,121.5 1419.1,119.9 1419.3,118.4 1419.5,116.9 1419.8,115.5 1420,114.3 1420.3,113.1 1420.5,112 1420.7,111.1 1421,110.3 1421.2,109.7" fill="none" stroke="none" marker-start="url(#mk)" marker-mid="url(#mk)" marker-end="url(#mk)"/>
<path d="M1421.3,109.6 1421.8,111 1422.4,112.4 1423,113.8 1423.5,115.2 1424,116.6 1424.4,118 1424.7,119.5 1425,121 1425.2,122.4 1425.5,123.9 1425.7,125.4 1425.9,126.9 1426.1,128.4 1426.3,129.9 1426.5,131.3 1426.6,132.8 1426.8,134.3 1427,135.8 1427.1,137.3 1427.3,138.8 1427.5,140.3 1427.7,141.8 1427.9,143.2 1428.1,144.7 1428.4,146.2 1428.6,147.7 1428.8,149.2 1429,150.6 1429.2,152.1 1429.4,153.6 1429.7,155.1 1429.9,156.6 1430.1,158.1 1430.3,159.5 1430.6,161 1430.8,162.5 1431,164 1431.2,165.5 1431.5,166.9 1431.7,168.4 1431.9,169.9 1432.2,171.4 1432.4,172.9 1432.6,174.3 1432.8,175.8 1433.1,177.3 1433.3,178.8 1433.5,180.3 1433.8,181.7 1434,183.2 1434.3,184.7 1434.5,186.2 1434.8,187.6 1435.1,189.1 1435.3,190.6 1435.6,192 1435.9,193.5 1436.3,195 1436.6,196.4 1436.9,197.9 1437.2,199.4 1437.5,200.8 1437.9,202.3 1438.3,203.7 1438.7,205.2 1439.1,206.6 1439.5,208 1440,209.5 1440.6,210.9 1441.1,212.2 1441.8,213.6 1442.6,214.9 1443.4,216.1 1444.3,217.3 1445.2,218.5 1446.2,219.7 1447.1,220.8" fill="none" stroke="#00F900" stroke-width="6.5" stroke-linecap="round" stroke-linejoin="round"/>
<circle cx="1447.1" cy="220.8" r="2.7" fill="#fff" stroke="#00F900" stroke-width="1.05"/>
<polyline points="1413.4,219.5 1413.6,216.7 1413.9,214 1414.1,211.4 1414.4,208.8 1414.6,206.2 1414.8,203.6 1415.1,200.4 1415.3,197.4 1415.6,195.3 1415.8,194.7 1416,195.4 1416.3,197 1416.5,199.2 1416.8,201.7 1417,204.4 1417.2,207.2 1417.5,210.7 1417.7,214.8 1418,219.1" fill="none" stroke="none" marker-start="url(#mk)" marker-mid="url(#mk)" marker-end="url(#mk)"/>
<polyline points="1493.2,218.2 1493.4,213.3 1493.7,208.7 1493.9,204.3 1494.1,200.1 1494.4,196.2 1494.6,192.7 1494.9,189.3 1495.1,186 1495.3,182.8 1495.6,179.9 1495.8,177.1 1496.1,174.6 1496.3,172.3 1496.5,170.4 1496.8,168.5 1497,166.7 1497.3,165 1497.5,163.3 1497.7,161.7 1498,160.2 1498.2,158.8 1498.5,157.5 1498.7,156.3 1498.9,155.3 1499.2,154.3 1499.4,153.5 1499.7,152.9 1499.9,152.4 1500.1,151.9 1500.4,151.4 1500.6,150.9 1500.9,150.5 1501.1,150.1 1501.3,149.8 1501.6,149.5 1501.8,149.2 1502.1,149 1502.3,148.9 1502.5,148.9" fill="none" stroke="none" marker-start="url(#mk)" marker-mid="url(#mk)" marker-end="url(#mk)"/>
<path d="M1502.4,148.9 1502.9,150.3 1503.4,151.7 1503.9,153.1 1504.3,154.5 1504.7,156 1505.1,157.5 1505.4,158.9 1505.7,160.4 1506,161.9 1506.2,163.4 1506.4,164.9 1506.6,166.4 1506.8,167.9 1507,169.3 1507.2,170.8 1507.4,172.3 1507.6,173.8 1507.9,175.3 1508.2,176.8 1508.4,178.3 1508.7,179.8 1508.9,181.2 1509.2,182.7 1509.4,184.2 1509.7,185.7 1510,187.2 1510.3,188.6 1510.6,190.1 1510.9,191.6 1511.2,193.1 1511.5,194.5 1511.8,196 1512.1,197.5 1512.5,198.9 1512.9,200.4 1513.3,201.9 1513.7,203.3 1514,204.8 1514.5,206.2 1514.9,207.7 1515.4,209.1 1515.9,210.5 1516.4,211.9 1517,213.3 1517.7,214.6 1518.5,215.9 1519.5,217.1 1520.6,218.1 1521.7,219.1 1522.9,220 1524.2,220.8" fill="none" stroke="#00F900" stroke-width="6.5" stroke-linecap="round" stroke-linejoin="round"/>
<circle cx="1524.2" cy="220.8" r="2.7" fill="#fff" stroke="#00F900" stroke-width="1.05"/>
<path d="M1572.6,220.8 1572.8,219.3 1573,217.8 1573.2,216.3 1573.4,214.8 1573.6,213.3 1573.9,211.8 1574.1,210.3 1574.4,208.8 1574.6,207.3 1574.8,205.8 1575,204.3 1575.2,202.8 1575.5,201.3 1575.7,199.9 1576,198.4 1576.3,196.9 1576.8,195.5 1577.5,194.1 1578.5,193 1579.8,192.2 1581.2,192.3 1582.2,193.4 1583,194.6 1583.7,196 1584.4,197.4 1585.1,198.7 1585.8,200 1586.4,201.4 1587,202.8 1587.6,204.2 1588.1,205.6 1588.7,207 1589.3,208.4 1589.9,209.8 1590.7,211.1 1591.4,212.4 1592.1,213.8 1592.8,215.1 1593.7,216.3 1594.7,217.5 1595.8,218.4 1597.1,219.2 1598.5,219.9 1599.9,220.4 1601.4,220.8" fill="none" stroke="#00F900" stroke-width="6.5" stroke-linecap="round" stroke-linejoin="round"/>
<circle cx="1601.4" cy="220.8" r="2.7" fill="#fff" stroke="#00F900" stroke-width="1.05"/>
<path d="M1667.4,220.1 1669.1,220.2 1670.8,220.3 1672.5,220.4 1674.1,220.5 1675.8,220.6 1677.5,220.7 1679.2,220.8" fill="none" stroke="#00F900" stroke-width="6.5" stroke-linecap="round" stroke-linejoin="round"/>
<circle cx="1679.2" cy="220.8" r="2.7" fill="#fff" stroke="#00F900" stroke-width="1.05"/>
<path d="M1151.6,220.8 1153,220.8 1154.5,220.8 1156,220.7 1157.5,220.7 1159,220.7 1160.5,220.6 1162,220.6 1163.5,220.6 1165,220.5 1166.5,220.4 1168,220.4 1169.5,220.3 1171,220.1 1172.5,220 1174,219.9 1175.4,219.7 1176.9,219.6 1178.4,219.4 1179.9,219.2 1181.4,219.1 1182.9,218.9 1184.4,218.7 1185.8,218.5 1187.3,218.3 1188.8,218.1 1190.3,217.9 1191.8,217.6 1193.2,217.4 1194.7,217.1" fill="none" stroke="#FF2600" stroke-width="6.5" stroke-linecap="round" stroke-linejoin="round"/>
<path d="M1229.4,220.8 1230.9,220.8 1232.4,220.7 1233.8,220.5 1235.3,220.3 1236.8,220.1 1238.3,219.9 1239.7,219.6 1241.2,219.3 1242.7,219 1244.1,218.5 1245.5,218 1246.9,217.4 1248.2,216.8 1249.6,216.2 1250.9,215.6 1252.2,214.8 1253.5,214.1 1254.8,213.2 1256,212.4 1257.2,211.5 1258.4,210.6 1259.6,209.7 1260.8,208.8 1261.9,207.9 1263.1,206.9 1264.2,205.9 1265.3,204.9 1266.4,203.9 1267.5,202.9 1268.6,201.9 1269.6,200.8 1270.7,199.7 1271.7,198.6 1272.7,197.5 1273.8,196.5 1274.8,195.4 1276,194.5 1277.1,193.5 1278.3,192.6 1279.5,191.7 1280.7,190.9 1282,190.1 1283.4,189.5 1284.8,189 1286.2,188.5 1287.6,188 1289.1,187.7 1290.6,187.5 1292,187.5 1293.5,187.7 1295,188.1 1296.4,188.6 1297.7,189.1 1299.1,189.8 1300.3,190.7 1301.3,191.8 1302.3,192.9 1303.3,194.1 1304.2,195.2 1305.2,196.3 1306.2,197.5 1307.1,198.6 1308.1,199.8 1309,200.9 1310,202.1 1310.9,203.2 1311.9,204.4 1312.9,205.5 1313.9,206.6 1314.9,207.7 1315.9,208.8 1316.9,209.9 1317.9,211" fill="none" stroke="#FF2600" stroke-width="6.5" stroke-linecap="round" stroke-linejoin="round"/>
<path d="M1306.8,220.8 1308.3,220.7 1309.8,220.5 1311.3,220.2 1312.7,219.9 1314.2,219.5 1315.6,219.1 1317.1,218.7 1318.5,218.1 1319.8,217.4 1321.1,216.7 1322.4,215.8 1323.6,214.9 1324.8,214 1325.9,213 1326.9,212 1327.9,210.8 1328.9,209.7 1329.8,208.5 1330.7,207.3 1331.6,206.1 1332.5,204.9 1333.3,203.6 1334.1,202.3 1334.8,201 1335.6,199.7 1336.3,198.4 1337,197 1337.7,195.7 1338.3,194.4 1339,193 1339.7,191.7 1340.3,190.3 1341,189 1341.6,187.6 1342.2,186.2 1342.8,184.8 1343.4,183.5 1344,182.1 1344.6,180.7 1345.2,179.3 1345.8,178 1346.4,176.6 1347,175.2 1347.5,173.8 1348.1,172.4 1348.7,171 1349.2,169.6 1349.8,168.2 1350.4,166.8 1351,165.4 1351.6,164.1 1352.2,162.7 1352.8,161.3 1353.4,160 1354,158.6 1354.7,157.2 1355.3,155.9 1356,154.5 1356.7,153.2 1357.4,151.9 1358.2,150.6 1359,149.3 1359.8,148.1 1360.7,146.8 1361.6,145.6 1362.6,144.5 1363.8,143.6 1365,142.8 1366.4,142.1 1367.8,141.7 1369.3,141.8 1370.7,142.4 1372,143.1 1373.2,144 1374.3,145.1 1375.3,146.2 1376.1,147.4 1376.9,148.7 1377.5,150.1 1378.2,151.4 1378.8,152.8 1379.4,154.2 1380.1,155.5 1380.7,156.9 1381.2,158.3 1381.8,159.7 1382.3,161.1 1382.9,162.5 1383.4,163.9 1383.9,165.3 1384.5,166.7 1385,168.1 1385.5,169.5 1386.1,170.9 1386.6,172.3 1387.2,173.7 1387.7,175.1 1388.2,176.5 1388.8,177.9 1389.3,179.3 1389.9,180.7 1390.4,182.1 1390.9,183.5 1391.5,185 1392,186.4 1392.5,187.8 1393.1,189.2 1393.6,190.6 1394.1,192 1394.6,193.4 1395.2,194.8 1395.7,196.2 1396.3,197.6 1396.8,199 1397.4,200.4 1398,201.8 1398.5,203.2 1399.1,204.5 1399.7,205.9 1400.3,207.3 1401,208.7 1401.6,210 1402.2,211.4 1402.9,212.8 1403.5,214.1 1404.2,215.5 1404.8,216.8 1405.5,218.1 1406.2,219.5" fill="none" stroke="#FF2600" stroke-width="6.5" stroke-linecap="round" stroke-linejoin="round"/>
<path d="M1343.4,209.7 1344.2,208.4 1344.9,207.1 1345.7,205.8 1346.4,204.5 1347.1,203.1 1347.7,201.8 1348.4,200.4 1349,199 1349.5,197.7 1350.1,196.3 1350.6,194.9 1351.2,193.5 1351.7,192.1 1352.2,190.7 1352.8,189.3 1353.3,187.9 1353.9,186.5 1354.4,185.1 1354.9,183.7 1355.5,182.3 1356,180.9 1356.5,179.5 1357.1,178.1 1357.7,176.7 1358.3,175.3 1359,174 1359.6,172.6 1360.2,171.3 1360.9,169.9 1361.6,168.6 1362.4,167.4 1363.4,166.2 1364.5,165.1 1365.6,164.2 1366.8,163.2 1368,162.4 1369.4,161.8 1370.8,161.3 1372.3,161.4 1373.7,161.9 1375,162.6 1376.2,163.5 1377.4,164.5 1378.4,165.6 1379.2,166.8 1380,168.1 1380.7,169.4 1381.4,170.8 1382,172.1 1382.6,173.5 1383.2,174.8 1383.9,176.2 1384.5,177.5 1385.1,178.9 1385.7,180.3 1386.3,181.7 1386.9,183 1387.5,184.4 1388.1,185.8 1388.7,187.2 1389.3,188.5 1389.9,189.9 1390.5,191.3 1391.2,192.6 1391.8,194 1392.4,195.4 1393,196.8 1393.6,198.1 1394.2,199.5 1394.8,200.9 1395.4,202.3 1396,203.6 1396.5,205 1397.1,206.4 1397.8,207.8 1398.4,209.1 1399.1,210.4 1399.8,211.8 1400.5,213.1 1401.3,214.3 1402.1,215.6 1402.9,216.9" fill="none" stroke="#FF2600" stroke-width="6.5" stroke-linecap="round" stroke-linejoin="round"/>
<path d="M1380.1,158 1380.6,159.4 1381.1,160.9 1381.6,162.3 1382.2,163.7 1382.7,165.1 1383.2,166.5 1383.8,168 1384.3,169.4 1384.9,170.8 1385.4,172.2 1386,173.6 1386.5,175 1387.1,176.5 1387.6,177.9 1388.2,179.3 1388.7,180.7 1389.3,182.1 1389.8,183.5 1390.4,185 1390.9,186.4 1391.4,187.8 1392,189.2 1392.6,190.6 1393.1,192 1393.7,193.4 1394.3,194.8 1394.9,196.2 1395.6,197.6 1396.2,199 1396.8,200.4 1397.4,201.7 1398.1,203.1 1398.7,204.5 1399.3,205.9 1399.9,207.3 1400.5,208.7 1401.1,210.1 1401.7,211.5 1402.3,212.9 1402.9,214.2" fill="none" stroke="#FF2600" stroke-width="6.5" stroke-linecap="round" stroke-linejoin="round"/>
<path d="M1379.4,165.9 1380.1,167.2 1380.7,168.5 1381.4,169.9 1382.1,171.2 1382.7,172.5 1383.4,173.9 1384.1,175.2 1384.7,176.5 1385.4,177.9 1386.1,179.2 1386.8,180.5 1387.5,181.9 1388.1,183.2 1388.8,184.6 1389.4,185.9 1390,187.3 1390.6,188.6 1391.2,190 1391.8,191.4 1392.4,192.7 1393,194.1 1393.6,195.5 1394.2,196.8 1394.9,198.2 1395.5,199.5 1396.2,200.9 1396.9,202.2 1397.6,203.5 1398.2,204.9 1398.9,206.2 1399.6,207.5 1400.3,208.9 1400.9,210.2 1401.6,211.5 1402.3,212.9 1402.9,214.2 1403.6,215.6" fill="none" stroke="#FF2600" stroke-width="6.5" stroke-linecap="round" stroke-linejoin="round"/>
<path d="M1384,220.8 1385.5,220.6 1386.9,220.2 1388.4,219.8 1389.8,219.4 1391.2,218.8 1392.6,218.2 1393.9,217.4 1395.1,216.5 1396.2,215.6 1397.4,214.6 1398.4,213.5 1399.4,212.4 1400.3,211.2 1401.2,210 1402,208.7 1402.8,207.4 1403.6,206.1 1404.4,204.9 1405.1,203.6 1405.9,202.2 1406.6,200.9 1407.3,199.6 1407.9,198.2 1408.6,196.9 1409.2,195.5 1409.8,194.1 1410.5,192.8 1411.1,191.4 1411.7,190 1412.2,188.6 1412.8,187.2 1413.4,185.8 1413.9,184.4 1414.5,183 1415,181.6 1415.5,180.2 1416,178.8 1416.5,177.4 1417,176 1417.5,174.5 1418,173.1 1418.4,171.7 1418.9,170.2 1419.3,168.8 1419.7,167.4 1420.2,165.9 1420.6,164.5 1421,163 1421.4,161.6 1421.8,160.1 1422.2,158.7 1422.6,157.2 1423,155.8 1423.4,154.3 1423.8,152.9 1424.2,151.4 1424.6,150 1425,148.5 1425.4,147.1 1425.8,145.6 1426.2,144.2 1426.6,142.7 1427,141.3 1427.3,139.8 1427.7,138.4 1428.1,136.9 1428.5,135.5 1428.9,134 1429.4,132.6 1429.8,131.1 1430.3,129.7 1430.7,128.3 1431.2,126.8 1431.6,125.4 1432,123.9 1432.5,122.5 1432.9,121.1 1433.4,119.6 1433.9,118.2 1434.5,116.8 1435.1,115.5 1435.8,114.1 1436.5,112.8 1437.4,111.6 1438.4,110.5 1439.4,109.4 1440.6,108.4 1441.8,107.5 1443.1,106.8 1444.5,106.4 1446,106.6 1447.2,107.5 1448.3,108.5 1449.4,109.6 1450.3,110.8 1451.2,112 1452,113.3 1452.7,114.6 1453.4,115.9 1454,117.3 1454.6,118.7 1455.1,120.1 1455.6,121.5 1456.2,122.9 1456.7,124.3 1457.2,125.7 1457.7,127.1 1458.2,128.6 1458.7,130 1459.1,131.4 1459.6,132.9 1460,134.3 1460.5,135.7 1460.9,137.2 1461.3,138.6 1461.7,140.1 1462.1,141.5 1462.5,143 1463,144.4 1463.4,145.9 1463.8,147.3 1464.1,148.8 1464.5,150.2 1464.9,151.7 1465.2,153.1 1465.6,154.6 1466,156.1 1466.3,157.5 1466.7,159 1467,160.4 1467.4,161.9 1467.7,163.4 1468.1,164.8 1468.4,166.3 1468.8,167.8 1469.2,169.2 1469.5,170.7 1469.9,172.1 1470.3,173.6 1470.7,175 1471.1,176.5 1471.5,177.9 1471.8,179.4 1472.2,180.8 1472.6,182.3 1473,183.7 1473.4,185.2 1473.8,186.6 1474.3,188.1 1474.7,189.5 1475.1,191 1475.5,192.4 1475.9,193.9 1476.4,195.3 1476.8,196.7 1477.2,198.2 1477.7,199.6 1478.1,201.1 1478.5,202.5 1479,203.9 1479.5,205.4 1480,206.8 1480.5,208.2 1481.1,209.6 1481.7,210.9 1482.3,212.3 1482.9,213.7 1483.6,215 1484.4,216.3 1485.3,217.5 1486.3,218.6 1487.6,219.4 1489,220 1490.4,220.5 1491.9,220.8" fill="none" stroke="#FF2600" stroke-width="6.5" stroke-linecap="round" stroke-linejoin="round"/>
<path d="M1412.7,219.5 1413.9,218.5 1414.9,217.4 1416,216.4 1417,215.2 1417.9,214 1418.7,212.8 1419.5,211.5 1420.2,210.2 1420.8,208.8 1421.4,207.4 1422,206.1 1422.5,204.7 1423.1,203.3 1423.6,201.9 1424.1,200.5 1424.7,199.1 1425.2,197.6 1425.7,196.2 1426.2,194.8 1426.6,193.4 1427.1,192 1427.6,190.5 1428,189.1 1428.5,187.7 1428.9,186.3 1429.4,184.8 1429.8,183.4 1430.3,182 1430.7,180.5 1431.2,179.1 1431.6,177.7 1432.1,176.2 1432.5,174.8 1432.9,173.4 1433.4,171.9 1433.8,170.5 1434.2,169.1 1434.7,167.6 1435.1,166.2 1435.6,164.8 1436,163.3 1436.5,161.9 1437,160.5 1437.5,159.1 1437.9,157.6 1438.3,156.2 1438.8,154.8 1439.2,153.3 1439.6,151.9 1440.1,150.5 1440.6,149.1 1441.2,147.7 1441.8,146.3 1442.5,145 1443.4,143.8 1444.3,142.6 1445.4,141.6 1446.6,140.6 1447.8,139.8 1449.2,139.2 1450.7,139.1 1452,139.8 1453.2,140.7 1454.2,141.8 1455.1,143 1456,144.2 1456.9,145.4 1457.7,146.7 1458.4,148 1459,149.4 1459.6,150.8 1460.1,152.2 1460.7,153.6 1461.2,155 1461.6,156.4 1462.1,157.8 1462.6,159.2 1463.1,160.6 1463.6,162.1 1464.1,163.5 1464.6,164.9 1465,166.3 1465.5,167.8 1465.9,169.2 1466.4,170.6 1466.8,172.1 1467.2,173.5 1467.6,174.9 1468.1,176.4 1468.5,177.8 1468.9,179.2 1469.4,180.7 1469.8,182.1 1470.3,183.5 1470.7,185 1471.1,186.4 1471.5,187.9 1471.9,189.3 1472.3,190.7 1472.8,192.2 1473.2,193.6 1473.6,195.1 1474.1,196.5 1474.5,197.9 1475,199.3 1475.5,200.7 1476.1,202.1 1476.6,203.5 1477.2,204.9 1477.8,206.3 1478.5,207.6 1479.1,209 1479.8,210.3 1480.5,211.6 1481.2,213 1482,214.3 1482.7,215.6" fill="none" stroke="#FF2600" stroke-width="6.5" stroke-linecap="round" stroke-linejoin="round"/>
<path d="M1436.9,171.1 1437.1,169.6 1437.3,168.1 1437.7,166.6 1438.1,165.2 1438.6,163.7 1439.2,162.3 1439.8,161 1440.6,159.7 1441.3,158.4 1442.2,157.1 1443.1,155.9 1444,154.7 1445.1,153.6 1446.2,152.6 1447.5,151.8 1448.9,151.3 1450.4,151.3 1451.8,151.8 1453.1,152.5 1454.4,153.4 1455.5,154.3 1456.6,155.5 1457.4,156.7 1458.2,158 1458.9,159.3 1459.6,160.7 1460.2,162.1 1460.8,163.5 1461.4,164.8 1462,166.2 1462.5,167.6 1463.1,169 1463.6,170.4 1464.2,171.9 1464.7,173.3 1465.2,174.7 1465.6,176.1 1466.1,177.6 1466.6,179 1467.1,180.4 1467.5,181.9 1468,183.3 1468.5,184.7 1469,186.2 1469.5,187.6 1470,189 1470.5,190.4 1471,191.9 1471.5,193.3 1472,194.7 1472.5,196.2 1473,197.6 1473.5,199 1474.1,200.4 1474.6,201.8 1475.2,203.2 1475.7,204.6 1476.3,206 1476.9,207.4 1477.6,208.8 1478.2,210.1 1478.8,211.5 1479.5,212.9 1480.1,214.2" fill="none" stroke="#FF2600" stroke-width="6.5" stroke-linecap="round" stroke-linejoin="round"/>
<path d="M1461.1,146.2 1461.6,147.7 1462.1,149.1 1462.5,150.5 1463,151.9 1463.4,153.3 1463.9,154.7 1464.3,156.1 1464.8,157.6 1465.2,159 1465.7,160.4 1466.1,161.8 1466.5,163.3 1466.9,164.7 1467.3,166.1 1467.7,167.6 1468.1,169 1468.5,170.4 1468.9,171.9 1469.3,173.3 1469.7,174.7 1470.1,176.2 1470.6,177.6 1471,179 1471.4,180.4 1471.8,181.9 1472.2,183.3 1472.6,184.7 1473,186.2 1473.5,187.6 1473.9,189 1474.3,190.4 1474.7,191.9 1475.2,193.3 1475.6,194.7 1476,196.1 1476.5,197.5 1477,199 1477.4,200.4 1477.9,201.8 1478.4,203.2 1478.9,204.6 1479.4,206 1479.9,207.4 1480.5,208.8 1481,210.2 1481.5,211.6 1482.1,212.9" fill="none" stroke="#FF2600" stroke-width="6.5" stroke-linecap="round" stroke-linejoin="round"/>
<path d="M1459.8,152.8 1460.4,154.2 1460.9,155.6 1461.4,157 1461.9,158.3 1462.4,159.7 1462.9,161.1 1463.4,162.5 1463.9,163.9 1464.4,165.3 1464.9,166.8 1465.4,168.2 1465.9,169.6 1466.3,171 1466.8,172.4 1467.2,173.8 1467.7,175.2 1468.1,176.7 1468.6,178.1 1469,179.5 1469.5,180.9 1469.9,182.3 1470.4,183.7 1470.8,185.2 1471.3,186.6 1471.8,188 1472.2,189.4 1472.6,190.8 1473.1,192.3 1473.5,193.7 1474,195.1 1474.4,196.5 1474.9,197.9 1475.3,199.3 1475.8,200.7 1476.3,202.1 1476.9,203.5 1477.4,204.9 1478,206.3 1478.6,207.6 1479.2,209 1479.9,210.3 1480.6,211.6 1481.3,213 1482,214.3 1482.7,215.6" fill="none" stroke="#FF2600" stroke-width="6.5" stroke-linecap="round" stroke-linejoin="round"/>
<path d="M1461.1,220.8 1462.6,220.7 1464.1,220.4 1465.6,220.1 1467,219.7 1468.5,219.2 1469.9,218.7 1471.2,218.1 1472.5,217.3 1473.7,216.4 1474.9,215.5 1476,214.4 1477,213.4 1478,212.2 1479,211.1 1479.8,209.8 1480.7,208.6 1481.5,207.3 1482.2,206 1482.9,204.7 1483.6,203.4 1484.3,202 1484.9,200.6 1485.5,199.3 1486.1,197.9 1486.6,196.5 1487.2,195.1 1487.7,193.7 1488.2,192.3 1488.7,190.9 1489.2,189.4 1489.8,188 1490.3,186.6 1490.8,185.2 1491.3,183.8 1491.7,182.4 1492.2,180.9 1492.7,179.5 1493.1,178.1 1493.6,176.6 1494,175.2 1494.4,173.8 1494.8,172.3 1495.2,170.9 1495.6,169.4 1495.9,167.9 1496.2,166.5 1496.5,165 1496.8,163.5 1497,162 1497.3,160.5 1497.5,159.1 1497.7,157.6 1498,156.1 1498.2,154.6 1498.4,153.1 1498.7,151.6 1498.9,150.2 1499.2,148.7 1499.5,147.2 1499.8,145.7 1500.2,144.3 1500.5,142.8 1501,141.4 1501.4,140 1501.9,138.5 1502.3,137.1 1502.8,135.7 1503.4,134.3 1503.9,132.9 1504.5,131.5 1505,130.1 1505.6,128.7 1506.2,127.3 1506.8,126 1507.4,124.6 1508,123.2 1508.7,121.8 1509.3,120.5 1510,119.2 1510.8,117.9 1511.6,116.6 1512.5,115.4 1513.6,114.4 1514.7,113.4 1515.9,112.5 1517.2,111.6 1518.5,110.9 1519.9,110.4 1521.4,110.3 1522.8,110.8 1524,111.7 1525.1,112.7 1526.1,113.8 1527.1,115 1527.9,116.2 1528.8,117.5 1529.5,118.7 1530.2,120.1 1530.9,121.4 1531.5,122.8 1532,124.2 1532.5,125.6 1533,127.1 1533.4,128.5 1533.9,129.9 1534.3,131.4 1534.8,132.8 1535.2,134.2 1535.7,135.7 1536.1,137.1 1536.6,138.5 1537,140 1537.4,141.4 1537.8,142.9 1538.2,144.3 1538.6,145.8 1539,147.2 1539.4,148.7 1539.8,150.1 1540.2,151.6 1540.5,153 1540.9,154.5 1541.3,155.9 1541.7,157.4 1542.1,158.8 1542.4,160.3 1542.8,161.7 1543.2,163.2 1543.6,164.7 1543.9,166.1 1544.3,167.6 1544.6,169 1545,170.5 1545.3,171.9 1545.7,173.4 1546.1,174.9 1546.4,176.3 1546.8,177.8 1547.1,179.2 1547.5,180.7 1547.9,182.2 1548.2,183.6 1548.6,185.1 1549,186.5 1549.4,188 1549.7,189.4 1550.1,190.9 1550.5,192.3 1550.8,193.8 1551.2,195.3 1551.6,196.7 1552,198.2 1552.4,199.6 1552.8,201.1 1553.2,202.5 1553.7,203.9 1554.1,205.4 1554.6,206.8 1555,208.2 1555.5,209.6 1556,211.1 1556.6,212.4 1557.3,213.8 1558,215.1 1558.9,216.3 1559.8,217.5 1560.9,218.5 1562.3,219.2 1563.6,219.8 1565,220.3 1566.5,220.6 1568,220.8" fill="none" stroke="#FF2600" stroke-width="6.5" stroke-linecap="round" stroke-linejoin="round"/>
<path d="M1491.9,220.1 1493,219.2 1494.2,218.2 1495.3,217.2 1496.4,216.2 1497.4,215.1 1498.3,213.9 1499.2,212.7 1499.9,211.3 1500.4,210 1501,208.6 1501.4,207.1 1501.8,205.7 1502.2,204.3 1502.6,202.8 1502.9,201.3 1503.2,199.9 1503.5,198.4 1503.8,196.9 1504.1,195.5 1504.3,194 1504.6,192.5 1504.9,191.1 1505.2,189.6 1505.5,188.1 1505.9,186.7 1506.2,185.2 1506.6,183.8 1507.1,182.3 1507.5,180.9 1507.9,179.5 1508.3,178 1508.8,176.6 1509.2,175.2 1509.7,173.8 1510.2,172.3 1510.7,170.9 1511.2,169.5 1511.7,168.1 1512.2,166.7 1512.8,165.3 1513.3,163.9 1513.9,162.6 1514.4,161.2 1515,159.8 1515.6,158.4 1516.2,157 1516.9,155.7 1517.7,154.4 1518.6,153.2 1519.6,152.1 1520.8,151.2 1522.1,150.5 1523.4,149.8 1524.8,149.2 1526.2,148.9 1527.7,149 1529.1,149.7 1530.2,150.6 1531.2,151.7 1532.2,152.9 1533.1,154.1 1533.9,155.3 1534.7,156.6 1535.5,157.9 1536.1,159.2 1536.7,160.6 1537.3,162 1537.8,163.4 1538.4,164.8 1538.8,166.2 1539.3,167.6 1539.8,169 1540.3,170.4 1540.8,171.8 1541.3,173.2 1541.8,174.7 1542.2,176.1 1542.7,177.5 1543.1,178.9 1543.6,180.4 1544,181.8 1544.4,183.3 1544.8,184.7 1545.3,186.1 1545.7,187.6 1546.1,189 1546.6,190.4 1547,191.8 1547.5,193.3 1547.9,194.7 1548.4,196.1 1548.8,197.6 1549.3,199 1549.7,200.4 1550.2,201.8 1550.7,203.3 1551.2,204.7 1551.7,206.1 1552.2,207.5 1552.8,208.8 1553.4,210.2 1554,211.6 1554.7,212.9 1555.4,214.2 1556.1,215.6 1556.8,216.9 1557.5,218.2" fill="none" stroke="#FF2600" stroke-width="6.5" stroke-linecap="round" stroke-linejoin="round"/>
<path d="M1502.6,207.7 1503.2,206.3 1503.8,205 1504.4,203.6 1504.9,202.2 1505.5,200.8 1506,199.4 1506.6,198 1507.1,196.6 1507.6,195.2 1508.1,193.8 1508.6,192.4 1509.1,191 1509.5,189.6 1510,188.2 1510.4,186.7 1510.9,185.3 1511.3,183.9 1511.8,182.5 1512.2,181 1512.7,179.6 1513.2,178.2 1513.7,176.8 1514.2,175.4 1514.8,174 1515.3,172.6 1515.9,171.3 1516.4,169.9 1517,168.5 1517.6,167.1 1518.3,165.8 1519,164.5 1519.9,163.3 1520.8,162.1 1521.8,161 1522.9,160 1524.1,159.1 1525.4,158.4 1526.8,158 1528.2,158.5 1529.4,159.3 1530.5,160.4 1531.4,161.5 1532.3,162.7 1533.2,164 1533.9,165.3 1534.6,166.6 1535.2,167.9 1535.8,169.3 1536.3,170.7 1536.8,172.1 1537.3,173.5 1537.8,174.9 1538.3,176.4 1538.8,177.8 1539.3,179.2 1539.9,180.6 1540.4,182 1540.9,183.4 1541.4,184.8 1541.9,186.2 1542.3,187.6 1542.8,189 1543.3,190.4 1543.8,191.8 1544.3,193.2 1544.8,194.6 1545.3,196 1545.8,197.4 1546.4,198.8 1546.9,200.2 1547.4,201.6 1547.9,203 1548.5,204.4 1549,205.8 1549.6,207.2 1550.2,208.6 1550.8,209.9 1551.5,211.2 1552.2,212.6 1552.9,213.8 1553.7,215.1 1554.5,216.4 1555.4,217.6 1556.2,218.8" fill="none" stroke="#FF2600" stroke-width="6.5" stroke-linecap="round" stroke-linejoin="round"/>
<path d="M1507.8,207.7 1508.4,206.3 1508.9,204.9 1509.5,203.5 1510.1,202.1 1510.6,200.7 1511.2,199.3 1511.7,198 1512.3,196.6 1512.9,195.2 1513.4,193.8 1514,192.4 1514.5,191 1515,189.6 1515.5,188.2 1516.1,186.8 1516.6,185.4 1517.2,184 1517.8,182.6 1518.4,181.2 1519.1,179.9 1519.8,178.6 1520.5,177.3 1521.2,176 1522,174.7 1522.8,173.4 1523.6,172.1 1524.6,171 1525.8,170.1 1527.2,169.8 1528.5,170.5 1529.7,171.5 1530.7,172.5 1531.7,173.7 1532.6,174.9 1533.4,176.1 1534.2,177.4 1534.9,178.7 1535.5,180.1 1536.1,181.5 1536.7,182.9 1537.2,184.3 1537.7,185.7 1538.3,187.1 1538.8,188.5 1539.4,189.8 1540,191.2 1540.6,192.6 1541.1,194 1541.7,195.4 1542.2,196.8 1542.8,198.2 1543.4,199.6 1543.9,201 1544.5,202.3 1545.1,203.7 1545.8,205.1 1546.4,206.4 1547.1,207.8 1547.8,209.1 1548.5,210.4 1549.2,211.7 1550,213 1550.8,214.3 1551.5,215.6 1552.3,216.9" fill="none" stroke="#FF2600" stroke-width="6.5" stroke-linecap="round" stroke-linejoin="round"/>
<path d="M1537.9,152.8 1538.3,154.2 1538.8,155.7 1539.2,157.1 1539.6,158.5 1540,160 1540.4,161.4 1540.8,162.9 1541.2,164.3 1541.6,165.7 1542,167.2 1542.5,168.6 1542.9,170 1543.3,171.5 1543.7,172.9 1544.1,174.4 1544.5,175.8 1544.9,177.3 1545.3,178.7 1545.7,180.1 1546.1,181.6 1546.5,183 1546.9,184.5 1547.3,185.9 1547.7,187.3 1548.1,188.8 1548.5,190.2 1548.9,191.7 1549.4,193.1 1549.8,194.5 1550.2,196 1550.6,197.4 1551,198.9 1551.4,200.3 1551.8,201.7 1552.2,203.2 1552.7,204.6 1553.2,206 1553.7,207.4 1554.2,208.8 1554.8,210.2 1555.4,211.6 1556.1,212.9 1556.7,214.2 1557.5,215.6 1558.2,216.9" fill="none" stroke="#FF2600" stroke-width="6.5" stroke-linecap="round" stroke-linejoin="round"/>
<path d="M1537.3,164.5 1537.7,166 1538.1,167.5 1538.6,168.9 1539,170.4 1539.5,171.8 1539.9,173.2 1540.4,174.7 1540.9,176.1 1541.4,177.6 1541.8,179 1542.3,180.4 1542.8,181.9 1543.3,183.3 1543.8,184.7 1544.3,186.2 1544.9,187.6 1545.4,189 1545.9,190.4 1546.4,191.8 1547,193.3 1547.5,194.7 1548.1,196.1 1548.6,197.5 1549.2,198.9 1549.7,200.3 1550.3,201.7 1550.9,203.1 1551.4,204.5 1552,205.9 1552.6,207.3 1553.2,208.7 1553.8,210.1 1554.3,211.5 1554.9,212.9" fill="none" stroke="#FF2600" stroke-width="6.5" stroke-linecap="round" stroke-linejoin="round"/>
<path d="M1538.6,220.8 1540.1,220.6 1541.5,220.2 1543,219.8 1544.4,219.4 1545.8,218.8 1547.1,218.2 1548.4,217.4 1549.7,216.6 1550.8,215.6 1551.9,214.6 1553,213.5 1553.9,212.3 1554.8,211.1 1555.5,209.8 1556.3,208.5 1557,207.2 1557.7,205.9 1558.4,204.6 1559.1,203.3 1559.9,201.9 1560.5,200.6 1561.2,199.3 1561.9,197.9 1562.5,196.6 1563.2,195.2 1563.8,193.9 1564.5,192.5 1565.2,191.2 1565.8,189.8 1566.5,188.5 1567.1,187.1 1567.8,185.8 1568.5,184.4 1569.1,183.1 1569.8,181.8 1570.4,180.4 1571.1,179.1 1571.8,177.7 1572.5,176.4 1573.2,175.1 1573.9,173.8 1574.6,172.5 1575.4,171.1 1576.1,169.8 1576.9,168.5 1577.6,167.2 1578.4,166 1579.2,164.7 1580,163.5 1580.9,162.2 1581.7,161 1582.6,159.8 1583.4,158.5 1584.3,157.3 1585.2,156.1 1586.2,155 1587.3,153.9 1588.5,153 1589.8,152.3 1591.2,151.7 1592.6,151.2 1594,150.7 1595.5,150.4 1596.9,150.2 1598.4,150.3 1599.9,150.7 1601.2,151.4 1602.4,152.3 1603.6,153.2 1604.7,154.2 1605.8,155.3 1606.8,156.3 1607.8,157.5 1608.6,158.8 1609.4,160 1610.1,161.3 1610.8,162.7 1611.5,164 1612.2,165.4 1612.8,166.7 1613.5,168 1614.3,169.3 1615,170.7 1615.6,172 1616.3,173.3 1617,174.7 1617.7,176 1618.3,177.4 1619,178.7 1619.6,180.1 1620.3,181.4 1620.9,182.8 1621.6,184.1 1622.3,185.4 1622.9,186.8 1623.6,188.1 1624.2,189.5 1624.9,190.8 1625.5,192.2 1626.2,193.5 1626.9,194.9 1627.5,196.2 1628.2,197.6 1628.9,198.9 1629.7,200.2 1630.4,201.5 1631.1,202.8 1631.9,204.1 1632.6,205.4 1633.4,206.7 1634.2,207.9 1635.1,209.2 1636,210.3 1637,211.5 1638,212.6 1639.1,213.6 1640.2,214.7 1641.3,215.6 1642.5,216.6 1643.7,217.4 1645,218.2 1646.3,219 1647.6,219.6 1649,220.2 1650.4,220.8" fill="none" stroke="#FF2600" stroke-width="6.5" stroke-linecap="round" stroke-linejoin="round"/>
<path d="M1573.2,214.2 1574,213 1574.8,211.7 1575.6,210.4 1576.3,209.1 1577.1,207.8 1577.9,206.5 1578.7,205.2 1579.4,203.9 1580.2,202.6 1581,201.4 1581.7,200.1 1582.5,198.8 1583.2,197.4 1583.9,196.1 1584.7,194.8 1585.4,193.5 1586.2,192.2 1587,190.9 1587.8,189.7 1588.7,188.4 1589.6,187.3 1590.5,186.1 1591.5,184.9 1592.5,183.8 1593.5,182.7 1594.7,181.7 1595.9,180.8 1597.1,180 1598.5,179.3 1599.8,178.7 1601.2,178.2 1602.7,177.8 1604.2,177.6 1605.6,177.9 1607,178.5 1608.3,179.3 1609.5,180.2 1610.7,181.2 1611.8,182.1 1612.9,183.2 1613.9,184.3 1614.8,185.5 1615.6,186.8 1616.4,188 1617.3,189.3 1618.1,190.6 1618.9,191.8 1619.7,193.1 1620.5,194.3 1621.3,195.6 1622.1,196.9 1622.9,198.2 1623.7,199.5 1624.4,200.8 1625.3,202 1626.1,203.3 1626.9,204.5 1627.8,205.8 1628.6,207 1629.5,208.3 1630.4,209.5 1631.3,210.7 1632.2,211.8 1633.2,212.9 1634.3,214 1635.3,215.1 1636.4,216.2 1637.5,217.2 1638.6,218.2" fill="none" stroke="#FF2600" stroke-width="6.5" stroke-linecap="round" stroke-linejoin="round"/>
<path d="M1578.5,214.2 1579.3,213 1580.1,211.7 1580.9,210.4 1581.7,209.2 1582.6,207.9 1583.4,206.7 1584.3,205.4 1585.1,204.2 1586,203 1586.8,201.7 1587.7,200.5 1588.5,199.2 1589.3,197.9 1590.1,196.7 1591,195.5 1591.9,194.3 1592.9,193.2 1594,192.1 1595.2,191.2 1596.4,190.3 1597.6,189.4 1598.9,188.6 1600.2,187.8 1601.6,187.2 1603,186.9 1604.5,186.8 1606,187.2 1607.3,187.9 1608.6,188.7 1609.8,189.7 1610.9,190.6 1612.1,191.6 1613.2,192.7 1614.2,193.8 1615.1,194.9 1616,196.1 1616.9,197.4 1617.7,198.6 1618.5,199.9 1619.4,201.2 1620.2,202.4 1621.1,203.6 1622,204.8 1622.9,206 1623.8,207.2 1624.7,208.4 1625.6,209.7 1626.5,210.9 1627.4,212 1628.4,213.2 1629.4,214.4 1630.4,215.5 1631.4,216.6 1632.4,217.7 1633.4,218.8" fill="none" stroke="#FF2600" stroke-width="6.5" stroke-linecap="round" stroke-linejoin="round"/>
<path d="M1583.7,215.6 1584.5,214.3 1585.4,213 1586.2,211.8 1587.1,210.6 1588,209.4 1589,208.2 1589.9,207 1590.9,205.9 1591.9,204.7 1592.8,203.6 1593.8,202.4 1594.8,201.3 1595.8,200.2 1597,199.2 1598.3,198.5 1599.6,197.8 1601,197.2 1602.5,196.8 1604,196.6 1605.4,196.8 1606.9,197.2 1608.3,197.7 1609.7,198.4 1611,199.1 1612.2,199.9 1613.4,200.9 1614.4,202 1615.4,203.1 1616.3,204.3 1617.2,205.5 1618.2,206.7 1619.1,207.9 1620.1,209 1621,210.2 1622,211.4 1622.9,212.6 1623.8,213.8 1624.9,214.9 1625.9,215.9 1627.1,216.9 1628.3,217.8 1629.5,218.7 1630.8,219.5" fill="none" stroke="#FF2600" stroke-width="6.5" stroke-linecap="round" stroke-linejoin="round"/>
<path d="M1616.4,178.9 1617.1,180.3 1617.9,181.6 1618.6,182.9 1619.3,184.3 1620.1,185.6 1620.8,186.9 1621.5,188.3 1622.3,189.6 1623,190.9 1623.7,192.3 1624.5,193.6 1625.2,195 1625.9,196.3 1626.6,197.7 1627.3,199 1628,200.3 1628.8,201.7 1629.5,203 1630.3,204.3 1631.1,205.6 1631.9,206.9 1632.8,208.1 1633.7,209.4 1634.6,210.6 1635.5,211.8 1636.4,213 1637.3,214.2" fill="none" stroke="#FF2600" stroke-width="6.5" stroke-linecap="round" stroke-linejoin="round"/>
<path d="M1615.1,186.8 1615.9,188 1616.8,189.3 1617.6,190.6 1618.5,191.8 1619.3,193.1 1620.2,194.4 1621,195.6 1621.8,196.9 1622.7,198.2 1623.5,199.4 1624.3,200.7 1625.2,202 1626,203.3 1626.8,204.6 1627.6,205.9 1628.5,207.1 1629.3,208.4 1630.2,209.6 1631.2,210.8 1632.1,212 1633.1,213.1 1634.1,214.3 1635.2,215.4 1636.2,216.4 1637.3,217.5" fill="none" stroke="#FF2600" stroke-width="6.5" stroke-linecap="round" stroke-linejoin="round"/>
<path d="M1558.9,220.8 1560.3,220.8 1561.8,220.8 1563.3,220.8 1564.8,220.8 1566.3,220.8 1567.8,220.8 1569.3,220.8 1570.8,220.8 1572.3,220.8 1573.8,220.8 1575.3,220.8 1576.8,220.7 1578.2,220.6 1579.7,220.5 1581.2,220.3 1582.7,220.2 1584.2,220 1585.7,219.8 1587.1,219.5 1588.6,219.3 1590.1,219.1 1591.6,218.8" fill="none" stroke="#FF2600" stroke-width="6.5" stroke-linecap="round" stroke-linejoin="round"/>
<path d="M1615.1,220.8 1616.6,220.7 1618.1,220.6 1619.6,220.5 1621.1,220.3 1622.5,220 1624,219.8 1625.5,219.5 1626.9,219.2 1628.4,218.8 1629.8,218.3 1631.2,217.7 1632.6,217.2 1633.9,216.5 1635.3,215.9 1636.6,215.2 1637.9,214.5 1639.2,213.7 1640.4,212.8 1641.7,212 1642.9,211.1 1644.1,210.2 1645.2,209.3 1646.4,208.3 1647.5,207.3 1648.7,206.3 1649.8,205.4 1650.9,204.4 1652.1,203.5 1653.3,202.5 1654.4,201.6 1655.6,200.6 1656.8,199.7 1658,198.8 1659.3,198.1 1660.6,197.3 1661.9,196.7 1663.3,196 1664.7,195.4 1666.1,195 1667.5,194.6 1669,194.3 1670.5,194.1 1672,194 1673.5,194 1675,194.1 1676.4,194.4 1677.9,194.7 1679.4,195 1680.8,195.4 1682.2,195.9 1683.6,196.5 1684.9,197.2 1686.2,197.9 1687.5,198.7 1688.8,199.5 1690,200.3 1691.2,201.2 1692.4,202.1 1693.6,203.1 1694.8,204 1695.9,204.9 1697.1,205.8 1698.3,206.7 1699.5,207.7 1700.7,208.6 1701.9,209.5 1703.1,210.3 1704.3,211.2 1705.6,212 1706.8,212.8 1708.1,213.6 1709.4,214.3 1710.7,215 1712.1,215.7 1713.5,216.2 1714.9,216.7 1716.3,217.2 1717.7,217.7 1719.2,218 1720.7,218.4 1722.1,218.7 1723.6,219 1725.1,219.3 1726.5,219.4 1728,219.5 1729.5,219.5 1731,219.5 1732.5,219.4 1734,219.4 1735.5,219.3 1737,219.2 1738.5,219 1740,218.8" fill="none" stroke="#FF2600" stroke-width="6.5" stroke-linecap="round" stroke-linejoin="round"/>
<path d="M1654.3,216.2 1655.6,215.4 1656.9,214.6 1658.1,213.8 1659.4,213.1 1660.8,212.4 1662.1,211.7 1663.4,211 1664.8,210.3 1666.1,209.7 1667.4,209 1668.8,208.4 1670.2,207.8 1671.6,207.3 1673.1,207 1674.5,206.6 1676,206.3 1677.4,206 1678.9,205.8 1680.4,205.7 1681.9,205.8 1683.4,206 1684.9,206.2 1686.3,206.5 1687.8,206.9 1689.3,207.2 1690.7,207.6 1692.1,208.2 1693.4,208.8 1694.8,209.5 1696.1,210.2 1697.4,210.9 1698.7,211.6 1700.1,212.2 1701.5,212.9 1702.8,213.5 1704.2,214.1 1705.5,214.7 1706.9,215.3 1708.3,215.9 1709.7,216.4 1711.1,216.9 1712.5,217.4 1714,217.8 1715.4,218.3 1716.8,218.7 1718.3,219.1 1719.7,219.5" fill="none" stroke="#FF2600" stroke-width="6.5" stroke-linecap="round" stroke-linejoin="round"/>
<path d="M1656.9,219.5 1658.3,218.8 1659.7,218.2 1661.1,217.6 1662.5,217 1663.9,216.4 1665.3,215.9 1666.7,215.4 1668.1,214.9 1669.6,214.4 1671,213.9 1672.4,213.5 1673.9,213 1675.3,212.5 1676.8,212.1 1678.3,211.8 1679.8,211.7 1681.3,211.7 1682.8,211.8 1684.3,212.1 1685.7,212.5 1687.2,213 1688.6,213.5 1690,214 1691.5,214.4 1692.9,214.9 1694.3,215.4 1695.8,215.9 1697.2,216.4 1698.6,217 1700,217.6 1701.3,218.2 1702.7,218.8" fill="none" stroke="#FF2600" stroke-width="6.5" stroke-linecap="round" stroke-linejoin="round"/>
<path d="M1693.6,205.1 1694.7,206.1 1695.8,207.2 1697,208.1 1698.2,209.1 1699.4,210 1700.7,210.9 1702,211.7 1703.3,212.5 1704.6,213.3 1706,214 1707.4,214.7 1708.8,215.3 1710.2,215.9 1711.6,216.5 1713,217 1714.5,217.5" fill="none" stroke="#FF2600" stroke-width="6.5" stroke-linecap="round" stroke-linejoin="round"/>
<path d="M1615.1,220.8 1616.6,220.8 1618.1,220.8 1619.6,220.8 1621.1,220.8 1622.6,220.8 1624.1,220.8 1625.6,220.8 1627.1,220.8 1628.6,220.8 1630.1,220.8 1631.6,220.8 1633.2,220.8 1634.7,220.8 1636.2,220.8 1637.7,220.8 1639.2,220.8 1640.7,220.8 1642.2,220.8 1643.7,220.8 1645.2,220.8 1646.7,220.8 1648.2,220.8 1649.7,220.8 1651.2,220.8 1652.7,220.8 1654.2,220.8 1655.7,220.8 1657.2,220.8 1658.7,220.8 1660.2,220.8 1661.7,220.8 1663.2,220.8 1664.8,220.8 1666.3,220.8 1667.8,220.8 1669.3,220.8 1670.8,220.8 1672.3,220.8 1673.8,220.8 1675.3,220.8 1676.8,220.8 1678.3,220.8 1679.8,220.8 1681.3,220.8 1682.8,220.8 1684.3,220.8 1685.8,220.8 1687.3,220.8 1688.8,220.8 1690.3,220.8 1691.8,220.8 1693.3,220.8 1694.8,220.8 1696.4,220.8 1697.9,220.8 1699.4,220.8 1700.9,220.8 1702.4,220.8 1703.9,220.8 1705.4,220.8 1706.9,220.8 1708.4,220.8 1709.9,220.8 1711.4,220.8 1712.9,220.8 1714.4,220.8 1715.9,220.8 1717.4,220.8 1718.9,220.8 1720.4,220.8 1721.9,220.8 1723.4,220.8 1724.9,220.8 1726.5,220.8 1728,220.8 1729.5,220.8 1731,220.8 1732.5,220.8 1734,220.8 1735.5,220.8 1737,220.8 1738.5,220.8 1740,220.8" fill="none" stroke="#FF2600" stroke-width="6.0" stroke-linecap="round" stroke-linejoin="round"/>
<path d="M1718.6,217.1 1720.1,217 1721.6,216.9 1723.1,216.8 1724.6,216.7 1726.2,216.6 1727.7,216.5 1729.2,216.5 1730.7,216.4 1732.2,216.4 1733.7,216.3 1735.2,216.3 1736.7,216.3 1738.2,216.2 1739.7,216.2 1741.2,216.2 1742.7,216.2 1744.3,216.2 1745.8,216.2 1747.3,216.2 1748.8,216.3 1750.3,216.4 1751.8,216.5 1753.3,216.6 1754.8,216.7 1756.3,216.8 1757.8,217 1759.3,217.1 1760.8,217.3 1762.3,217.4 1763.8,217.6 1765.3,217.7 1766.8,217.8 1768.3,218 1769.8,218.1 1771.3,218.2 1772.8,218.3 1774.3,218.4 1775.8,218.5 1777.3,218.6 1778.9,218.7 1780.4,218.8 1781.9,218.9 1783.4,219 1784.9,219.1 1786.4,219.2 1787.9,219.3 1789.4,219.4 1790.9,219.5 1792.4,219.5 1793.9,219.6 1795.4,219.7 1796.9,219.7 1798.4,219.8 1799.9,219.8 1801.4,219.9 1803,220 1804.5,220 1806,220.1 1807.5,220.1 1809,220.2 1810.5,220.2 1812,220.3 1813.5,220.3 1815,220.4 1816.5,220.4 1818,220.4 1819.5,220.5 1821.1,220.5 1822.6,220.6 1824.1,220.6 1825.6,220.6 1827.1,220.7 1828.6,220.7 1830.1,220.7 1831.6,220.7 1833.1,220.7 1834.6,220.8 1836.1,220.8 1837.6,220.8" fill="none" stroke="#FF2600" stroke-width="6.5" stroke-linecap="round" stroke-linejoin="round"/>
<path d="M1614,220.8 1615.5,220.8 1617,220.8 1618.5,220.8 1620,220.8 1621.5,220.8 1623,220.8 1624.5,220.8 1626,220.8 1627.5,220.8 1629,220.8 1630.5,220.8 1632,220.8 1633.5,220.8 1635,220.8 1636.5,220.8 1638,220.8 1639.5,220.8 1641,220.8 1642.5,220.8 1644,220.8 1645.5,220.8 1647,220.8 1648.5,220.8 1650,220.8 1651.5,220.8 1653,220.8 1654.5,220.8 1656,220.8 1657.5,220.8 1659,220.8 1660.5,220.8 1662,220.8 1663.5,220.8 1665,220.8 1666.5,220.8 1668,220.8 1669.5,220.8 1671,220.8 1672.5,220.8 1674,220.8 1675.5,220.8 1677,220.8 1678.5,220.8 1680,220.8 1681.5,220.8 1683,220.8 1684.5,220.8 1686,220.8 1687.5,220.8 1689,220.8 1690.6,220.8 1692.1,220.8 1693.6,220.8 1695.1,220.8 1696.6,220.8 1698.1,220.8 1699.6,220.8 1701.1,220.8 1702.6,220.8 1704.1,220.8 1705.6,220.8 1707.1,220.8 1708.6,220.8 1710.1,220.8 1711.6,220.8 1713.1,220.8 1714.6,220.8 1716.1,220.8 1717.6,220.8 1719.1,220.8 1720.6,220.8 1722.1,220.8 1723.6,220.8 1725.1,220.8 1726.6,220.8 1728.1,220.8 1729.6,220.8 1731.1,220.8 1732.6,220.8 1734.1,220.8 1735.6,220.8 1737.1,220.8 1738.6,220.8 1740.1,220.8 1741.6,220.8 1743.1,220.8 1744.6,220.8 1746.1,220.8 1747.6,220.8 1749.1,220.8 1750.6,220.8 1752.1,220.8 1753.6,220.8 1755.1,220.8 1756.6,220.8 1758.1,220.8 1759.6,220.8 1761.1,220.8 1762.6,220.8 1764.1,220.8 1765.6,220.8 1767.1,220.8 1768.6,220.8 1770.1,220.8 1771.6,220.8 1773.1,220.8 1774.6,220.8 1776.1,220.8 1777.6,220.8 1779.1,220.8 1780.6,220.8 1782.1,220.8 1783.6,220.8 1785.1,220.8 1786.6,220.8 1788.1,220.8 1789.6,220.8 1791.1,220.8 1792.6,220.8 1794.1,220.8 1795.6,220.8 1797.1,220.8 1798.6,220.8 1800.1,220.8 1801.6,220.8 1803.1,220.8 1804.6,220.8 1806.1,220.8 1807.6,220.8 1809.1,220.8 1810.6,220.8 1812.1,220.8 1813.6,220.8 1815.1,220.8 1816.6,220.8 1818.1,220.8 1819.6,220.8 1821.1,220.8 1822.6,220.8 1824.1,220.8 1825.6,220.8 1827.1,220.8 1828.6,220.8 1830.1,220.8 1831.6,220.8 1833.1,220.8 1834.6,220.8 1836.1,220.8 1837.6,220.8" fill="none" stroke="#FF2600" stroke-width="6.4" stroke-linecap="round" stroke-linejoin="round"/>
</g>
<g clip-path="url(#cr1)">
<path d="M1065.2,657.3 1066.7,657.3 1068.2,657.4 1069.7,657.4 1071.2,657.4 1072.7,657.4 1074.2,657.5 1075.6,657.5 1077.1,657.5 1078.6,657.6 1080.1,657.6 1081.6,657.8 1083.1,658 1084.6,658.2 1086.1,658.5 1087.5,658.8 1089,659.1 1090.4,659.5 1091.9,659.8 1093.3,660.2 1094.8,660.6 1096.2,661 1097.6,661.5 1099,662 1100.5,662.5 1101.9,662.9 1103.3,663.3 1104.7,663.8 1106.2,664.3 1107.6,664.7 1109,665.1 1110.5,665.4 1112,665.5 1113.5,665.6 1115,665.6 1116.5,665.6 1118,665.7 1119.5,665.7 1121,665.7 1122.5,665.8 1123.9,665.8 1125.4,665.8 1126.9,665.8 1128.4,665.8 1129.9,665.9 1131.4,665.9 1132.9,665.9 1134.4,665.9 1135.9,665.9 1137.4,665.9" fill="none" stroke="#00F900" stroke-width="5.8" stroke-linecap="round" stroke-linejoin="round"/>
<path d="M1065.2,661.2 1066.7,661.2 1068.2,661.2 1069.7,661.3 1071.2,661.3 1072.7,661.3 1074.3,661.3 1075.8,661.4 1077.3,661.4 1078.8,661.5 1080.3,661.5 1081.8,661.6 1083.3,661.8 1084.8,662 1086.3,662.2 1087.8,662.4 1089.3,662.7 1090.8,662.9 1092.3,663.2 1093.8,663.4 1095.3,663.7 1096.8,664 1098.3,664.2 1099.8,664.5 1101.2,664.8 1102.7,665 1104.2,665.2 1105.7,665.3 1107.3,665.5 1108.8,665.7 1110.3,665.8 1111.8,665.9" fill="none" stroke="#00F900" stroke-width="5.8" stroke-linecap="round" stroke-linejoin="round"/>
<path d="M1065.2,664.6 1066.7,664.6 1068.2,664.7 1069.7,664.7 1071.2,664.8 1072.7,664.8 1074.2,664.9 1075.7,664.9 1077.2,665 1078.7,665 1080.2,665.1 1081.7,665.1 1083.2,665.2 1084.7,665.2 1086.2,665.2 1087.7,665.3 1089.2,665.3 1090.8,665.4 1092.3,665.4 1093.8,665.4 1095.3,665.4 1096.8,665.5 1098.3,665.5 1099.8,665.5 1101.3,665.5 1102.8,665.6 1104.3,665.6 1105.8,665.6 1107.3,665.6 1108.8,665.6 1110.3,665.7 1111.8,665.7 1113.3,665.7 1114.8,665.7 1116.3,665.7 1117.8,665.8 1119.3,665.8 1120.9,665.8 1122.4,665.8 1123.9,665.8 1125.4,665.8 1126.9,665.8 1128.4,665.9 1129.9,665.9 1131.4,665.9 1132.9,665.9 1134.4,665.9 1135.9,665.9 1137.4,665.9" fill="none" stroke="#00F900" stroke-width="5.8" stroke-linecap="round" stroke-linejoin="round"/>
<circle cx="1137.4" cy="665.9" r="2.4" fill="#fff" stroke="#00F900" stroke-width="1.05"/>
<path d="M1151.9,666.1 1153.4,666.1 1154.9,666.1 1156.4,666.1 1157.9,666.1 1159.4,666 1160.9,666 1162.4,665.9 1163.9,665.9 1165.4,665.9 1166.9,665.8 1168.4,665.8 1169.9,665.7 1171.5,665.7 1173,665.6 1174.5,665.6 1176,665.5 1177.5,665.5 1179,665.4 1180.5,665.3 1182,665.3 1183.5,665.2 1185,665.1 1186.5,665 1188,665 1189.5,664.9 1191,664.8 1192.5,664.7 1194,664.6" fill="none" stroke="#FF2600" stroke-width="5.9" stroke-linecap="round" stroke-linejoin="round"/>
<path d="M1162.9,666.1 1163.8,664.9 1164.7,663.8 1165.6,662.6 1166.7,661.6 1167.7,660.5 1168.9,659.6 1170,658.6 1171.2,657.7 1172.5,657 1173.9,656.5 1175.3,656.2 1176.8,655.9 1178.3,655.8 1179.7,655.8 1181.2,656.1 1182.6,656.5 1184,657 1185.4,657.5 1186.8,658.2 1188.1,658.9 1189.4,659.6 1190.7,660.3 1192,661 1193.3,661.6 1194.7,662.2 1196,662.8 1197.4,663.4 1198.8,663.9 1200.2,664.3 1201.7,664.6 1203.1,664.9 1204.6,665.2 1206.1,665.4 1207.5,665.5 1209,665.6 1210.5,665.7 1212,665.8 1213.5,665.9 1215,665.9" fill="none" stroke="#00F900" stroke-width="5.8" stroke-linecap="round" stroke-linejoin="round"/>
<circle cx="1215" cy="665.9" r="2.4" fill="#fff" stroke="#00F900" stroke-width="1.05"/>
<path d="M1162.9,666.1 1163.5,664.8 1164.1,663.4 1164.7,662 1165.3,660.7 1165.9,659.3 1166.5,657.9 1167.1,656.6 1167.7,655.2 1168.3,653.8 1168.9,652.5 1169.5,651.1 1170.1,649.7 1170.7,648.3 1171.3,647 1171.9,645.6 1172.6,644.3 1173.2,642.9 1173.9,641.6 1174.6,640.3 1175.3,639 1176,637.6 1176.8,636.3 1177.5,635.1 1178.3,633.8 1179.1,632.5 1179.9,631.3 1180.7,630 1181.5,628.7 1182.4,627.5 1183.2,626.3 1184.1,625.1 1185.1,624 1186.1,622.9 1187.2,621.8 1188.3,620.8 1189.5,619.9 1190.7,619 1191.9,618.2 1193.2,617.5 1194.6,617 1196.1,616.5 1197.5,616.1 1199,615.8 1200.4,615.5 1201.9,615.4 1203.4,615.4 1204.9,615.4 1206.4,615.4 1207.9,615.4 1209.4,615.4 1210.9,615.4 1212.4,615.4 1213.9,615.4 1215.4,615.4 1216.9,615.4 1218.4,615.4 1219.9,615.4 1221.4,615.4 1222.8,615.4 1224.3,615.4 1225.8,615.4 1227.3,615.4 1228.8,615.4 1230.3,615.3 1231.8,615.2 1233.3,615.1 1234.8,614.9 1236.3,614.7 1237.7,614.6 1239.2,614.4 1240.7,614.4 1242.2,614.4 1243.7,614.6 1245.2,614.9 1246.6,615.3 1248,615.8 1249.4,616.5 1250.6,617.3 1251.7,618.3 1252.8,619.3 1253.8,620.4 1254.8,621.6 1255.7,622.7 1256.5,624 1257.3,625.3 1258,626.6 1258.8,627.9 1259.5,629.2 1260.2,630.5 1261,631.8 1261.7,633.1 1262.5,634.4 1263.2,635.7 1263.9,637 1264.6,638.3 1265.3,639.6 1266.1,640.9 1266.8,642.2 1267.5,643.5 1268.2,644.8 1268.9,646.2 1269.6,647.5 1270.3,648.8 1271,650.1 1271.7,651.4 1272.5,652.7 1273.3,654 1274.1,655.2 1274.9,656.5 1275.8,657.7 1276.7,658.9 1277.7,660 1278.7,661.1 1279.8,662.1 1281,663 1282.3,663.8 1283.6,664.5 1285,665.1 1286.4,665.5 1287.9,665.6 1289.4,665.8 1290.9,665.9 1292.4,665.9" fill="none" stroke="#00F900" stroke-width="5.8" stroke-linecap="round" stroke-linejoin="round"/>
<circle cx="1292.4" cy="665.9" r="2.4" fill="#fff" stroke="#00F900" stroke-width="1.05"/>
<path d="M1229.6,665.9 1231.1,665.9 1232.6,665.9 1234.1,665.8 1235.6,665.8 1237.1,665.7 1238.6,665.6 1240.1,665.6 1241.6,665.5 1243.1,665.4 1244.6,665.2 1246.1,665 1247.5,664.8 1249,664.5 1250.5,664.3 1252,664 1253.5,663.7 1254.9,663.4 1256.4,663.1 1257.8,662.7 1259.3,662.2 1260.7,661.8 1262.1,661.3 1263.6,660.8 1265,660.4 1266.4,659.9 1267.8,659.4 1269.3,659 1270.7,658.5 1272.1,658 1273.5,657.5 1275,657.1 1276.4,656.7 1277.9,656.4 1279.3,656.1 1280.8,655.8 1282.3,655.5 1283.8,655.3 1285.3,655.2 1286.8,655.1 1288.3,655.2 1289.8,655.3 1291.3,655.5 1292.8,655.8 1294.2,656.1 1295.6,656.6 1297,657.2 1298.4,657.9 1299.7,658.5 1301,659.2 1302.4,659.9 1303.7,660.6 1304.9,661.5 1306.1,662.4 1307,663.6 1307.8,664.9" fill="none" stroke="#FF2600" stroke-width="5.9" stroke-linecap="round" stroke-linejoin="round"/>
<path d="M1306.5,665.9 1308,665.8 1309.5,665.7 1311,665.5 1312.5,665.3 1313.9,665.1 1315.4,664.8 1316.9,664.6 1318.3,664.3 1319.8,664 1321.3,663.6 1322.7,663.2 1324.1,662.8 1325.5,662.3 1326.9,661.8 1328.3,661.2 1329.7,660.6 1331,660 1332.4,659.4 1333.7,658.7 1335,658 1336.3,657.2 1337.5,656.3 1338.7,655.5 1339.9,654.6 1341.1,653.7 1342.3,652.8 1343.4,651.8 1344.5,650.8 1345.6,649.8 1346.7,648.7 1347.7,647.6 1348.6,646.5 1349.6,645.3 1350.5,644.2 1351.4,643 1352.3,641.8 1353.2,640.6 1354.1,639.4 1355,638.2 1355.9,637.1 1356.9,635.9 1357.9,634.8 1358.9,633.7 1359.9,632.6 1360.9,631.5 1361.9,630.4 1362.9,629.3 1363.9,628.2 1364.9,627.1 1366,626 1367.1,625 1368.2,624 1369.3,623.1 1370.5,622.2 1371.7,621.3 1373,620.5 1374.2,619.6 1375.4,618.8 1376.7,618 1378.1,617.4 1379.5,616.9 1380.9,616.6 1382.4,616.4 1383.9,616.3 1385.4,616.1 1386.9,616.1 1388.3,616 1389.8,615.9 1391.3,615.9" fill="none" stroke="#FF2600" stroke-width="5.9" stroke-linecap="round" stroke-linejoin="round"/>
<path d="M1309.8,666.4 1311.3,666.4 1312.8,666.3 1314.3,666.2 1315.8,666 1317.3,665.9 1318.8,665.7 1320.2,665.5 1321.7,665.3 1323.2,665.1 1324.7,664.8 1326.2,664.5 1327.6,664.2 1329.1,663.8 1330.5,663.4 1331.9,662.9 1333.4,662.4 1334.7,661.8 1336.1,661.2 1337.4,660.5 1338.7,659.7 1339.9,658.8 1341.1,657.9 1342.3,657 1343.5,656 1344.6,655.1 1345.7,654.1 1346.9,653.1 1347.9,652 1349,650.9 1350,649.8 1350.9,648.7 1351.9,647.5 1352.8,646.3 1353.7,645.2 1354.7,644 1355.6,642.8 1356.5,641.6 1357.5,640.5 1358.5,639.3 1359.4,638.2 1360.4,637 1361.3,635.8 1362.2,634.6 1363.2,633.5 1364.1,632.3 1365.1,631.1 1366.1,630 1367.1,628.9 1368.1,627.8 1369.2,626.8 1370.2,625.7 1371.3,624.6 1372.4,623.6 1373.5,622.6 1374.7,621.6 1375.9,620.8 1377.2,620 1378.6,619.5 1380,618.9 1381.4,618.4 1382.8,618 1384.3,617.6 1385.8,617.3 1387.2,617.1 1388.7,617" fill="none" stroke="#FF2600" stroke-width="5.9" stroke-linecap="round" stroke-linejoin="round"/>
<path d="M1338.9,666.1 1339,664.7 1339.1,663.2 1339.2,661.7 1339.4,660.2 1339.5,658.7 1339.7,657.2 1339.8,655.7 1340,654.3 1340.1,652.8 1340.3,651.3 1340.5,649.8 1340.8,648.3 1341,646.9 1341.2,645.4 1341.5,643.9 1341.8,642.5 1342.2,641 1342.6,639.6 1343.2,638.2 1343.9,636.9 1344.9,635.8 1346.2,635.1 1347.2,636.1 1347.9,637.4 1348.6,638.7 1349.2,640.1 1349.8,641.4 1350.5,642.8 1351,644.2 1351.6,645.6 1352.2,646.9 1352.7,648.3 1353.3,649.7 1354,651 1354.7,652.4 1355.3,653.7 1356,655 1356.7,656.3 1357.5,657.6 1358.3,658.9 1359.3,660 1360.2,661.1 1361.3,662.2 1362.5,663.1 1363.7,664 1365,664.6 1366.4,665.2 1367.9,665.6 1369.3,665.9" fill="none" stroke="#00F900" stroke-width="5.8" stroke-linecap="round" stroke-linejoin="round"/>
<circle cx="1369.3" cy="665.9" r="2.4" fill="#fff" stroke="#00F900" stroke-width="1.05"/>
<polyline points="1374.4,426 1374.2,426.1 1374.1,426.1 1373.9,426.2 1373.7,426.4 1373.5,426.5 1373.3,426.7 1373.1,426.9 1372.9,427.2 1372.7,427.4 1372.5,427.7 1372.3,428 1372.2,428.3 1372,428.6 1371.8,428.9 1371.6,429.2 1371.4,429.6 1371.2,429.9 1371,430.3 1370.8,430.7 1370.6,431 1370.4,431.5 1370.3,431.9 1370.1,432.5 1369.9,433.1 1369.7,433.7 1369.5,434.4 1369.3,435.1 1369.1,435.9 1368.9,436.7 1368.7,437.5 1368.5,438.4 1368.4,439.3 1368.2,440.2 1368,441.1 1367.8,442 1367.6,443 1367.4,443.9 1367.2,444.9 1367,445.8 1366.8,446.8 1366.6,447.9 1366.5,449 1366.3,450.2 1366.1,451.4 1365.9,452.6 1365.7,453.9 1365.5,455.2 1365.3,456.5 1365.1,457.8 1364.9,459.2 1364.7,460.5 1364.6,461.9 1364.4,463.3 1364.2,464.7 1364,466.2 1363.8,467.7 1363.6,469.2 1363.4,470.8 1363.2,472.3 1363,474 1362.8,475.6 1362.7,477.3 1362.5,478.9 1362.3,480.6 1362.1,482.3 1361.9,484.1 1361.7,485.8 1361.5,487.5 1361.3,489.3 1361.1,491.1 1360.9,492.9 1360.8,494.8 1360.6,496.6 1360.4,498.5 1360.2,500.4 1360,502.4 1359.8,504.3 1359.6,506.2 1359.4,508.2 1359.2,510.1 1359,512.1 1358.9,514.1 1358.7,516.1 1358.5,518.1 1358.3,520.2 1358.1,522.3 1357.9,524.5 1357.7,526.6 1357.5,528.8 1357.3,530.9 1357.1,533 1357,535.1 1356.8,537.1 1356.6,539.1 1356.4,540.9 1356.2,542.7 1356,544.4 1355.8,546.1 1355.6,547.7 1355.4,549.3 1355.2,550.9 1355.1,552.4 1354.9,553.9 1354.7,555.3 1354.5,556.7 1354.3,558 1354.1,559.3 1353.9,560.6 1353.7,561.8 1353.5,562.9 1353.3,564.1 1353.2,565.2 1353,566.2 1352.8,567.2 1352.6,568.3 1352.4,569.3 1352.2,570.3 1352,571.2 1351.8,572.2 1351.6,573.2 1351.4,574.2 1351.3,575.2 1351.1,576.3 1350.9,577.3 1350.7,578.3 1350.5,579.3 1350.3,580.3 1350.1,581.2 1349.9,582.2 1349.7,583.2 1349.5,584.2 1349.4,585.2 1349.2,586.2 1349,587.2 1348.8,588.2 1348.6,589.2 1348.4,590.2 1348.2,591.2 1348,592.3 1347.8,593.3 1347.6,594.4 1347.5,595.5 1347.3,596.5 1347.1,597.6 1346.9,598.6 1346.7,599.7 1346.5,600.8 1346.3,601.9 1346.1,603 1345.9,604.1 1345.7,605.3 1345.6,606.4 1345.4,607.6 1345.2,608.8 1345,610 1344.8,611.2 1344.6,612.5 1344.4,613.7 1344.2,615 1344,616.3 1343.8,617.7 1343.7,619 1343.5,620.4 1343.3,621.8 1343.1,623.2 1342.9,624.7 1342.7,626.2 1342.5,627.7 1342.3,629.3 1342.1,630.9 1341.9,632.6 1341.8,634.4 1341.6,636.2 1341.4,638.1 1341.2,640 1341,642 1340.8,644 1340.6,646.1 1340.4,648.2 1340.2,650.3 1340,652.4 1339.9,654.6 1339.7,656.8 1339.5,659.1 1339.3,661.4 1339.1,663.7 1338.9,666.1" fill="none" stroke="none" marker-start="url(#mk2)" marker-mid="url(#mk2)" marker-end="url(#mk2)"/>
<polyline points="1374.6,426 1374.8,426 1374.9,426.1 1375.1,426.2 1375.3,426.3 1375.5,426.4 1375.6,426.6 1375.8,426.8 1376,427.1 1376.1,427.3 1376.3,427.6 1376.5,427.9 1376.6,428.2 1376.8,428.6 1377,428.9 1377.2,429.3 1377.3,429.7 1377.5,430.1 1377.7,430.5 1377.8,430.9 1378,431.3 1378.2,431.7 1378.3,432.2 1378.5,432.6 1378.7,433.1 1378.9,433.6 1379,434.3 1379.2,434.9 1379.4,435.6 1379.5,436.4 1379.7,437.2 1379.9,438 1380,438.8 1380.2,439.7 1380.4,440.6 1380.6,441.5 1380.7,442.4 1380.9,443.3 1381.1,444.2 1381.2,445.1 1381.4,446 1381.6,446.9 1381.7,447.9 1381.9,448.9 1382.1,449.9 1382.3,451 1382.4,452 1382.6,453.1 1382.8,454.2 1382.9,455.3 1383.1,456.4 1383.3,457.5 1383.4,458.6 1383.6,459.7 1383.8,460.8 1384,461.9 1384.1,463 1384.3,464.1 1384.5,465.2 1384.6,466.3 1384.8,467.4 1385,468.6 1385.1,469.7 1385.3,470.8 1385.5,471.9 1385.7,473 1385.8,474.2 1386,475.3 1386.2,476.4 1386.3,477.5 1386.5,478.5 1386.7,479.6 1386.8,480.7 1387,481.7 1387.2,482.8 1387.4,483.8 1387.5,484.8 1387.7,485.8 1387.9,486.9 1388,487.9 1388.2,488.9 1388.4,489.9 1388.5,490.9 1388.7,491.9 1388.9,492.9 1389.1,493.9 1389.2,494.9 1389.4,495.9 1389.6,496.9 1389.7,497.9 1389.9,498.9 1390.1,499.9 1390.2,500.9 1390.4,502 1390.6,503 1390.8,504 1390.9,505.1 1391.1,506.1 1391.3,507.1 1391.4,508.2 1391.6,509.2 1391.8,510.3 1391.9,511.3 1392.1,512.3 1392.3,513.4 1392.5,514.4 1392.6,515.4 1392.8,516.4 1393,517.4 1393.1,518.4 1393.3,519.4 1393.5,520.3 1393.6,521.3 1393.8,522.2 1394,523.1 1394.2,524 1394.3,524.9 1394.5,525.9 1394.7,526.8 1394.8,527.6 1395,528.5 1395.2,529.4 1395.3,530.3 1395.5,531.2 1395.7,532 1395.9,532.9 1396,533.7 1396.2,534.6 1396.4,535.4 1396.5,536.2 1396.7,537 1396.9,537.9 1397,538.7 1397.2,539.5 1397.4,540.2 1397.6,541 1397.7,541.8 1397.9,542.6 1398.1,543.3 1398.2,544.1 1398.4,544.8 1398.6,545.6 1398.7,546.3 1398.9,547.1 1399.1,547.8 1399.3,548.5 1399.4,549.3 1399.6,550 1399.8,550.7 1399.9,551.4 1400.1,552.1 1400.3,552.8 1400.4,553.5 1400.6,554.2 1400.8,554.8 1401,555.5 1401.1,556.1 1401.3,556.8 1401.5,557.4 1401.6,558 1401.8,558.6 1402,559.2 1402.1,559.8 1402.3,560.3 1402.5,560.9 1402.7,561.4 1402.8,561.9 1403,562.5 1403.2,563 1403.3,563.5 1403.5,564 1403.7,564.5 1403.8,564.9 1404,565.4 1404.2,565.9 1404.4,566.3 1404.5,566.8 1404.7,567.2 1404.9,567.7 1405,568.1 1405.2,568.6 1405.4,569 1405.5,569.4 1405.7,569.9 1405.9,570.3 1406.1,570.7 1406.2,571.2 1406.4,571.6 1406.6,572 1406.7,572.5 1406.9,572.9 1407.1,573.3 1407.2,573.8 1407.4,574.2 1407.6,574.6 1407.8,575 1407.9,575.5 1408.1,575.9 1408.3,576.3 1408.4,576.7 1408.6,577.1 1408.8,577.5 1408.9,577.9 1409.1,578.3 1409.3,578.7 1409.5,579.1 1409.6,579.5 1409.8,579.9 1410,580.3 1410.1,580.7 1410.3,581.1 1410.5,581.5 1410.6,581.9 1410.8,582.3 1411,582.7 1411.2,583.1 1411.3,583.5 1411.5,583.9 1411.7,584.3 1411.8,584.7 1412,585.2 1412.2,585.6 1412.3,586 1412.5,586.4 1412.7,586.9 1412.9,587.3 1413,587.8 1413.2,588.2 1413.4,588.7 1413.5,589.1 1413.7,589.6 1413.9,590.1 1414,590.5 1414.2,591 1414.4,591.5 1414.6,592 1414.7,592.5 1414.9,592.9 1415.1,593.4 1415.2,593.9 1415.4,594.4 1415.6,594.9 1415.7,595.4 1415.9,595.9 1416.1,596.5 1416.3,597 1416.4,597.5 1416.6,598 1416.8,598.5 1416.9,599 1417.1,599.6 1417.3,600.1 1417.4,600.6 1417.6,601.2 1417.8,601.7 1418,602.2 1418.1,602.8 1418.3,603.3 1418.5,603.9 1418.6,604.4 1418.8,605 1419,605.5 1419.1,606.1 1419.3,606.7 1419.5,607.2 1419.7,607.8 1419.8,608.4 1420,609 1420.2,609.6 1420.3,610.2 1420.5,610.8 1420.7,611.3 1420.8,611.9 1421,612.5 1421.2,613.2 1421.4,613.8 1421.5,614.4 1421.7,615 1421.9,615.6 1422,616.2 1422.2,616.8 1422.4,617.4 1422.5,618 1422.7,618.6 1422.9,619.2 1423.1,619.8 1423.2,620.4 1423.4,621 1423.6,621.6 1423.7,622.2 1423.9,622.8 1424.1,623.4 1424.2,624 1424.4,624.6 1424.6,625.2 1424.8,625.9 1424.9,626.5 1425.1,627.1 1425.3,627.7 1425.4,628.4 1425.6,629 1425.8,629.6 1425.9,630.2 1426.1,630.9 1426.3,631.5 1426.5,632.1 1426.6,632.7 1426.8,633.3 1427,633.9 1427.1,634.5 1427.3,635.1 1427.5,635.7 1427.6,636.3 1427.8,636.9 1428,637.4 1428.2,638 1428.3,638.5 1428.5,639.1 1428.7,639.6 1428.8,640.1 1429,640.6 1429.2,641.1 1429.3,641.6 1429.5,642.1 1429.7,642.6 1429.9,643.1 1430,643.5 1430.2,644 1430.4,644.5 1430.5,645 1430.7,645.4 1430.9,645.9 1431,646.4 1431.2,646.8 1431.4,647.3 1431.6,647.7 1431.7,648.2 1431.9,648.6 1432.1,649 1432.2,649.4 1432.4,649.8 1432.6,650.2 1432.7,650.6 1432.9,651 1433.1,651.4 1433.3,651.7 1433.4,652.1 1433.6,652.4 1433.8,652.8 1433.9,653.1 1434.1,653.4 1434.3,653.7 1434.4,654 1434.6,654.3 1434.8,654.6 1435,654.9 1435.1,655.2 1435.3,655.5 1435.5,655.8 1435.6,656.1 1435.8,656.3 1436,656.6 1436.1,656.9 1436.3,657.2 1436.5,657.4 1436.7,657.7 1436.8,658 1437,658.2 1437.2,658.5 1437.3,658.7 1437.5,658.9 1437.7,659.2 1437.8,659.4 1438,659.6 1438.2,659.9 1438.4,660.1 1438.5,660.3 1438.7,660.5 1438.9,660.7 1439,660.9 1439.2,661.1 1439.4,661.3 1439.5,661.4 1439.7,661.6 1439.9,661.8 1440.1,661.9 1440.2,662.1 1440.4,662.2 1440.6,662.3 1440.7,662.5 1440.9,662.6 1441.1,662.7 1441.2,662.9 1441.4,663 1441.6,663.1 1441.8,663.3 1441.9,663.4 1442.1,663.5 1442.3,663.6 1442.4,663.8 1442.6,663.9 1442.8,664 1442.9,664.1 1443.1,664.2 1443.3,664.3 1443.5,664.5 1443.6,664.6 1443.8,664.7 1444,664.8 1444.1,664.9 1444.3,665 1444.5,665 1444.6,665.1 1444.8,665.2 1445,665.3 1445.2,665.4 1445.3,665.4 1445.5,665.5 1445.7,665.6 1445.8,665.6 1446,665.7 1446.2,665.7 1446.3,665.8 1446.5,665.8 1446.7,665.8 1446.9,665.9" fill="none" stroke="none" marker-start="url(#mk2)" marker-mid="url(#mk2)" marker-end="url(#mk2)"/>
<circle cx="1446.9" cy="665.9" r="2.4" fill="#fff" stroke="#00F900" stroke-width="1.05"/>
<path d="M1383.6,665.9 1385.1,665.9 1386.6,665.8 1388.1,665.6 1389.6,665.5 1391.1,665.2 1392.5,665 1394,664.7 1395.5,664.4 1397,664.1 1398.4,663.7 1399.9,663.3 1401.3,662.7 1402.6,662.1 1404,661.5 1405.3,660.8 1406.7,660 1408,659.3 1409.3,658.5 1410.5,657.7 1411.7,656.8 1412.9,655.8 1414,654.9 1415.1,653.8 1416.2,652.8 1417.3,651.7 1418.4,650.7 1419.5,649.6 1420.6,648.6 1421.6,647.5 1422.6,646.4 1423.6,645.3 1424.7,644.2 1425.7,643.1 1426.8,642 1427.9,641 1429.1,640.1 1430.3,639.2 1431.5,638.3 1432.8,637.5 1434.1,636.8 1435.5,636.3 1437,635.9 1438.4,635.6 1439.9,635.4 1441.4,635.4 1442.9,635.6 1444.4,636.1 1445.8,636.6 1447.2,637.2 1448.5,637.8 1449.9,638.5 1451.1,639.4 1452.2,640.4 1453.3,641.4 1454.4,642.5 1455.5,643.6 1456.5,644.6 1457.5,645.7 1458.5,646.9 1459.5,648 1460.4,649.2 1461.4,650.4 1462.3,651.5 1463.3,652.7 1464.3,653.8 1465.4,654.9 1466.4,656 1467.4,657.1 1468.4,658.2 1469.5,659.2 1470.7,660.2 1471.8,661.2 1473,662.1 1474.2,663 1475.5,663.8 1476.8,664.6 1478.2,665.2 1479.6,665.5 1481.1,665.7 1482.6,665.9 1484.1,666 1485.6,666.1 1487.1,666.1" fill="none" stroke="#FF2600" stroke-width="5.9" stroke-linecap="round" stroke-linejoin="round"/>
<path d="M1461.2,665.9 1462.7,665.9 1464.2,665.7 1465.7,665.6 1467.2,665.3 1468.7,665 1470.1,664.7 1471.6,664.3 1473,663.9 1474.5,663.5 1475.9,663 1477.2,662.3 1478.5,661.6 1479.8,660.8 1481,659.9 1482.2,659 1483.4,658.1 1484.5,657.1 1485.6,656 1486.7,655 1487.7,653.8 1488.6,652.7 1489.5,651.5 1490.4,650.3 1491.3,649 1492.1,647.8 1492.9,646.5 1493.7,645.2 1494.5,643.9 1495.2,642.6 1495.9,641.3 1496.6,640 1497.3,638.6 1498,637.3 1498.6,635.9 1499.3,634.6 1499.9,633.2 1500.5,631.8 1501.2,630.5 1501.8,629.1 1502.5,627.8 1503.1,626.4 1503.8,625.1 1504.4,623.7 1505.1,622.4 1505.7,621 1506.4,619.6 1507,618.3 1507.7,616.9 1508.3,615.6 1509,614.2 1509.7,612.9 1510.4,611.6 1511.1,610.2 1511.9,608.9 1512.7,607.7 1513.5,606.4 1514.3,605.2 1515.2,604 1516.1,602.7 1517,601.5 1517.9,600.3 1518.7,599.1 1519.5,597.8 1520.3,596.5 1521.1,595.2 1521.9,593.9 1522.7,592.7 1523.4,591.4 1524.2,590.1 1524.9,588.7 1525.7,587.4 1526.4,586.1 1527.1,584.8 1527.9,583.5 1528.6,582.2 1529.3,580.9 1530,579.5 1530.7,578.2 1531.4,576.9 1532.1,575.5 1532.8,574.2 1533.5,572.9 1534.3,571.6 1535,570.3 1535.7,569 1536.4,567.6 1537,566.2 1537.6,564.8 1538,563.4 1538.5,562 1538.9,560.5 1539.3,559.1 1539.7,557.6 1540.1,556.2 1540.4,554.7 1540.7,553.2 1540.9,551.8 1541.2,550.3 1541.4,548.8 1541.6,547.3 1541.8,545.8 1542,544.3 1542.1,542.8 1542.3,541.3 1542.5,539.8 1542.6,538.3 1542.8,536.8 1542.9,535.3 1543,533.8 1543.1,532.3 1543.2,530.8 1543.3,529.3 1543.3,527.8 1543.4,526.3 1543.5,524.8 1543.5,523.3 1543.6,521.8 1543.6,520.3 1543.7,518.8 1543.7,517.3 1543.8,515.8 1543.8,514.3 1543.9,512.8 1543.9,511.3 1544,509.8 1544,508.3 1544.1,506.8 1544.1,505.3 1544.1,503.8 1544.2,502.3 1544.2,500.8 1544.2,499.3 1544.3,497.8 1544.3,496.3 1544.3,494.8 1544.3,493.3 1544.4,491.8 1544.4,490.3 1544.4,488.7 1544.4,487.2 1544.4,485.7 1544.4,484.2 1544.4,482.7 1544.4,481.2 1544.4,479.7 1544.4,478.2 1544.4,476.7 1544.4,475.2 1544.4,473.7 1544.4,472.2 1544.4,470.7 1544.4,469.2 1544.4,467.7 1544.4,466.2 1544.4,464.7 1544.4,463.2 1544.4,461.7 1544.4,460.2 1544.4,458.7 1544.4,457.2 1544.4,455.7 1544.4,454.2 1544.4,452.7 1544.3,451.2 1544.3,449.7 1544.3,448.2 1544.3,446.6 1544.3,445.1 1544.3,443.6 1544.3,442.1 1544.3,440.6 1544.3,439.1 1544.2,437.6 1544.2,436.1 1544.2,434.6 1544.2,433.1 1544.2,431.6 1544.2,430.1 1544.1,428.6 1544.1,427.1 1544.1,425.6" fill="none" stroke="#FF2600" stroke-width="5.9" stroke-linecap="round" stroke-linejoin="round"/>
<path d="M1491,663.6 1492.2,662.8 1493.5,661.9 1494.6,661 1495.8,660 1496.9,659 1498,658 1499.1,656.9 1500.1,655.8 1501,654.7 1501.9,653.5 1502.8,652.2 1503.6,651 1504.4,649.7 1505.1,648.4 1505.9,647.1 1506.7,645.8 1507.5,644.6 1508.3,643.3 1509.2,642.1 1510,640.8 1510.8,639.6 1511.7,638.3 1512.5,637.1 1513.3,635.8 1514,634.5 1514.7,633.2 1515.5,631.9 1516.2,630.6 1516.9,629.2 1517.6,627.9 1518.3,626.6 1519.1,625.3 1519.8,624 1520.6,622.7 1521.4,621.5 1522.2,620.2 1523,618.9 1523.8,617.7 1524.6,616.4 1525.4,615.1 1526.2,613.9 1527,612.6 1527.9,611.4 1528.7,610.1 1529.5,608.9 1530.3,607.6 1531.1,606.3 1531.9,605 1532.6,603.7 1533.2,602.4 1533.9,601 1534.5,599.6 1535.1,598.3 1535.7,596.9 1536.3,595.5 1536.9,594.1 1537.4,592.7 1537.9,591.3 1538.4,589.9 1538.9,588.5 1539.4,587.1 1539.8,585.6 1540.3,584.2 1540.6,582.7 1541,581.3 1541.3,579.8 1541.5,578.3 1541.8,576.9 1542,575.4 1542.3,573.9 1542.5,572.4 1542.6,570.9 1542.8,569.4 1543,567.9 1543.1,566.5 1543.3,565 1543.5,563.5 1543.6,562 1543.8,560.5 1543.9,559 1544.1,557.5 1544.2,556 1544.3,554.5 1544.4,553 1544.5,551.5 1544.6,550 1544.7,548.5 1544.7,547 1544.8,545.5 1544.8,544 1544.8,542.5 1544.8,541 1544.8,539.5 1544.8,538 1544.8,536.5 1544.8,535 1544.8,533.5 1544.8,532 1544.8,530.5 1544.8,529 1544.7,527.5 1544.7,526 1544.7,524.5 1544.7,523 1544.7,521.6 1544.7,520.1 1544.7,518.6 1544.7,517.1 1544.7,515.6 1544.6,514.1 1544.6,512.6 1544.6,511.1 1544.6,509.6 1544.6,508.1 1544.6,506.6 1544.6,505.1 1544.6,503.6 1544.5,502.1 1544.5,500.6 1544.5,499.1 1544.5,497.6 1544.5,496.1 1544.5,494.6 1544.5,493.1 1544.5,491.6 1544.4,490.1 1544.4,488.6 1544.4,487.1 1544.4,485.6 1544.4,484.1 1544.4,482.6 1544.4,481.1 1544.4,479.6 1544.4,478.1 1544.4,476.6 1544.3,475.1 1544.3,473.6 1544.3,472.1 1544.3,470.6 1544.3,469.1 1544.3,467.6 1544.3,466.1 1544.3,464.6 1544.3,463.1 1544.3,461.6 1544.3,460.1 1544.3,458.6 1544.3,457.1 1544.2,455.6 1544.2,454.1 1544.2,452.6 1544.2,451.1 1544.2,449.6 1544.2,448.1 1544.2,446.6 1544.2,445.1 1544.2,443.6 1544.2,442.1 1544.2,440.6 1544.2,439.1 1544.2,437.6 1544.1,436.1 1544.1,434.6 1544.1,433.1 1544.1,431.6 1544.1,430.1 1544.1,428.6 1544.1,427.1 1544.1,425.6" fill="none" stroke="#FF2600" stroke-width="5.9" stroke-linecap="round" stroke-linejoin="round"/>
<circle cx="1481.9" cy="666.4" r="2.9" fill="#FF2600"/>
<circle cx="1487.1" cy="666.4" r="2.9" fill="#FF2600"/>
<circle cx="1491.7" cy="664.2" r="2.9" fill="#FF2600"/>
<path d="M1500.1,665.9 1500.1,664.4 1500.1,662.9 1500.2,661.4 1500.2,659.9 1500.3,658.5 1500.4,657 1500.5,655.5 1500.6,654 1500.8,652.5 1501,651.1 1501.4,649.6 1501.8,648.2 1502.5,646.9 1503.7,646 1505.1,645.4 1506.4,646 1507.3,647.2 1508,648.5 1508.7,649.8 1509.4,651.1 1510,652.5 1510.5,653.9 1511,655.3 1511.5,656.7 1512.1,658.1 1512.8,659.4 1513.6,660.6 1514.6,661.7 1515.7,662.7 1516.9,663.6 1518.3,664.3 1519.6,664.8 1521,665.3 1522.5,665.7 1523.9,665.9" fill="none" stroke="#00F900" stroke-width="5.8" stroke-linecap="round" stroke-linejoin="round"/>
<circle cx="1523.9" cy="665.9" r="2.4" fill="#fff" stroke="#00F900" stroke-width="1.05"/>
<circle cx="1500.5" cy="665.9" r="2.4" fill="#fff" stroke="#00F900" stroke-width="1.05"/>
<path d="M1538.8,665.9 1540.3,665.8 1541.8,665.7 1543.3,665.5 1544.8,665.2 1546.3,664.9 1547.7,664.6 1549.2,664.2 1550.6,663.9 1552.1,663.5 1553.5,663 1554.9,662.4 1556.2,661.8 1557.6,661.1 1558.9,660.3 1560.2,659.6 1561.5,658.8 1562.7,658 1564,657.1 1565.1,656.2 1566.3,655.3 1567.5,654.3 1568.6,653.4 1569.8,652.4 1571,651.5 1572.3,650.7 1573.6,650 1574.9,649.3 1576.2,648.6 1577.6,647.9 1578.9,647.3 1580.3,646.8 1581.8,646.3 1583.2,646 1584.7,645.7 1586.2,645.5 1587.7,645.2 1589.2,645 1590.6,644.9 1592.1,644.8 1593.6,644.8 1595.1,644.9 1596.6,645.1 1598.1,645.3 1599.6,645.6 1601,646 1602.5,646.4 1603.9,646.8 1605.3,647.4 1606.6,648.1 1607.9,648.9 1609.1,649.7 1610.3,650.6 1611.6,651.5 1612.8,652.4 1614,653.3 1615.2,654.1 1616.5,655 1617.6,655.9 1618.8,656.8 1620,657.7 1621.3,658.6 1622.5,659.4 1623.8,660.1 1625.2,660.8 1626.6,661.4 1627.9,662 1629.3,662.5 1630.8,663 1632.2,663.5 1633.6,663.9 1635.1,664.3 1636.5,664.7 1638,665 1639.4,665.4 1640.9,665.6 1642.4,665.9" fill="none" stroke="#FF2600" stroke-width="5.9" stroke-linecap="round" stroke-linejoin="round"/>
<circle cx="1643.7" cy="666.1" r="2.9" fill="#FF2600"/>
<circle cx="1650.2" cy="666.1" r="2.9" fill="#FF2600"/>
<path d="M1563.4,665.5 1564.9,665.3 1566.3,664.8 1567.7,664.2 1568.9,663.3 1569.6,662 1570.2,660.7 1570.8,659.3 1571.4,657.9 1572.1,656.6 1572.8,655.3 1573.6,654 1574.7,653 1576,652.3 1577.4,651.9 1578.9,652.2 1580.1,653.1 1581.2,654.2 1582.2,655.2 1583.3,656.2 1584.4,657.2 1585.5,658.3 1586.5,659.3 1587.6,660.3 1588.8,661.3 1590,662.1 1591.3,662.9 1592.6,663.6 1594,664.2 1595.4,664.7 1596.8,665.1 1598.3,665.5 1599.7,665.7 1601.2,665.9" fill="none" stroke="#00F900" stroke-width="5.8" stroke-linecap="round" stroke-linejoin="round"/>
<circle cx="1601.2" cy="665.9" r="2.4" fill="#fff" stroke="#00F900" stroke-width="1.05"/>
<path d="M1615.2,665.9 1616.7,665.8 1618.2,665.7 1619.7,665.6 1621.2,665.4 1622.6,665.3 1624.1,665.1 1625.6,664.8 1627.1,664.6 1628.5,664.4 1630,664.1 1631.5,663.8 1632.9,663.4 1634.4,663 1635.8,662.6 1637.2,662.1 1638.6,661.6 1640,661.1 1641.4,660.6 1642.8,660.2 1644.3,659.7 1645.7,659.2 1647.1,658.7 1648.5,658.2 1649.9,657.6 1651.3,657.1 1652.7,656.6 1654.1,656.2 1655.5,655.7 1656.9,655.3 1658.4,654.9 1659.8,654.4 1661.2,654 1662.7,653.6 1664.1,653.3 1665.6,653 1667,652.7 1668.5,652.5 1670,652.4 1671.5,652.3 1673,652.1 1674.5,652 1676,652 1677.5,651.9 1679,651.9 1680.4,652 1681.9,652.1 1683.4,652.3 1684.9,652.5 1686.4,652.7 1687.8,653 1689.3,653.3 1690.8,653.6 1692.2,654 1693.6,654.5 1695,655 1696.4,655.5 1697.8,656.1 1699.2,656.6 1700.6,657.1 1702,657.5 1703.4,658 1704.9,658.4 1706.3,658.9 1707.7,659.3 1709.1,659.8 1710.6,660.2 1712,660.6 1713.5,660.9 1714.9,661.3 1716.4,661.6 1717.8,662 1719.3,662.3 1720.7,662.6 1722.2,662.9 1723.7,663.2 1725.1,663.4 1726.6,663.6 1728.1,663.7 1729.6,663.9 1731.1,664 1732.6,664.2 1734,664.3 1735.5,664.4 1737,664.5 1738.5,664.6 1740,664.6" fill="none" stroke="#FF2600" stroke-width="5.9" stroke-linecap="round" stroke-linejoin="round"/>
<path d="M1655.3,663.6 1656.8,663.1 1658.2,662.7 1659.6,662.2 1661.1,661.8 1662.6,661.5 1664,661.1 1665.5,660.8 1667,660.5 1668.4,660.3 1669.9,660.1 1671.4,659.9 1672.9,659.7 1674.4,659.5 1675.9,659.3 1677.4,659.2 1678.9,659.1 1680.4,659 1681.9,659 1683.4,659.1 1684.9,659.3 1686.4,659.5 1687.9,659.8 1689.3,660 1690.8,660.3 1692.3,660.6 1693.8,660.9 1695.2,661.2 1696.7,661.5 1698.2,661.8 1699.6,662.1 1701.1,662.5 1702.6,662.8 1704,663.1 1705.5,663.4 1707,663.5 1708.5,663.7 1710,663.8 1711.5,664 1713,664.1 1714.5,664.3 1716,664.4 1717.5,664.5 1719,664.6 1720.5,664.7 1722,664.8 1723.5,664.9 1725,665 1726.5,665.1 1728,665.2 1729.5,665.3 1731,665.3 1732.5,665.4 1734,665.4 1735.5,665.5 1737,665.5 1738.5,665.5 1740,665.5" fill="none" stroke="#FF2600" stroke-width="5.9" stroke-linecap="round" stroke-linejoin="round"/>
<path d="M1691.6,662.3 1693,661.8 1694.4,661.3 1695.9,661 1697.3,660.6 1698.8,660.4 1700.2,660.1 1701.7,660 1703.2,659.8 1704.7,659.7 1706.2,659.7 1707.7,659.7 1709.2,659.8 1710.6,660 1712.1,660.3 1713.5,660.7 1715,661.1 1716.4,661.5 1717.9,661.8 1719.3,662.1 1720.8,662.4 1722.3,662.6 1723.7,662.8 1725.2,663.1 1726.7,663.3 1728.2,663.5 1729.6,663.7 1731.1,663.9 1732.6,664.1 1734.1,664.2 1735.6,664.4 1737,664.6 1738.5,664.7 1740,664.9" fill="none" stroke="#FF2600" stroke-width="5.9" stroke-linecap="round" stroke-linejoin="round"/>
<path d="M1654.7,665.9 1656.1,665.6 1657.6,665.3 1659,665.1 1660.4,664.9 1661.9,664.8 1663.3,664.7 1664.8,664.6 1666.3,664.6 1667.7,664.6 1669.2,664.7 1670.6,664.7 1672.1,664.8 1673.5,665 1675,665.2 1676.4,665.4 1677.9,665.6 1679.3,665.9" fill="none" stroke="#00F900" stroke-width="5.8" stroke-linecap="round" stroke-linejoin="round"/>
<circle cx="1679.3" cy="665.9" r="2.4" fill="#fff" stroke="#00F900" stroke-width="1.05"/>
<path d="M1692.9,665.9 1694.4,665.9 1695.9,665.9 1697.4,665.9 1698.9,665.9 1700.4,665.9 1701.9,665.9 1703.4,665.9 1704.9,665.9 1706.4,665.9 1707.9,665.9 1709.4,665.9 1710.9,665.9 1712.4,665.9 1714,665.9 1715.5,665.9 1717,665.9 1718.5,665.9 1720,665.9 1721.5,665.9 1723,665.9 1724.5,665.9 1726,665.9 1727.5,665.9 1729,665.9 1730.5,665.9 1732,665.9 1733.5,665.9 1735,665.9 1736.5,665.9 1738,665.9 1739.5,665.9 1741,665.9 1742.6,665.9 1744.1,665.9 1745.6,665.9 1747.1,665.9 1748.6,665.9 1750.1,665.9 1751.6,665.9 1753.1,665.9 1754.6,665.9 1756.1,665.9 1757.6,665.9 1759.1,665.9 1760.6,665.9 1762.1,665.9 1763.6,665.9 1765.1,665.9 1766.6,665.9 1768.1,665.9 1769.6,665.9 1771.2,665.9 1772.7,665.8 1774.2,665.8 1775.7,665.8 1777.2,665.8 1778.7,665.8 1780.2,665.8 1781.7,665.8 1783.2,665.8 1784.7,665.8 1786.2,665.8 1787.7,665.8 1789.2,665.8 1790.7,665.8 1792.2,665.8 1793.7,665.8 1795.2,665.8 1796.7,665.8 1798.3,665.8 1799.8,665.8 1801.3,665.8 1802.8,665.7 1804.3,665.7 1805.8,665.7 1807.3,665.7 1808.8,665.7 1810.3,665.7 1811.8,665.7 1813.3,665.7 1814.8,665.7 1816.3,665.7 1817.8,665.7 1819.3,665.7 1820.8,665.7 1822.3,665.7 1823.8,665.7 1825.3,665.6 1826.9,665.6 1828.4,665.6 1829.9,665.6 1831.4,665.6 1832.9,665.6 1834.4,665.6 1835.9,665.6 1837.4,665.6" fill="none" stroke="#FF2600" stroke-width="6.2" stroke-linecap="round" stroke-linejoin="round"/>
<path d="M1742.5,665.6 1744,665.6 1745.5,665.6 1747.1,665.6 1748.6,665.6 1750.1,665.6 1751.7,665.6 1753.2,665.6 1754.7,665.6 1756.3,665.6" fill="none" stroke="#00F900" stroke-width="5.8" stroke-linecap="round" stroke-linejoin="round"/>
<circle cx="1756.3" cy="665.6" r="2.4" fill="#fff" stroke="#00F900" stroke-width="1.05"/>
</g>
<g clip-path="url(#cr2)">
<path d="M1065.2,993.8 1066.7,993.8 1068.2,993.8 1069.7,993.8 1071.2,993.9 1072.7,993.9 1074.2,993.9 1075.7,993.9 1077.2,994 1078.7,994 1080.3,994 1081.8,994.1 1083.3,994.1 1084.8,994.2 1086.3,994.2 1087.8,994.3 1089.3,994.5 1090.8,994.6 1092.3,994.9 1093.8,995.1 1095.3,995.3 1096.7,995.5 1098.2,995.8 1099.7,995.9 1101.2,996.1 1102.7,996.1 1104.2,996.2 1105.8,996.3 1107.3,996.3 1108.8,996.3 1110.3,996.4 1111.8,996.4 1113.3,996.5 1114.8,996.5 1116.3,996.5 1117.8,996.6 1119.3,996.6 1120.8,996.6 1122.3,996.7 1123.8,996.7 1125.4,996.7 1126.9,996.7 1128.4,996.7 1129.9,996.8 1131.4,996.8 1132.9,996.8 1134.4,996.8 1135.9,996.8 1137.4,996.8" fill="none" stroke="#00F900" stroke-width="5.8" stroke-linecap="round" stroke-linejoin="round"/>
<path d="M1065.2,996.1 1066.7,996.2 1068.2,996.2 1069.7,996.2 1071.2,996.2 1072.7,996.2 1074.2,996.2 1075.7,996.2 1077.2,996.3 1078.7,996.3 1080.2,996.3 1081.7,996.3 1083.2,996.3 1084.7,996.3 1086.2,996.3 1087.8,996.4 1089.3,996.4 1090.8,996.4 1092.3,996.4 1093.8,996.4 1095.3,996.4 1096.8,996.4 1098.3,996.4 1099.8,996.5 1101.3,996.5 1102.8,996.5 1104.3,996.5 1105.8,996.5 1107.3,996.5 1108.8,996.5 1110.3,996.6 1111.8,996.6 1113.3,996.6 1114.8,996.6 1116.3,996.6 1117.8,996.6 1119.4,996.6 1120.9,996.6 1122.4,996.7 1123.9,996.7 1125.4,996.7 1126.9,996.7 1128.4,996.7 1129.9,996.7 1131.4,996.7 1132.9,996.8 1134.4,996.8 1135.9,996.8 1137.4,996.8" fill="none" stroke="#00F900" stroke-width="5.8" stroke-linecap="round" stroke-linejoin="round"/>
<circle cx="1137.4" cy="996.8" r="2.4" fill="#fff" stroke="#00F900" stroke-width="1.05"/>
<path d="M1166.1,996.1 1167.4,995.3 1168.7,994.5 1170,993.8 1171.3,993.2 1172.7,992.7 1174.1,992.2 1175.6,991.8 1177,991.4 1178.5,991.1 1179.9,991 1181.4,991 1182.9,991.1 1184.4,991.3 1185.9,991.5 1187.3,991.7 1188.8,992.1 1190.2,992.6 1191.6,993.1 1193,993.7 1194.4,994.1 1195.8,994.6 1197.2,995 1198.7,995.4 1200.1,995.8 1201.6,996.1 1203.1,996.2 1204.5,996.3 1206,996.4 1207.5,996.5 1209,996.6 1210.5,996.7 1212,996.8 1213.5,996.8 1215,996.8" fill="none" stroke="#00F900" stroke-width="5.8" stroke-linecap="round" stroke-linejoin="round"/>
<circle cx="1215" cy="996.8" r="2.4" fill="#fff" stroke="#00F900" stroke-width="1.05"/>
<path d="M1166.1,996.1 1167,994.9 1167.9,993.7 1168.8,992.5 1169.7,991.3 1170.6,990.1 1171.5,988.9 1172.5,987.7 1173.4,986.5 1174.3,985.3 1175.2,984.1 1176.1,982.9 1177,981.7 1177.9,980.5 1178.8,979.3 1179.8,978.2 1180.7,977 1181.6,975.8 1182.6,974.6 1183.5,973.5 1184.5,972.3 1185.5,971.1 1186.4,970 1187.4,968.8 1188.4,967.7 1189.4,966.6 1190.4,965.5 1191.4,964.4 1192.5,963.3 1193.6,962.3 1194.6,961.2 1195.7,960.2 1196.8,959.1 1197.9,958.1 1199.1,957.2 1200.3,956.2 1201.5,955.3 1202.7,954.5 1204,953.7 1205.3,952.9 1206.6,952.2 1207.9,951.5 1209.3,950.9 1210.7,950.4 1212.2,950 1213.7,949.7 1215.1,949.4 1216.6,949.2 1218.1,949 1219.6,948.9 1221.1,948.9 1222.6,949 1224.1,949.3 1225.6,949.6 1227,950 1228.5,950.5 1229.9,950.9 1231.3,951.5 1232.6,952.2 1234,952.9 1235.2,953.7 1236.5,954.5 1237.7,955.4 1239,956.2 1240.2,957.1 1241.3,958.1 1242.5,959 1243.6,960 1244.7,961 1245.8,962.1 1246.9,963.1 1248,964.1 1249.1,965.1 1250.2,966.2 1251.3,967.2 1252.4,968.3 1253.4,969.4 1254.5,970.4 1255.5,971.5 1256.6,972.6 1257.6,973.7 1258.6,974.9 1259.5,976 1260.5,977.2 1261.4,978.3 1262.4,979.5 1263.4,980.6 1264.4,981.8 1265.4,982.9 1266.4,984 1267.5,985.1 1268.5,986.2 1269.6,987.2 1270.6,988.3 1271.8,989.2 1272.9,990.2 1274.1,991.1 1275.3,992.1 1276.5,993 1277.8,993.8 1279.1,994.5 1280.5,995 1281.9,995.5 1283.4,995.9 1284.9,996.2 1286.4,996.4 1287.9,996.5 1289.4,996.7 1290.9,996.8 1292.4,996.8" fill="none" stroke="#00F900" stroke-width="5.8" stroke-linecap="round" stroke-linejoin="round"/>
<circle cx="1292.4" cy="996.8" r="2.4" fill="#fff" stroke="#00F900" stroke-width="1.05"/>
<path d="M1340.2,996.8 1340.4,995.3 1340.6,993.9 1340.9,992.4 1341.2,991 1341.5,989.5 1341.9,988.1 1342.2,986.6 1342.7,985.2 1343.2,983.8 1343.7,982.5 1344.4,981.1 1345.1,979.9 1346.4,979.4 1347.7,980.1 1348.9,981 1350,982 1351,983.1 1351.9,984.2 1352.8,985.4 1353.7,986.6 1354.6,987.8 1355.6,988.9 1356.6,990 1357.6,991 1358.6,992.1 1359.8,993 1361,993.9 1362.3,994.6 1363.6,995.2 1365,995.7 1366.4,996.2 1367.9,996.5 1369.3,996.8" fill="none" stroke="#00F900" stroke-width="5.8" stroke-linecap="round" stroke-linejoin="round"/>
<circle cx="1369.3" cy="996.8" r="2.4" fill="#fff" stroke="#00F900" stroke-width="1.05"/>
<polyline points="1374.3,740.5 1374,740.6 1373.7,740.8 1373.5,741.1 1373.2,741.4 1373,741.7 1372.7,742.1 1372.4,742.5 1372.2,742.9 1371.9,743.3 1371.7,743.7 1371.4,744.3 1371.1,744.9 1370.9,745.6 1370.6,746.3 1370.4,747.1 1370.1,748 1369.8,748.9 1369.6,749.9 1369.3,750.9 1369.1,752 1368.8,753.2 1368.5,754.6 1368.3,756 1368,757.6 1367.8,759.3 1367.5,761 1367.2,762.8 1367,764.7 1366.7,766.5 1366.5,768.4 1366.2,770.3 1365.9,772.2 1365.7,774.2 1365.4,776.1 1365.2,778.2 1364.9,780.3 1364.6,782.4 1364.4,784.6 1364.1,786.8 1363.9,789.2 1363.6,791.5 1363.3,794 1363.1,796.5 1362.8,799.1 1362.6,801.9 1362.3,804.7 1362,807.7 1361.8,810.7 1361.5,813.7 1361.3,816.7 1361,819.7 1360.7,822.7 1360.5,825.7 1360.2,828.6 1360,831.7 1359.7,834.7 1359.4,837.7 1359.2,840.7 1358.9,843.8 1358.7,846.8 1358.4,849.9 1358.1,853 1357.9,856.1 1357.6,859.2 1357.4,862.4 1357.1,865.5 1356.8,868.6 1356.6,871.6 1356.3,874.6 1356.1,877.4 1355.8,880.3 1355.5,883.1 1355.3,885.9 1355,888.7 1354.8,891.4 1354.5,893.9 1354.2,896.3 1354,898.6 1353.7,900.6 1353.5,902.4 1353.2,904.2 1352.9,905.7 1352.7,907.3 1352.4,908.7 1352.2,910.2 1351.9,911.6 1351.6,913.1 1351.4,914.7 1351.1,916.4 1350.9,918.2 1350.6,920.1 1350.3,922 1350.1,923.9 1349.8,925.8 1349.6,927.8 1349.3,929.8 1349,931.7 1348.8,933.7 1348.5,935.6 1348.3,937.4 1348,939.2 1347.7,940.9 1347.5,942.6 1347.2,944.2 1347,945.8 1346.7,947.3 1346.4,948.9 1346.2,950.4 1345.9,952 1345.7,953.6 1345.4,955.2 1345.1,956.9 1344.9,958.7 1344.6,960.5 1344.4,962.4 1344.1,964.3 1343.8,966.3 1343.6,968.4 1343.3,970.5 1343.1,972.6 1342.8,974.8 1342.5,977 1342.3,979.1 1342,981.3 1341.8,983.4 1341.5,985.6 1341.2,987.8 1341,990 1340.7,992.3 1340.5,994.5 1340.2,996.8" fill="none" stroke="none" marker-start="url(#mk2)" marker-mid="url(#mk2)" marker-end="url(#mk2)"/>
<polyline points="1374.5,740.4 1374.7,740.5 1374.9,740.7 1375.1,741 1375.3,741.2 1375.5,741.5 1375.7,741.8 1375.9,742.2 1376.1,742.5 1376.3,742.9 1376.5,743.3 1376.7,743.7 1376.9,744.2 1377.1,744.6 1377.3,745.1 1377.5,745.6 1377.7,746.2 1377.9,746.8 1378.1,747.4 1378.3,748.1 1378.5,748.9 1378.7,749.7 1378.9,750.5 1379.1,751.3 1379.3,752.2 1379.5,753.1 1379.7,754 1379.9,754.9 1380.1,755.8 1380.3,756.8 1380.5,757.7 1380.7,758.6 1380.9,759.6 1381.1,760.6 1381.3,761.7 1381.5,762.7 1381.7,763.8 1381.9,764.9 1382.1,766 1382.3,767.2 1382.5,768.3 1382.7,769.5 1382.9,770.7 1383.1,771.9 1383.3,773.1 1383.5,774.3 1383.7,775.5 1383.9,776.7 1384.1,778 1384.3,779.3 1384.5,780.5 1384.7,781.8 1384.9,783.2 1385.1,784.5 1385.3,785.8 1385.5,787.2 1385.7,788.5 1385.9,789.9 1386.1,791.2 1386.3,792.6 1386.5,794 1386.7,795.3 1386.9,796.6 1387.1,798 1387.3,799.3 1387.5,800.6 1387.7,802 1387.9,803.3 1388.1,804.7 1388.3,806 1388.5,807.4 1388.7,808.7 1388.9,810.1 1389.1,811.5 1389.3,812.9 1389.5,814.4 1389.7,815.8 1389.9,817.3 1390.1,818.8 1390.3,820.4 1390.5,822 1390.7,823.6 1390.9,825.2 1391.1,826.9 1391.3,828.6 1391.5,830.3 1391.7,832 1391.9,833.6 1392.1,835.3 1392.3,836.9 1392.5,838.5 1392.7,840.1 1392.9,841.6 1393.1,843.1 1393.3,844.6 1393.5,846 1393.7,847.5 1393.9,848.9 1394.1,850.3 1394.3,851.6 1394.5,853 1394.7,854.4 1394.9,855.7 1395.1,857 1395.3,858.4 1395.5,859.7 1395.7,861.1 1395.9,862.4 1396.1,863.7 1396.3,865.1 1396.5,866.4 1396.7,867.8 1396.9,869.1 1397.1,870.5 1397.3,871.8 1397.5,873.2 1397.7,874.5 1397.9,875.8 1398.1,877.1 1398.3,878.5 1398.5,879.8 1398.7,881 1398.9,882.3 1399.1,883.6 1399.3,884.8 1399.5,886 1399.7,887.2 1399.9,888.5 1400.1,889.7 1400.3,890.9 1400.5,892 1400.7,893.2 1400.9,894.4 1401.1,895.5 1401.3,896.7 1401.5,897.8 1401.7,898.9 1401.9,899.9 1402.1,901 1402.3,902 1402.5,903 1402.7,904 1402.9,905 1403.1,905.9 1403.3,906.9 1403.5,907.8 1403.7,908.8 1403.9,909.7 1404.1,910.6 1404.3,911.5 1404.5,912.4 1404.7,913.3 1404.9,914.1 1405.1,915 1405.3,915.9 1405.5,916.7 1405.7,917.5 1405.9,918.4 1406.1,919.2 1406.3,920 1406.5,920.8 1406.7,921.6 1406.9,922.4 1407.1,923.2 1407.3,924 1407.5,924.8 1407.7,925.5 1407.9,926.3 1408.1,927.1 1408.3,927.8 1408.5,928.6 1408.7,929.3 1408.9,930.1 1409.1,930.8 1409.3,931.5 1409.5,932.2 1409.7,932.9 1409.9,933.6 1410.1,934.3 1410.3,935 1410.5,935.7 1410.7,936.4 1410.9,937 1411.1,937.7 1411.3,938.3 1411.5,939 1411.7,939.6 1411.9,940.2 1412.1,940.8 1412.3,941.4 1412.5,942 1412.7,942.6 1412.9,943.1 1413.1,943.7 1413.3,944.2 1413.5,944.8 1413.7,945.3 1413.9,945.9 1414.1,946.4 1414.3,946.9 1414.5,947.4 1414.7,947.9 1414.9,948.4 1415.1,949 1415.3,949.5 1415.5,950 1415.7,950.4 1415.9,950.9 1416.1,951.4 1416.3,951.9 1416.5,952.4 1416.7,952.9 1416.9,953.4 1417.1,953.9 1417.3,954.4 1417.5,954.8 1417.7,955.3 1417.9,955.8 1418.1,956.3 1418.3,956.8 1418.5,957.3 1418.7,957.8 1418.9,958.3 1419.1,958.8 1419.3,959.3 1419.5,959.8 1419.7,960.3 1419.9,960.8 1420.1,961.3 1420.3,961.8 1420.5,962.3 1420.7,962.8 1420.9,963.3 1421.1,963.8 1421.3,964.3 1421.5,964.8 1421.7,965.3 1421.9,965.8 1422.1,966.2 1422.3,966.7 1422.5,967.2 1422.7,967.7 1422.9,968.2 1423.1,968.6 1423.3,969.1 1423.5,969.5 1423.7,970 1423.9,970.4 1424.1,970.9 1424.3,971.3 1424.5,971.8 1424.7,972.2 1424.9,972.6 1425.1,973 1425.3,973.4 1425.5,973.8 1425.7,974.2 1425.9,974.6 1426.1,975 1426.3,975.4 1426.5,975.8 1426.7,976.2 1426.9,976.6 1427.1,977 1427.3,977.4 1427.5,977.7 1427.7,978.1 1427.9,978.5 1428.1,978.9 1428.3,979.2 1428.5,979.6 1428.7,979.9 1428.9,980.3 1429.1,980.7 1429.3,981 1429.5,981.3 1429.7,981.7 1429.9,982 1430.1,982.3 1430.3,982.7 1430.5,983 1430.7,983.3 1430.9,983.6 1431.1,983.9 1431.3,984.2 1431.5,984.5 1431.7,984.8 1431.9,985.1 1432.1,985.4 1432.3,985.7 1432.5,986 1432.7,986.2 1432.9,986.5 1433.1,986.8 1433.3,987.1 1433.5,987.4 1433.7,987.6 1433.9,987.9 1434.1,988.2 1434.3,988.5 1434.5,988.7 1434.7,989 1434.9,989.2 1435.1,989.5 1435.3,989.7 1435.5,990 1435.7,990.2 1435.9,990.4 1436.1,990.7 1436.3,990.9 1436.5,991.1 1436.7,991.3 1436.9,991.5 1437.1,991.7 1437.3,991.8 1437.5,992 1437.7,992.2 1437.9,992.3 1438.1,992.4 1438.3,992.6 1438.5,992.7 1438.7,992.9 1438.9,993 1439.1,993.2 1439.3,993.3 1439.5,993.4 1439.7,993.6 1439.9,993.7 1440.1,993.8 1440.3,994 1440.5,994.1 1440.7,994.2 1440.9,994.4 1441.1,994.5 1441.3,994.6 1441.5,994.7 1441.7,994.9 1441.9,995 1442.1,995.1 1442.3,995.2 1442.5,995.3 1442.7,995.4 1442.9,995.5 1443.1,995.6 1443.3,995.7 1443.5,995.8 1443.7,995.9 1443.9,996 1444.1,996.1 1444.3,996.2 1444.5,996.2 1444.7,996.3 1444.9,996.4 1445.1,996.4 1445.3,996.5 1445.5,996.5 1445.7,996.6 1445.9,996.6 1446.1,996.7 1446.3,996.7 1446.5,996.7 1446.7,996.8 1446.9,996.8" fill="none" stroke="none" marker-start="url(#mk2)" marker-mid="url(#mk2)" marker-end="url(#mk2)"/>
<circle cx="1446.9" cy="996.8" r="2.4" fill="#fff" stroke="#00F900" stroke-width="1.05"/>
<path d="M1497,996.8 1497.4,995.3 1497.9,993.9 1498.4,992.5 1499,991 1499.7,989.7 1500.2,988.2 1500.8,986.8 1501.5,985.5 1502.6,984.5 1503.9,985.2 1504.9,986.4 1505.8,987.6 1506.8,988.8 1507.8,989.9 1508.8,991.1 1509.9,992.2 1511,993.2 1512.2,994.1 1513.5,994.9 1514.9,995.6 1516.3,996.1 1517.8,996.5 1519.3,996.6 1520.8,996.7 1522.4,996.8 1523.9,996.8" fill="none" stroke="#00F900" stroke-width="5.8" stroke-linecap="round" stroke-linejoin="round"/>
<circle cx="1523.9" cy="996.8" r="2.4" fill="#fff" stroke="#00F900" stroke-width="1.05"/>
<circle cx="1503.9" cy="996.8" r="2.4" fill="#fff" stroke="#00F900" stroke-width="1.05"/>
<path d="M1515.5,994.9 1516.6,993.8 1517.7,992.8 1518.9,991.8 1520.2,991 1521.6,990.4 1523.1,990 1524.6,989.7 1526,989.4 1527.5,989.2 1529.1,989 1530.6,989.1 1532.1,989.2 1533.6,989.5 1535,989.9 1536.5,990.3 1538,990.7 1539.4,991.1 1540.9,991.6 1542.3,992.2 1543.7,992.8 1545.1,993.4 1546.5,993.9 1547.9,994.5 1549.4,994.9 1550.8,995.3 1552.3,995.6 1553.8,996 1555.3,996.3 1556.8,996.6 1558.3,996.8" fill="none" stroke="#00F900" stroke-width="5.8" stroke-linecap="round" stroke-linejoin="round"/>
<path d="M1567.3,992.3 1568.4,991.3 1569.6,990.3 1570.9,989.6 1572.3,989.1 1573.8,988.8 1575.3,988.5 1576.8,988.4 1578.3,988.4 1579.7,988.8 1581.1,989.4 1582.4,990.1 1583.7,990.8 1585,991.7 1586.1,992.7 1587.3,993.6 1588.5,994.5 1589.9,995.1 1591.3,995.7 1592.7,996.2 1594.1,996.6 1595.6,996.8 1597.1,996.8 1598.6,996.8 1600.1,996.8 1601.6,996.8" fill="none" stroke="#00F900" stroke-width="5.8" stroke-linecap="round" stroke-linejoin="round"/>
<circle cx="1601.6" cy="996.8" r="2.4" fill="#fff" stroke="#00F900" stroke-width="1.05"/>
<path d="M1655.3,996.8 1656.9,996.8 1658.5,996.8 1660.1,996.8 1661.7,996.8 1663.3,996.8 1664.9,996.8 1666.5,996.8 1668.1,996.8 1669.7,996.8 1671.3,996.8 1672.9,996.8 1674.5,996.8 1676.1,996.8 1677.7,996.8 1679.3,996.8" fill="none" stroke="#00F900" stroke-width="5.8" stroke-linecap="round" stroke-linejoin="round"/>
<circle cx="1679.3" cy="996.8" r="2.4" fill="#fff" stroke="#00F900" stroke-width="1.05"/>
<path d="M1151.9,996.8 1153.4,996.8 1154.9,996.7 1156.4,996.7 1157.9,996.7 1159.4,996.7 1160.9,996.7 1162.4,996.6 1163.9,996.6 1165.4,996.6 1166.9,996.6 1168.4,996.5 1169.9,996.5 1171.4,996.5 1172.9,996.5 1174.4,996.4 1176,996.4 1177.5,996.4 1179,996.4 1180.5,996.4 1182,996.3 1183.5,996.3 1185,996.3 1186.5,996.3 1188,996.2 1189.5,996.2 1191,996.2 1192.5,996.2 1194,996.1" fill="none" stroke="#FF2600" stroke-width="5.9" stroke-linecap="round" stroke-linejoin="round"/>
<path d="M1229.6,996.8 1231.1,996.8 1232.6,996.8 1234.1,996.7 1235.6,996.7 1237.1,996.6 1238.6,996.5 1240.2,996.5 1241.7,996.4 1243.2,996.3 1244.7,996.1 1246.2,996 1247.7,995.8 1249.2,995.6 1250.7,995.3 1252.2,995.1 1253.7,994.9 1255.2,994.7 1256.7,994.5 1258.2,994.3 1259.7,994 1261.2,993.8 1262.7,993.6 1264.1,993.3 1265.6,993.1 1267.1,992.9 1268.6,992.7 1270.1,992.5 1271.6,992.3 1273.1,992 1274.6,991.8 1276.1,991.6 1277.6,991.5 1279.1,991.3 1280.6,991.2 1282.1,991.1 1283.7,990.9 1285.2,990.8 1286.7,990.8 1288.2,990.7 1289.7,990.8 1291.2,991.1 1292.6,991.4 1294.1,991.7 1295.6,992 1297.1,992.4 1298.6,992.7 1300,993.1 1301.5,993.5 1302.9,994 1304.4,994.4 1305.8,995 1307.2,995.5" fill="none" stroke="#FF2600" stroke-width="5.9" stroke-linecap="round" stroke-linejoin="round"/>
<path d="M1307.2,996.8 1308.7,996.8 1310.2,996.7 1311.7,996.7 1313.2,996.6 1314.7,996.5 1316.2,996.4 1317.7,996.2 1319.2,996.1 1320.7,995.9 1322.2,995.6 1323.7,995.2 1325.1,994.8 1326.6,994.3 1328,993.8 1329.4,993.3 1330.8,992.7 1332.2,992.1 1333.5,991.4 1334.8,990.7 1336.1,989.8 1337.3,989 1338.5,988.1 1339.7,987.1 1340.9,986.2 1342.1,985.3 1343.3,984.3 1344.5,983.4 1345.7,982.5 1346.9,981.6 1348.1,980.7 1349.3,979.7 1350.4,978.8 1351.6,977.8 1352.8,976.9 1354,975.9 1355.1,975 1356.3,974 1357.4,973 1358.6,972.1 1359.7,971.1 1360.9,970.1 1362,969.1 1363.2,968.1 1364.3,967.1 1365.4,966.1 1366.6,965.1 1367.7,964.1 1368.8,963.1 1369.8,962 1370.9,960.9 1371.9,959.8 1372.9,958.6 1373.8,957.5 1374.7,956.3 1375.7,955.1 1376.7,953.9 1377.7,952.8 1378.8,951.8 1379.9,950.8 1381.1,949.8 1382.3,948.9" fill="none" stroke="#FF2600" stroke-width="5.9" stroke-linecap="round" stroke-linejoin="round"/>
<path d="M1309.8,997.2 1311.3,997.2 1312.8,997.1 1314.3,997.1 1315.8,997 1317.3,996.9 1318.8,996.8 1320.3,996.6 1321.8,996.5 1323.3,996.3 1324.8,996.2 1326.3,995.9 1327.8,995.7 1329.2,995.3 1330.7,995 1332.2,994.6 1333.6,994.2 1335.1,993.8 1336.5,993.3 1337.9,992.7 1339.2,992 1340.5,991.3 1341.8,990.5 1343.1,989.7 1344.3,988.8 1345.6,988 1346.8,987.1 1348,986.2 1349.2,985.3 1350.5,984.4 1351.6,983.5 1352.8,982.6 1354,981.6 1355.1,980.6 1356.2,979.6 1357.4,978.6 1358.5,977.6 1359.6,976.6 1360.7,975.6 1361.8,974.5 1362.9,973.5 1364.1,972.5 1365.2,971.6 1366.3,970.5 1367.4,969.5 1368.6,968.5 1369.6,967.5 1370.7,966.4 1371.8,965.3 1372.8,964.2 1373.8,963.1 1374.8,962 1375.7,960.8 1376.7,959.6 1377.6,958.4 1378.4,957.2 1379.3,955.9 1380.1,954.7 1381,953.4" fill="none" stroke="#FF2600" stroke-width="5.9" stroke-linecap="round" stroke-linejoin="round"/>
<path d="M1383.6,996.8 1385,996.7 1386.5,996.6 1388,996.4 1389.5,996.2 1391,996 1392.4,995.7 1393.9,995.4 1395.3,995.1 1396.8,994.8 1398.2,994.4 1399.7,994 1401.1,993.4 1402.4,992.9 1403.8,992.3 1405.2,991.7 1406.5,991 1407.9,990.4 1409.2,989.8 1410.6,989.2 1411.9,988.5 1413.2,987.8 1414.5,987.1 1415.8,986.4 1417.1,985.7 1418.5,985 1419.8,984.3 1421.2,983.7 1422.5,983.1 1423.9,982.6 1425.3,982 1426.7,981.5 1428.1,981 1429.5,980.6 1431,980.2 1432.4,980 1433.9,979.9 1435.4,979.8 1436.9,979.7 1438.4,979.6 1439.9,979.6 1441.4,979.6 1442.8,979.8 1444.3,980.1 1445.7,980.5 1447.2,980.9 1448.6,981.4 1450,981.9 1451.4,982.5 1452.7,983.1 1454,983.8 1455.3,984.6 1456.6,985.3 1457.9,986 1459.2,986.7 1460.5,987.5 1461.8,988.2 1463.1,989 1464.4,989.7 1465.6,990.5 1466.9,991.2 1468.3,991.9 1469.6,992.6 1470.9,993.4 1472.2,994.1 1473.5,994.7 1474.9,995.3 1476.3,995.8 1477.7,996.2 1479.2,996.5 1480.6,996.8" fill="none" stroke="#FF2600" stroke-width="5.9" stroke-linecap="round" stroke-linejoin="round"/>
<path d="M1461.2,996.8 1462.7,996.8 1464.2,996.6 1465.7,996.5 1467.2,996.3 1468.7,996 1470.1,995.8 1471.6,995.4 1473.1,995.1 1474.5,994.8 1476,994.4 1477.4,993.8 1478.7,993.3 1480.1,992.6 1481.4,991.9 1482.7,991.2 1484,990.4 1485.3,989.6 1486.5,988.8 1487.7,987.9 1488.9,987 1490.1,986.1 1491.2,985.1 1492.3,984 1493.3,983 1494.3,981.9 1495.3,980.8 1496.3,979.7 1497.3,978.5 1498.3,977.4 1499.3,976.3 1500.3,975.2 1501.3,974 1502.3,972.9 1503.3,971.8 1504.2,970.6 1505.1,969.5 1506,968.3 1506.9,967 1507.8,965.8 1508.6,964.6 1509.4,963.3 1510.2,962 1511,960.8 1511.7,959.5 1512.5,958.2 1513.2,956.9 1513.9,955.6 1514.6,954.2 1515.4,952.9 1516,951.6 1516.7,950.3 1517.4,948.9 1518,947.6 1518.6,946.2 1519.2,944.8 1519.8,943.4 1520.3,942 1520.9,940.7 1521.4,939.2 1521.9,937.8 1522.4,936.4 1522.9,935 1523.3,933.6 1523.8,932.1 1524.1,930.7 1524.5,929.2 1524.8,927.8 1525.1,926.3 1525.4,924.9 1525.7,923.4 1526,921.9 1526.3,920.4 1526.5,919 1526.7,917.5 1527,916 1527.2,914.5 1527.4,913 1527.6,911.6 1527.8,910.1 1527.9,908.6 1528.1,907.1 1528.2,905.6 1528.4,904.1 1528.5,902.6 1528.7,901.1 1528.8,899.7 1528.9,898.2 1529.1,896.7 1529.2,895.2 1529.3,893.7 1529.4,892.2 1529.5,890.7 1529.6,889.2 1529.7,887.7 1529.7,886.2 1529.8,884.7 1529.9,883.2 1530,881.7 1530.1,880.2 1530.2,878.7 1530.3,877.3 1530.4,875.8 1530.5,874.3 1530.6,872.8 1530.6,871.3 1530.7,869.8 1530.8,868.3 1530.9,866.8 1530.9,865.3 1531,863.8 1531.1,862.3 1531.1,860.8 1531.2,859.3 1531.2,857.8 1531.2,856.3 1531.3,854.8 1531.3,853.3 1531.3,851.8 1531.3,850.3 1531.3,848.8 1531.3,847.3 1531.3,845.9 1531.3,844.4 1531.3,842.9 1531.3,841.4 1531.3,839.9 1531.2,838.4 1531.2,836.9 1531.2,835.4 1531.2,833.9 1531.2,832.4 1531.2,830.9 1531.2,829.4 1531.1,827.9 1531.1,826.4 1531.1,824.9 1531.1,823.4 1531.1,821.9 1531,820.4 1531,818.9 1531,817.4 1531,815.9 1531,814.4 1530.9,812.9 1530.9,811.4 1530.9,809.9 1530.9,808.4 1530.9,806.9 1530.9,805.4 1530.8,803.9 1530.8,802.5 1530.8,801 1530.8,799.5 1530.8,798 1530.8,796.5 1530.8,795 1530.7,793.5 1530.7,792 1530.7,790.5 1530.7,789 1530.7,787.5 1530.7,786 1530.7,784.5 1530.7,783 1530.7,781.5 1530.6,780 1530.6,778.5 1530.6,777 1530.6,775.5 1530.6,774 1530.6,772.5 1530.6,771 1530.6,769.5 1530.6,768 1530.6,766.5 1530.5,765 1530.5,763.5 1530.5,762 1530.5,760.6 1530.5,759.1 1530.5,757.6 1530.5,756.1 1530.5,754.6 1530.5,753.1 1530.5,751.6 1530.5,750.1 1530.4,748.6 1530.4,747.1 1530.4,745.6 1530.4,744.1 1530.4,742.6 1530.4,741.1 1530.4,739.6" fill="none" stroke="#FF2600" stroke-width="5.9" stroke-linecap="round" stroke-linejoin="round"/>
<path d="M1487.1,996.8 1488.5,996.2 1489.9,995.6 1491.2,994.9 1492.6,994.2 1493.9,993.5 1495.2,992.8 1496.5,992 1497.7,991.2 1499,990.4 1500.3,989.5 1501.5,988.7 1502.7,987.8 1503.9,986.9 1505,985.9 1506.1,984.9 1507.1,983.7 1508,982.5 1508.8,981.3 1509.6,980 1510.4,978.7 1511.1,977.4 1511.8,976.1 1512.6,974.8 1513.3,973.5 1514.1,972.2 1514.9,970.9 1515.6,969.6 1516.4,968.3 1517.1,967 1517.8,965.6 1518.5,964.3 1519.2,963 1519.8,961.6 1520.5,960.3 1521.1,958.9 1521.7,957.5 1522.4,956.2 1523,954.8 1523.5,953.4 1524.1,952 1524.6,950.6 1525.1,949.2 1525.6,947.8 1526.1,946.3 1526.5,944.9 1527,943.5 1527.4,942 1527.8,940.6 1528.2,939.1 1528.6,937.7 1529,936.2 1529.3,934.7 1529.6,933.3 1529.9,931.8 1530.2,930.3 1530.4,928.8 1530.6,927.4 1530.8,925.9 1531,924.4 1531.2,922.9 1531.4,921.4 1531.6,919.9 1531.8,918.4 1531.9,916.9 1532,915.4 1532.2,913.9 1532.2,912.4 1532.3,910.9 1532.4,909.4 1532.4,907.9 1532.4,906.4 1532.5,904.9 1532.5,903.4 1532.5,901.9 1532.5,900.4 1532.6,898.9 1532.6,897.4 1532.6,895.9 1532.6,894.4 1532.6,892.9 1532.6,891.4 1532.6,889.9 1532.6,888.4 1532.6,886.9 1532.6,885.4 1532.6,883.9 1532.5,882.4 1532.5,880.9 1532.4,879.4 1532.4,877.9 1532.3,876.3 1532.3,874.8 1532.2,873.3 1532.1,871.8 1532.1,870.3 1532,868.8 1531.9,867.3 1531.8,865.8 1531.8,864.3 1531.7,862.8 1531.6,861.3 1531.6,859.8 1531.5,858.3 1531.5,856.8 1531.4,855.3 1531.4,853.8 1531.3,852.3 1531.3,850.8 1531.3,849.3 1531.3,847.8 1531.2,846.3 1531.2,844.8 1531.2,843.3 1531.2,841.8 1531.2,840.3 1531.1,838.8 1531.1,837.3 1531.1,835.8 1531.1,834.3 1531.1,832.8 1531.1,831.3 1531,829.8 1531,828.3 1531,826.8 1531,825.3 1531,823.8 1531,822.3 1531,820.8 1531,819.3 1530.9,817.8 1530.9,816.3 1530.9,814.7 1530.9,813.2 1530.9,811.7 1530.9,810.2 1530.9,808.7 1530.9,807.2 1530.8,805.7 1530.8,804.2 1530.8,802.7 1530.8,801.2 1530.8,799.7 1530.8,798.2 1530.8,796.7 1530.8,795.2 1530.8,793.7 1530.7,792.2 1530.7,790.7 1530.7,789.2 1530.7,787.7 1530.7,786.2 1530.7,784.7 1530.7,783.2 1530.7,781.7 1530.6,780.2 1530.6,778.7 1530.6,777.2 1530.6,775.7 1530.6,774.2 1530.6,772.7 1530.6,771.2 1530.6,769.7 1530.6,768.2 1530.6,766.7 1530.5,765.2 1530.5,763.6 1530.5,762.1 1530.5,760.6 1530.5,759.1 1530.5,757.6 1530.5,756.1 1530.5,754.6 1530.5,753.1 1530.5,751.6 1530.5,750.1 1530.4,748.6 1530.4,747.1 1530.4,745.6 1530.4,744.1 1530.4,742.6 1530.4,741.1 1530.4,739.6" fill="none" stroke="#FF2600" stroke-width="5.9" stroke-linecap="round" stroke-linejoin="round"/>
<path d="M1538.8,996.8 1540.3,996.7 1541.8,996.6 1543.3,996.5 1544.8,996.4 1546.3,996.2 1547.7,996.1 1549.2,995.9 1550.7,995.7 1552.2,995.4 1553.6,995.2 1555.1,994.9 1556.6,994.6 1558,994.2 1559.4,993.8 1560.9,993.4 1562.3,993 1563.7,992.6 1565.2,992.1 1566.6,991.7 1568,991.1 1569.4,990.6 1570.7,990 1572.1,989.5 1573.5,988.9 1574.9,988.4 1576.4,988 1577.8,987.7 1579.3,987.4 1580.7,987.2 1582.2,986.9 1583.7,986.7 1585.2,986.4 1586.6,986.3 1588.1,986.1 1589.6,986.1 1591.1,986.1 1592.6,986.1 1594.1,986.2 1595.6,986.4 1597,986.6 1598.5,986.8 1600,987.1 1601.4,987.3 1602.9,987.6 1604.4,987.9 1605.8,988.3 1607.2,988.8 1608.6,989.3 1610,989.8 1611.4,990.4 1612.8,990.9 1614.2,991.5 1615.6,992 1617,992.4 1618.4,992.8 1619.9,993.2 1621.3,993.6 1622.7,994 1624.2,994.4 1625.6,994.7 1627.1,995 1628.5,995.3 1630,995.6 1631.5,995.8 1633,996 1634.4,996.2 1635.9,996.4" fill="none" stroke="#FF2600" stroke-width="5.9" stroke-linecap="round" stroke-linejoin="round"/>
<path d="M1615.2,996.8 1616.7,996.7 1618.2,996.6 1619.7,996.5 1621.2,996.4 1622.7,996.3 1624.2,996.1 1625.7,996 1627.2,995.8 1628.6,995.6 1630.1,995.4 1631.6,995.2 1633.1,994.9 1634.5,994.6 1636,994.3 1637.5,994 1638.9,993.7 1640.4,993.3 1641.9,993 1643.3,992.7 1644.8,992.4 1646.3,992.1 1647.7,991.8 1649.2,991.4 1650.7,991.1 1652.1,990.8 1653.6,990.6 1655.1,990.4 1656.6,990.2 1658.1,990 1659.5,989.7 1661,989.6 1662.5,989.4 1664,989.2 1665.5,989.1 1667,989 1668.5,989 1670,989 1671.5,989 1673,989 1674.5,989 1676,989 1677.5,989 1679,989 1680.5,989 1682,989 1683.5,989.1 1685,989.2 1686.5,989.3 1687.9,989.5 1689.4,989.7 1690.9,989.9 1692.4,990.1 1693.9,990.3 1695.4,990.5 1696.9,990.7 1698.3,990.9 1699.8,991.1 1701.3,991.4 1702.8,991.6 1704.3,991.8 1705.7,992.1 1707.2,992.3 1708.7,992.5 1710.2,992.8 1711.7,993 1713.1,993.3 1714.6,993.5 1716.1,993.7 1717.6,993.9 1719.1,994.1 1720.6,994.3 1722.1,994.4 1723.6,994.5 1725,994.7 1726.5,994.8 1728,994.9 1729.5,995 1731,995.1 1732.5,995.2 1734,995.3 1735.5,995.4 1737,995.4 1738.5,995.5 1740,995.5" fill="none" stroke="#FF2600" stroke-width="5.9" stroke-linecap="round" stroke-linejoin="round"/>
<path d="M1648.9,994.9 1650.3,994.6 1651.8,994.3 1653.3,994 1654.8,993.8 1656.3,993.5 1657.7,993.3 1659.2,993.1 1660.7,992.9 1662.2,992.7 1663.7,992.6 1665.2,992.5 1666.7,992.4 1668.2,992.3 1669.7,992.2 1671.2,992.1 1672.7,992.1 1674.2,992 1675.7,992 1677.2,991.9 1678.7,991.9 1680.2,991.9 1681.7,991.9 1683.2,991.9 1684.7,992 1686.2,992.1 1687.7,992.2 1689.2,992.3 1690.6,992.5 1692.1,992.7 1693.6,992.8 1695.1,993 1696.6,993.2 1698.1,993.3 1699.6,993.5 1701.1,993.6 1702.6,993.7 1704.1,993.8 1705.6,993.9 1707.1,994 1708.6,994.2 1710.1,994.3 1711.6,994.4 1713.1,994.5 1714.5,994.6 1716,994.7 1717.5,994.8 1719,994.9 1720.5,995 1722,995.1 1723.5,995.2 1725,995.3 1726.5,995.4 1728,995.5 1729.5,995.6 1731,995.6 1732.5,995.7 1734,995.8 1735.5,995.9 1737,996 1738.5,996.1 1740,996.1" fill="none" stroke="#FF2600" stroke-width="5.9" stroke-linecap="round" stroke-linejoin="round"/>
<path d="M1615.2,996.8 1616.7,996.8 1618.3,996.8 1619.8,996.8 1621.3,996.8 1622.9,996.8 1624.4,996.8 1625.9,996.8 1627.4,996.8 1629,996.8 1630.5,996.8 1632,996.8 1633.6,996.8 1635.1,996.8 1636.6,996.8 1638.2,996.8 1639.7,996.8 1641.2,996.8 1642.7,996.8 1644.3,996.8 1645.8,996.8 1647.3,996.8 1648.9,996.8" fill="none" stroke="#FF2600" stroke-width="6.2" stroke-linecap="round" stroke-linejoin="round"/>
<path d="M1683.8,996.8 1685.3,996.8 1686.9,996.8 1688.4,996.8 1689.9,996.8 1691.4,996.8 1692.9,996.8 1694.4,996.8 1696,996.8 1697.5,996.8 1699,996.8 1700.5,996.8 1702,996.8 1703.6,996.8 1705.1,996.8 1706.6,996.8 1708.1,996.8 1709.6,996.8 1711.2,996.8 1712.7,996.8 1714.2,996.8 1715.7,996.8 1717.2,996.8 1718.7,996.8 1720.3,996.8 1721.8,996.8 1723.3,996.8 1724.8,996.8 1726.3,996.8 1727.9,996.8 1729.4,996.8 1730.9,996.8 1732.4,996.8 1733.9,996.8 1735.4,996.8 1737,996.8 1738.5,996.8 1740,996.8" fill="none" stroke="#FF2600" stroke-width="6.2" stroke-linecap="round" stroke-linejoin="round"/>
<path d="M1654,990.4 1655.5,990.1 1656.9,989.7 1658.4,989.4 1659.8,989.1 1661.3,988.8 1662.8,988.6 1664.3,988.3 1665.7,988.2 1667.2,988 1668.7,987.9 1670.2,987.7 1671.7,987.6 1673.2,987.5 1674.7,987.4 1676.2,987.3 1677.7,987.2 1679.2,987.2 1680.7,987.2 1682.2,987.2 1683.7,987.3 1685.2,987.4 1686.6,987.5 1688.1,987.7 1689.6,987.9 1691.1,988.1 1692.6,988.3 1694,988.6 1695.5,988.8 1697,989 1698.5,989.2 1700,989.4 1701.5,989.6 1702.9,989.9 1704.4,990.1 1705.9,990.4 1707.4,990.6 1708.8,990.9 1710.3,991.1 1711.8,991.3 1713.3,991.6 1714.7,991.8 1716.2,992 1717.7,992.1 1719.2,992.3 1720.7,992.4 1722.2,992.6 1723.7,992.7 1725.2,992.9 1726.7,993 1728.1,993.1 1729.6,993.3 1731.1,993.4 1732.6,993.5 1734.1,993.6 1735.6,993.8 1737.1,993.9 1738.6,994 1740.1,994.1 1741.6,994.1 1743.1,994.2 1744.6,994.3 1746.1,994.3 1747.6,994.4 1749,994.4 1750.5,994.4 1752,994.4 1753.5,994.4 1755,994.4 1756.5,994.4 1758,994.4 1759.5,994.4 1761,994.4 1762.5,994.4 1764,994.4 1765.5,994.4 1767,994.3 1768.5,994.3 1770,994.3 1771.5,994.3 1773,994.2 1774.5,994.2 1776,994.2 1777.5,994.1 1779,994.1 1780.5,994 1782,993.9 1783.4,993.9" fill="none" stroke="#FF2600" stroke-width="5.9" stroke-linecap="round" stroke-linejoin="round"/>
<path d="M1654,993.6 1655.5,993.4 1657,993.1 1658.4,992.8 1659.9,992.6 1661.4,992.4 1662.9,992.2 1664.4,992 1665.9,991.8 1667.4,991.6 1668.9,991.5 1670.4,991.4 1671.9,991.3 1673.4,991.2 1674.9,991.1 1676.4,991 1677.9,991 1679.4,991 1680.9,990.9 1682.4,991 1683.9,991 1685.4,991.1 1686.9,991.2 1688.4,991.3 1689.9,991.5 1691.4,991.7 1692.9,991.8 1694.3,992 1695.8,992.2 1697.3,992.4 1698.8,992.6 1700.3,992.8 1701.8,993 1703.3,993.2 1704.8,993.4 1706.3,993.5 1707.8,993.6 1709.3,993.7 1710.8,993.9 1712.3,994 1713.8,994.1 1715.3,994.2 1716.8,994.3 1718.3,994.4 1719.8,994.5 1721.3,994.6 1722.8,994.8 1724.3,994.9 1725.8,995 1727.3,995.1 1728.8,995.2 1730.3,995.3 1731.8,995.4 1733.3,995.5 1734.8,995.5 1736.3,995.6 1737.8,995.7 1739.3,995.8 1740.8,995.8 1742.3,995.9 1743.8,995.9 1745.3,996 1746.8,996 1748.3,996 1749.8,996 1751.3,996 1752.8,996 1754.3,996 1755.8,996 1757.3,996 1758.8,996 1760.3,996 1761.8,996 1763.3,996 1764.8,996 1766.3,996 1767.8,996 1769.3,996 1770.8,996 1772.3,996 1773.8,996 1775.3,996 1776.8,996 1778.3,996 1779.8,996 1781.4,996 1782.9,996 1784.4,996 1785.9,996 1787.4,996 1788.9,996 1790.4,996 1791.9,996 1793.4,996 1794.9,996 1796.4,996 1797.9,996 1799.4,996 1800.9,996 1802.4,996 1803.9,996 1805.4,996 1806.9,996 1808.4,996 1809.9,996 1811.4,996 1812.9,996 1814.4,996 1815.9,996 1817.4,996 1818.9,996 1820.4,996 1821.9,996 1823.4,996 1824.9,996 1826.4,996 1827.9,996 1829.4,996 1831,996 1832.5,996 1834,996 1835.5,996 1837,996 1838.5,996" fill="none" stroke="#FF2600" stroke-width="6.4" stroke-linecap="round" stroke-linejoin="round"/>
<path d="M1784,989.3 1785.5,989.5 1787,989.6 1788.5,989.7 1790,989.8 1791.5,989.9 1793.1,990.1 1794.6,990.2 1796.1,990.3 1797.6,990.4 1799.1,990.5 1800.6,990.6 1802.1,990.7 1803.7,990.9 1805.2,991 1806.7,991.1 1808.2,991.2 1809.7,991.3 1811.2,991.4 1812.7,991.5 1814.2,991.6 1815.8,991.7 1817.3,991.8 1818.8,991.9 1820.3,992 1821.8,992.1 1823.3,992.2 1824.8,992.3 1826.4,992.4 1827.9,992.5 1829.4,992.6 1830.9,992.7 1832.4,992.8 1833.9,992.8 1835.4,992.9 1837,993 1838.5,993.1" fill="none" stroke="#FF2600" stroke-width="5.9" stroke-linecap="round" stroke-linejoin="round"/>
<path d="M1784,992.6 1785.5,992.6 1787,992.7 1788.5,992.7 1790,992.8 1791.6,992.8 1793.1,992.9 1794.6,992.9 1796.1,993 1797.6,993.1 1799.1,993.1 1800.6,993.2 1802.1,993.2 1803.7,993.3 1805.2,993.3 1806.7,993.4 1808.2,993.4 1809.7,993.5 1811.2,993.5 1812.7,993.6 1814.3,993.6 1815.8,993.7 1817.3,993.8 1818.8,993.8 1820.3,993.9 1821.8,993.9 1823.3,994 1824.8,994 1826.4,994.1 1827.9,994.1 1829.4,994.2 1830.9,994.2 1832.4,994.3 1833.9,994.3 1835.4,994.4 1837,994.5 1838.5,994.5" fill="none" stroke="#FF2600" stroke-width="5.9" stroke-linecap="round" stroke-linejoin="round"/>
</g>
<rect x="1065.7" y="23.9" width="772.7" height="333.2" fill="none" stroke="#000" stroke-width="2.7"/>
<rect x="1065.7" y="357.2" width="772.7" height="333.3" fill="none" stroke="#000" stroke-width="2.7"/>
<rect x="1065.7" y="690.5" width="772.7" height="333.3" fill="none" stroke="#000" stroke-width="2.7"/>
<text x="1065.7" y="1065.4" font-size="35.8" text-anchor="middle">0</text>
<text x="1220.2" y="1065.4" font-size="35.8" text-anchor="middle">1</text>
<text x="1374.8" y="1065.4" font-size="35.8" text-anchor="middle">2</text>
<text x="1529.3" y="1065.4" font-size="35.8" text-anchor="middle">3</text>
<text x="1683.9" y="1065.4" font-size="35.8" text-anchor="middle">4</text>
<text x="1838.4" y="1065.4" font-size="35.8" text-anchor="middle">5</text>
<text x="1452" y="1125.2" font-size="37.4" text-anchor="middle">Time (optical cycles)</text>
<text x="991.2" y="480" font-size="37.6" text-anchor="middle" transform="rotate(-90 991.2 480)">Harmonic order</text>
<text x="1811.6" y="58.6" font-size="36.5" text-anchor="middle">(d)</text>
<text x="1805" y="394.8" font-size="36.5" text-anchor="middle">(e)</text>
<text x="1799.8" y="724.5" font-size="36.5" text-anchor="middle">(f)</text>
<text x="1051" y="34.5" font-size="35.8" text-anchor="end">10</text>
<text x="1051" y="167.8" font-size="35.8" text-anchor="end">8</text>
<text x="1051" y="301.1" font-size="35.8" text-anchor="end">6</text>
<text x="1051" y="367.8" font-size="35.8" text-anchor="end">20</text>
<text x="1051" y="486.8" font-size="35.8" text-anchor="end">15</text>
<text x="1051" y="605.9" font-size="35.8" text-anchor="end">10</text>
<text x="1051" y="701.1" font-size="35.8" text-anchor="end">30</text>
<text x="1051" y="767.8" font-size="35.8" text-anchor="end">25</text>
<text x="1051" y="834.4" font-size="35.8" text-anchor="end">20</text>
<text x="1051" y="901.1" font-size="35.8" text-anchor="end">15</text>
<text x="1051" y="967.7" font-size="35.8" text-anchor="end">10</text>
<text x="1051" y="1034.4" font-size="35.8" text-anchor="end">5</text>
</svg>
</body></html>
